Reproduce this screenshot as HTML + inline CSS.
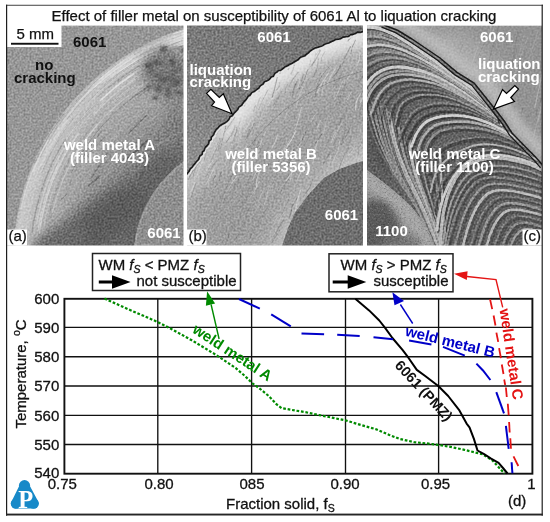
<!DOCTYPE html>
<html><head><meta charset="utf-8"><title>Effect of filler metal on susceptibility of 6061 Al to liquation cracking</title><style>
html,body{margin:0;padding:0;background:#fff;}
body{width:550px;height:522px;overflow:hidden;position:relative;}
svg{display:block;font-family:"Liberation Sans",Arial,sans-serif;}
</style></head><body>
<svg width="550" height="522" viewBox="0 0 550 522">
<defs>
<clipPath id="clipA"><rect x="7" y="25.5" width="176.5" height="220"/></clipPath>
<clipPath id="clipB"><rect x="187" y="25.5" width="176" height="220"/></clipPath>
<clipPath id="clipC"><rect x="367" y="25.5" width="175" height="220"/></clipPath>
<filter id="blur1" x="-20%" y="-20%" width="140%" height="140%"><feGaussianBlur stdDeviation="1"/></filter>
<filter id="soft" x="0" y="0" width="100%" height="100%"><feGaussianBlur stdDeviation="0.55"/></filter>
<filter id="blur2" x="-20%" y="-20%" width="140%" height="140%"><feGaussianBlur stdDeviation="2"/></filter>
<filter id="blur3" x="-20%" y="-20%" width="140%" height="140%"><feGaussianBlur stdDeviation="3"/></filter>
<filter id="blur4" x="-50%" y="-50%" width="200%" height="200%"><feGaussianBlur stdDeviation="4"/></filter>
<filter id="blur6" x="-50%" y="-50%" width="200%" height="200%"><feGaussianBlur stdDeviation="6"/></filter>
<filter id="blur8" x="-50%" y="-50%" width="200%" height="200%"><feGaussianBlur stdDeviation="8"/></filter>
<filter id="noise" x="0" y="0" width="100%" height="100%">
 <feTurbulence type="fractalNoise" baseFrequency="0.9" numOctaves="2" seed="7"/>
 <feColorMatrix type="matrix" values="0 0 0 0 0.5  0 0 0 0 0.5  0 0 0 0 0.5  1.6 0 0 0 -0.8"/>
</filter>
<filter id="grainW" x="0" y="0" width="100%" height="100%">
 <feTurbulence type="fractalNoise" baseFrequency="0.75" numOctaves="2" seed="3"/>
 <feColorMatrix type="matrix" values="0 0 0 0 1  0 0 0 0 1  0 0 0 0 1  2.2 0 0 0 -1.2"/>
</filter>
<filter id="grainK" x="0" y="0" width="100%" height="100%">
 <feTurbulence type="fractalNoise" baseFrequency="0.75" numOctaves="2" seed="11"/>
 <feColorMatrix type="matrix" values="0 0 0 0 0  0 0 0 0 0  0 0 0 0 0  2.2 0 0 0 -1.2"/>
</filter>
<filter id="ngray" x="0" y="0" width="100%" height="100%" color-interpolation-filters="sRGB">
 <feTurbulence type="fractalNoise" baseFrequency="0.5" numOctaves="3" seed="2"/>
 <feColorMatrix type="matrix" values="1 0 0 0 0  1 0 0 0 0  1 0 0 0 0  0 0 0 0 1"/>
</filter>
<filter id="streak" x="0" y="0" width="100%" height="100%" color-interpolation-filters="sRGB">
 <feTurbulence type="fractalNoise" baseFrequency="0.012 0.32" numOctaves="3" seed="9"/>
 <feColorMatrix type="matrix" values="1 0 0 0 0  1 0 0 0 0  1 0 0 0 0  0 0 0 0 1"/>
</filter>
</defs>
<rect x="0" y="0" width="550" height="522" fill="#fff"/>

<radialGradient id="gA" gradientUnits="userSpaceOnUse" cx="255" cy="260" r="242"><stop offset="0.49" stop-color="#646464"/><stop offset="0.56" stop-color="#6e6e6e"/><stop offset="0.63" stop-color="#808080"/><stop offset="0.71" stop-color="#969696"/><stop offset="0.80" stop-color="#a4a4a4"/><stop offset="0.88" stop-color="#b0b0b0"/><stop offset="0.95" stop-color="#c0c0c0"/><stop offset="0.985" stop-color="#cacaca"/><stop offset="1" stop-color="#b4b4b4"/></radialGradient>
<g clip-path="url(#clipA)">
<rect x="7" y="25.5" width="177" height="220.5" fill="#979797"/>
<circle cx="255" cy="260" r="242" fill="url(#gA)"/>
<path d="M39.8 158.0 A238.2 238.2 0 0 1 91.5 86.9" fill="none" stroke="rgb(150,150,150)" stroke-width="1.2" opacity="0.45"/>
<path d="M138.2 93.3 A203.5 203.5 0 0 1 196.5 65.1" fill="none" stroke="rgb(100,100,100)" stroke-width="1.6" opacity="0.33"/>
<path d="M96.8 164.2 A184.9 184.9 0 0 1 144.4 111.8" fill="none" stroke="rgb(185,185,185)" stroke-width="0.8" opacity="0.33"/>
<path d="M125.9 69.2 A230.4 230.4 0 0 1 185.7 40.3" fill="none" stroke="rgb(215,215,215)" stroke-width="0.8" opacity="0.48"/>
<path d="M32.8 172.2 A238.9 238.9 0 0 1 48.6 139.6" fill="none" stroke="rgb(235,235,235)" stroke-width="1.3" opacity="0.42"/>
<path d="M135.0 98.8 A200.9 200.9 0 0 1 210.0 64.2" fill="none" stroke="rgb(120,120,120)" stroke-width="1.4" opacity="0.39"/>
<path d="M150.5 119.7 A175.0 175.0 0 0 1 176.9 103.5" fill="none" stroke="rgb(185,185,185)" stroke-width="0.9" opacity="0.42"/>
<path d="M93.6 114.9 A217.0 217.0 0 0 1 170.5 60.1" fill="none" stroke="rgb(235,235,235)" stroke-width="1.5" opacity="0.40"/>
<path d="M70.5 164.3 A207.9 207.9 0 0 1 97.0 124.9" fill="none" stroke="rgb(235,235,235)" stroke-width="1.5" opacity="0.49"/>
<path d="M117.2 82.9 A224.4 224.4 0 0 1 223.4 37.9" fill="none" stroke="rgb(150,150,150)" stroke-width="1.3" opacity="0.49"/>
<path d="M75.1 127.1 A223.7 223.7 0 0 1 101.7 97.1" fill="none" stroke="rgb(150,150,150)" stroke-width="1.4" opacity="0.32"/>
<path d="M88.1 136.3 A207.8 207.8 0 0 1 123.7 99.0" fill="none" stroke="rgb(215,215,215)" stroke-width="1.3" opacity="0.42"/>
<path d="M43.8 227.8 A213.6 213.6 0 0 1 83.1 133.2" fill="none" stroke="rgb(215,215,215)" stroke-width="1.4" opacity="0.35"/>
<path d="M111.7 69.8 A238.2 238.2 0 0 1 143.1 49.8" fill="none" stroke="rgb(140,140,140)" stroke-width="1.0" opacity="0.52"/>
<path d="M137.5 87.8 A208.5 208.5 0 0 1 183.2 64.3" fill="none" stroke="rgb(225,225,225)" stroke-width="1.0" opacity="0.60"/>
<path d="M36.5 224.5 A221.4 221.4 0 0 1 64.1 147.9" fill="none" stroke="rgb(215,215,215)" stroke-width="1.6" opacity="0.58"/>
<path d="M83.0 100.0 A234.9 234.9 0 0 1 184.3 35.9" fill="none" stroke="rgb(235,235,235)" stroke-width="1.6" opacity="0.36"/>
<path d="M127.6 82.7 A218.3 218.3 0 0 1 182.6 54.0" fill="none" stroke="rgb(200,200,200)" stroke-width="1.0" opacity="0.55"/>
<path d="M48.0 221.1 A210.6 210.6 0 0 1 93.8 124.5" fill="none" stroke="rgb(140,140,140)" stroke-width="1.3" opacity="0.34"/>
<path d="M106.8 115.0 A207.3 207.3 0 0 1 194.2 61.8" fill="none" stroke="rgb(200,200,200)" stroke-width="1.2" opacity="0.59"/>
<path d="M45.7 149.5 A236.7 236.7 0 0 1 98.5 82.5" fill="none" stroke="rgb(215,215,215)" stroke-width="1.2" opacity="0.38"/>
<path d="M20.9 208.8 A239.6 239.6 0 0 1 57.0 125.1" fill="none" stroke="rgb(235,235,235)" stroke-width="1.3" opacity="0.41"/>
<path d="M106.1 108.0 A212.8 212.8 0 0 1 130.2 87.7" fill="none" stroke="rgb(215,215,215)" stroke-width="0.7" opacity="0.58"/>
<path d="M71.1 173.1 A203.4 203.4 0 0 1 116.6 110.9" fill="none" stroke="rgb(110,110,110)" stroke-width="1.0" opacity="0.46"/>
<path d="M52.5 164.3 A223.9 223.9 0 0 1 100.6 97.8" fill="none" stroke="rgb(235,235,235)" stroke-width="0.8" opacity="0.53"/>
<path d="M111.9 91.1 A221.4 221.4 0 0 1 213.1 42.6" fill="none" stroke="rgb(150,150,150)" stroke-width="1.0" opacity="0.51"/>
<path d="M34.8 187.9 A231.7 231.7 0 0 1 54.8 143.3" fill="none" stroke="rgb(200,200,200)" stroke-width="0.8" opacity="0.48"/>
<path d="M107.2 144.4 A187.7 187.7 0 0 1 181.4 87.4" fill="none" stroke="rgb(185,185,185)" stroke-width="1.5" opacity="0.40"/>
<path d="M82.5 111.3 A227.8 227.8 0 0 1 170.5 48.4" fill="none" stroke="rgb(200,200,200)" stroke-width="1.4" opacity="0.34"/>
<path d="M39.3 234.0 A217.2 217.2 0 0 1 79.1 132.5" fill="none" stroke="rgb(235,235,235)" stroke-width="1.5" opacity="0.53"/>
<path d="M104.6 84.5 A231.2 231.2 0 0 1 181.7 40.7" fill="none" stroke="rgb(140,140,140)" stroke-width="0.8" opacity="0.37"/>
<path d="M50.8 181.4 A218.8 218.8 0 0 1 104.4 101.2" fill="none" stroke="rgb(235,235,235)" stroke-width="1.3" opacity="0.41"/>
<path d="M25.5 232.0 A231.2 231.2 0 0 1 43.8 165.8" fill="none" stroke="rgb(225,225,225)" stroke-width="1.5" opacity="0.25"/>
<path d="M133.7 96.7 A203.4 203.4 0 0 1 230.6 58.1" fill="none" stroke="rgb(120,120,120)" stroke-width="1.6" opacity="0.45"/>
<path d="M47.9 139.9 A239.4 239.4 0 0 1 116.6 64.6" fill="none" stroke="rgb(150,150,150)" stroke-width="1.0" opacity="0.43"/>
<path d="M41.3 165.9 A233.5 233.5 0 0 1 68.0 120.3" fill="none" stroke="rgb(215,215,215)" stroke-width="1.6" opacity="0.55"/>
<path d="M32.0 232.9 A224.6 224.6 0 0 1 65.8 139.0" fill="none" stroke="rgb(140,140,140)" stroke-width="1.5" opacity="0.57"/>
<path d="M123.9 76.4 A225.6 225.6 0 0 1 197.3 41.9" fill="none" stroke="rgb(215,215,215)" stroke-width="0.8" opacity="0.42"/>
<path d="M37.4 236.8 A218.8 218.8 0 0 1 58.2 164.4" fill="none" stroke="rgb(215,215,215)" stroke-width="1.3" opacity="0.58"/>
<path d="M34.9 163.0 A240.6 240.6 0 0 1 63.7 114.1" fill="none" stroke="rgb(140,140,140)" stroke-width="1.4" opacity="0.42"/>
<path d="M66.0 130.5 A229.1 229.1 0 0 1 141.7 60.8" fill="none" stroke="rgb(225,225,225)" stroke-width="0.9" opacity="0.33"/>
<path d="M122.5 78.1 A225.0 225.0 0 0 1 159.0 56.4" fill="none" stroke="rgb(215,215,215)" stroke-width="1.2" opacity="0.42"/>
<path d="M65.4 196.0 A200.2 200.2 0 0 1 102.2 130.7" fill="none" stroke="rgb(100,100,100)" stroke-width="1.1" opacity="0.40"/>
<path d="M112.7 103.6 A211.4 211.4 0 0 1 136.0 85.2" fill="none" stroke="rgb(215,215,215)" stroke-width="0.7" opacity="0.52"/>
<path d="M48.2 235.3 A208.2 208.2 0 0 1 75.6 154.3" fill="none" stroke="rgb(140,140,140)" stroke-width="1.0" opacity="0.43"/>
<path d="M41.8 172.6 A230.4 230.4 0 0 1 73.5 118.1" fill="none" stroke="rgb(150,150,150)" stroke-width="1.0" opacity="0.39"/>
<path d="M50.7 148.7 A232.6 232.6 0 0 1 75.2 112.4" fill="none" stroke="rgb(215,215,215)" stroke-width="1.0" opacity="0.50"/>
<path d="M104.9 235.2 A152.1 152.1 0 0 1 113.3 204.7" fill="none" stroke="rgb(110,110,110)" stroke-width="1.3" opacity="0.41"/>
<path d="M56.9 234.3 A199.7 199.7 0 0 1 91.2 145.7" fill="none" stroke="rgb(170,170,170)" stroke-width="1.1" opacity="0.38"/>
<path d="M88.6 101.2 A230.0 230.0 0 0 1 143.2 59.0" fill="none" stroke="rgb(150,150,150)" stroke-width="0.7" opacity="0.40"/>
<path d="M67.4 116.3 A236.3 236.3 0 0 1 148.1 49.2" fill="none" stroke="rgb(225,225,225)" stroke-width="1.5" opacity="0.40"/>
<path d="M134.9 78.5 A217.7 217.7 0 0 1 190.4 52.1" fill="none" stroke="rgb(140,140,140)" stroke-width="0.9" opacity="0.53"/>
<path d="M108.9 87.6 A226.0 226.0 0 0 1 186.3 44.7" fill="none" stroke="rgb(140,140,140)" stroke-width="1.3" opacity="0.53"/>
<path d="M88.1 91.0 A237.6 237.6 0 0 1 157.5 43.4" fill="none" stroke="rgb(215,215,215)" stroke-width="1.3" opacity="0.53"/>
<path d="M58.5 162.6 A219.3 219.3 0 0 1 102.6 102.3" fill="none" stroke="rgb(140,140,140)" stroke-width="1.5" opacity="0.28"/>
<path d="M25.6 199.2 A237.4 237.4 0 0 1 37.1 165.8" fill="none" stroke="rgb(215,215,215)" stroke-width="0.8" opacity="0.26"/>
<path d="M72.5 191.2 A195.0 195.0 0 0 1 95.7 147.5" fill="none" stroke="rgb(170,170,170)" stroke-width="1.4" opacity="0.26"/>
<path d="M57.6 131.2 A235.7 235.7 0 0 1 126.1 62.6" fill="none" stroke="rgb(215,215,215)" stroke-width="0.8" opacity="0.44"/>
<path d="M131.0 96.5 A205.2 205.2 0 0 1 167.6 74.4" fill="none" stroke="rgb(215,215,215)" stroke-width="0.9" opacity="0.33"/>
<path d="M38.6 186.5 A228.5 228.5 0 0 1 80.7 112.2" fill="none" stroke="rgb(200,200,200)" stroke-width="1.2" opacity="0.34"/>
<path d="M146.5 85.4 A205.5 205.5 0 0 1 199.7 62.0" fill="none" stroke="rgb(225,225,225)" stroke-width="1.1" opacity="0.59"/>
<path d="M97.9 96.7 A226.6 226.6 0 0 1 133.7 68.6" fill="none" stroke="rgb(150,150,150)" stroke-width="1.2" opacity="0.45"/>
<path d="M60.1 212.9 A200.5 200.5 0 0 1 82.1 158.5" fill="none" stroke="rgb(185,185,185)" stroke-width="1.1" opacity="0.31"/>
<path d="M67.6 144.7 A220.0 220.0 0 0 1 128.7 79.9" fill="none" stroke="rgb(200,200,200)" stroke-width="1.5" opacity="0.46"/>
<path d="M52.2 213.0 A208.2 208.2 0 0 1 79.2 148.4" fill="none" stroke="rgb(225,225,225)" stroke-width="1.2" opacity="0.55"/>
<path d="M118.7 109.3 A203.2 203.2 0 0 1 187.7 68.3" fill="none" stroke="rgb(120,120,120)" stroke-width="1.2" opacity="0.46"/>
<path d="M89.5 193.5 A178.4 178.4 0 0 1 110.3 155.7" fill="none" stroke="rgb(120,120,120)" stroke-width="1.2" opacity="0.32"/>
<path d="M32.1 187.0 A234.6 234.6 0 0 1 67.0 119.6" fill="none" stroke="rgb(225,225,225)" stroke-width="1.3" opacity="0.40"/>
<path d="M67.2 118.9 A234.9 234.9 0 0 1 154.9 47.5" fill="none" stroke="rgb(150,150,150)" stroke-width="1.1" opacity="0.44"/>
<path d="M97.3 104.3 A221.6 221.6 0 0 1 184.6 49.9" fill="none" stroke="rgb(200,200,200)" stroke-width="1.5" opacity="0.52"/>
<path d="M210.9 53.2 A211.5 211.5 0 0 1 271.0 49.1" fill="none" stroke="rgb(225,225,225)" stroke-width="0.9" opacity="0.43"/>
<path d="M119.8 71.1 A232.3 232.3 0 0 1 193.5 36.0" fill="none" stroke="rgb(245,245,245)" stroke-width="0.9" opacity="0.57"/>
<path d="M211.6 24.7 A239.3 239.3 0 0 1 247.8 20.8" fill="none" stroke="rgb(235,235,235)" stroke-width="1.1" opacity="0.50"/>
<path d="M181.5 34.1 A237.6 237.6 0 0 1 211.1 26.5" fill="none" stroke="rgb(235,235,235)" stroke-width="1.1" opacity="0.67"/>
<path d="M185.8 44.8 A226.0 226.0 0 0 1 229.6 35.4" fill="none" stroke="rgb(235,235,235)" stroke-width="1.1" opacity="0.50"/>
<path d="M147.1 48.4 A237.5 237.5 0 0 1 182.9 33.7" fill="none" stroke="rgb(225,225,225)" stroke-width="1.5" opacity="0.52"/>
<path d="M205.4 33.0 A232.3 232.3 0 0 1 234.4 28.6" fill="none" stroke="rgb(245,245,245)" stroke-width="0.9" opacity="0.66"/>
<path d="M209.2 32.3 A232.3 232.3 0 0 1 239.5 28.2" fill="none" stroke="rgb(225,225,225)" stroke-width="1.2" opacity="0.62"/>
<path d="M172.8 34.0 A240.5 240.5 0 0 1 240.2 20.0" fill="none" stroke="rgb(245,245,245)" stroke-width="0.9" opacity="0.68"/>
<path d="M131.9 66.6 A229.3 229.3 0 0 1 186.4 41.2" fill="none" stroke="rgb(225,225,225)" stroke-width="0.9" opacity="0.52"/>
<path d="M177.5 45.9 A227.7 227.7 0 0 1 235.8 33.1" fill="none" stroke="rgb(235,235,235)" stroke-width="1.4" opacity="0.61"/>
<path d="M113.2 87.7 A223.2 223.2 0 0 1 151.8 62.1" fill="none" stroke="rgb(225,225,225)" stroke-width="1.3" opacity="0.39"/>
<path d="M178.7 62.6 A211.7 211.7 0 0 1 237.5 49.1" fill="none" stroke="rgb(245,245,245)" stroke-width="1.4" opacity="0.58"/>
<path d="M147.1 57.5 A229.4 229.4 0 0 1 187.7 40.7" fill="none" stroke="rgb(235,235,235)" stroke-width="1.5" opacity="0.39"/>
<path d="M161.1 46.1 A233.6 233.6 0 0 1 208.7 31.1" fill="none" stroke="rgb(235,235,235)" stroke-width="1.1" opacity="0.48"/>
<path d="M205.5 40.7 A224.9 224.9 0 0 1 231.3 36.4" fill="none" stroke="rgb(225,225,225)" stroke-width="1.1" opacity="0.59"/>
<path d="M218.0 50.7 A212.6 212.6 0 0 1 266.6 47.8" fill="none" stroke="rgb(235,235,235)" stroke-width="1.2" opacity="0.65"/>
<path d="M99.1 79.7 A238.4 238.4 0 0 1 133.9 54.7" fill="none" stroke="rgb(235,235,235)" stroke-width="1.5" opacity="0.55"/>
<path d="M177.8 37.8 A235.2 235.2 0 0 1 238.2 25.4" fill="none" stroke="rgb(225,225,225)" stroke-width="1.5" opacity="0.64"/>
<path d="M184.4 33.4 A237.3 237.3 0 0 1 247.4 22.8" fill="none" stroke="rgb(235,235,235)" stroke-width="1.7" opacity="0.63"/>
<path d="M110.5 77.5 A232.8 232.8 0 0 1 181.2 39.2" fill="none" stroke="rgb(245,245,245)" stroke-width="1.6" opacity="0.36"/>
<path d="M192.1 29.8 A238.6 238.6 0 0 1 275.7 22.3" fill="none" stroke="rgb(245,245,245)" stroke-width="1.1" opacity="0.67"/>
<path d="M154.1 47.8 A235.0 235.0 0 0 1 221.8 27.4" fill="none" stroke="rgb(225,225,225)" stroke-width="1.3" opacity="0.56"/>
<path d="M184.9 45.5 A225.7 225.7 0 0 1 207.8 39.3" fill="none" stroke="rgb(225,225,225)" stroke-width="1.0" opacity="0.41"/>
<path d="M190.2 34.7 A234.4 234.4 0 0 1 227.8 27.2" fill="none" stroke="rgb(225,225,225)" stroke-width="1.7" opacity="0.68"/>
<path d="M101.6 82.7 A234.4 234.4 0 0 1 136.6 57.7" fill="none" stroke="rgb(225,225,225)" stroke-width="1.7" opacity="0.40"/>
<path d="M93.8 87.9 A235.9 235.9 0 0 1 132.2 58.6" fill="none" stroke="rgb(235,235,235)" stroke-width="1.3" opacity="0.52"/>
<path d="M99.9 101.0 A222.1 222.1 0 0 1 134.5 73.4" fill="none" stroke="rgb(245,245,245)" stroke-width="1.7" opacity="0.59"/>
<path d="M168.9 54.7 A222.6 222.6 0 0 1 247.5 37.5" fill="none" stroke="rgb(225,225,225)" stroke-width="0.9" opacity="0.70"/>
<path d="M224.0 41.9 A220.3 220.3 0 0 1 259.6 39.7" fill="none" stroke="rgb(235,235,235)" stroke-width="1.7" opacity="0.50"/>
<path d="M138.4 180.6 l6.1 -9.3" stroke="rgb(60,60,60)" stroke-width="1.8" opacity="0.51"/>
<path d="M90.9 179.2 l16.6 -26.5" stroke="rgb(70,70,70)" stroke-width="1.6" opacity="0.39"/>
<path d="M100.4 214.6 l9.7 -10.8" stroke="rgb(60,60,60)" stroke-width="1.7" opacity="0.41"/>
<path d="M88.2 186.2 l11.6 -10.5" stroke="rgb(60,60,60)" stroke-width="1.8" opacity="0.38"/>
<path d="M88.1 226.9 l10.1 -9.7" stroke="rgb(60,60,60)" stroke-width="1.0" opacity="0.42"/>
<path d="M103.7 127.5 l10.8 -18.2" stroke="rgb(170,170,170)" stroke-width="0.8" opacity="0.51"/>
<path d="M104.1 233.6 l13.4 -8.9" stroke="rgb(170,170,170)" stroke-width="1.4" opacity="0.35"/>
<path d="M120.9 163.3 l6.3 -9.4" stroke="rgb(80,80,80)" stroke-width="1.1" opacity="0.54"/>
<path d="M100.5 236.6 l10.2 -12.6" stroke="rgb(80,80,80)" stroke-width="0.8" opacity="0.40"/>
<path d="M169.1 159.6 l11.0 -17.8" stroke="rgb(60,60,60)" stroke-width="1.5" opacity="0.30"/>
<path d="M157.0 145.1 l18.8 -11.2" stroke="rgb(170,170,170)" stroke-width="1.9" opacity="0.58"/>
<path d="M118.9 238.3 l9.3 -14.6" stroke="rgb(170,170,170)" stroke-width="0.9" opacity="0.42"/>
<path d="M83.4 205.0 l12.2 -7.6" stroke="rgb(170,170,170)" stroke-width="1.8" opacity="0.47"/>
<path d="M160.1 165.4 l10.6 -11.6" stroke="rgb(170,170,170)" stroke-width="1.2" opacity="0.55"/>
<path d="M105.9 214.1 l23.1 -14.8" stroke="rgb(170,170,170)" stroke-width="0.9" opacity="0.35"/>
<path d="M125.9 160.0 l22.3 -20.1" stroke="rgb(60,60,60)" stroke-width="1.9" opacity="0.56"/>
<path d="M98.5 232.1 l14.5 -11.3" stroke="rgb(80,80,80)" stroke-width="0.8" opacity="0.36"/>
<path d="M84.0 158.9 l21.0 -22.2" stroke="rgb(70,70,70)" stroke-width="1.1" opacity="0.31"/>
<path d="M59.8 200.6 l7.6 -6.9" stroke="rgb(70,70,70)" stroke-width="1.1" opacity="0.36"/>
<path d="M150.6 184.4 l23.2 -23.0" stroke="rgb(80,80,80)" stroke-width="1.7" opacity="0.46"/>
<path d="M165.6 144.9 l10.2 -6.7" stroke="rgb(170,170,170)" stroke-width="1.3" opacity="0.55"/>
<path d="M128.5 133.6 l18.7 -19.0" stroke="rgb(80,80,80)" stroke-width="1.3" opacity="0.50"/>
<path d="M141.1 156.5 l18.0 -11.1" stroke="rgb(170,170,170)" stroke-width="1.0" opacity="0.46"/>
<path d="M100.3 211.0 l10.0 -15.8" stroke="rgb(170,170,170)" stroke-width="1.7" opacity="0.58"/>
<path d="M129.2 165.6 l9.4 -6.9" stroke="rgb(180,180,180)" stroke-width="1.1" opacity="0.41"/>
<path d="M169.4 161.9 l8.2 -8.9" stroke="rgb(70,70,70)" stroke-width="1.2" opacity="0.52"/>
<ellipse cx="166" cy="72" rx="24" ry="26" transform="rotate(-30 166 72)" fill="#7a7a7a" filter="url(#blur6)"/>
<ellipse cx="167.8" cy="89.4" rx="2.4" ry="3.0" fill="rgb(93,93,93)" filter="url(#blur1)" opacity="0.7"/>
<ellipse cx="174.8" cy="81.4" rx="4.3" ry="1.8" fill="rgb(77,77,77)" filter="url(#blur1)" opacity="0.7"/>
<ellipse cx="179.0" cy="68.1" rx="3.9" ry="2.7" fill="rgb(102,102,102)" filter="url(#blur1)" opacity="0.7"/>
<ellipse cx="174.0" cy="84.8" rx="4.5" ry="1.3" fill="rgb(78,78,78)" filter="url(#blur1)" opacity="0.7"/>
<ellipse cx="178.9" cy="93.1" rx="4.1" ry="2.4" fill="rgb(79,79,79)" filter="url(#blur1)" opacity="0.7"/>
<ellipse cx="178.5" cy="82.7" rx="3.1" ry="3.2" fill="rgb(91,91,91)" filter="url(#blur1)" opacity="0.7"/>
<ellipse cx="172.3" cy="62.0" rx="3.0" ry="3.2" fill="rgb(75,75,75)" filter="url(#blur1)" opacity="0.7"/>
<ellipse cx="172.3" cy="78.0" rx="3.9" ry="3.3" fill="rgb(96,96,96)" filter="url(#blur1)" opacity="0.7"/>
<ellipse cx="148.7" cy="65.5" rx="4.2" ry="2.9" fill="rgb(73,73,73)" filter="url(#blur1)" opacity="0.7"/>
<ellipse cx="149.9" cy="71.2" rx="3.8" ry="3.2" fill="rgb(107,107,107)" filter="url(#blur1)" opacity="0.7"/>
<ellipse cx="157.1" cy="75.6" rx="3.1" ry="2.0" fill="rgb(85,85,85)" filter="url(#blur1)" opacity="0.7"/>
<ellipse cx="158.2" cy="88.3" rx="3.7" ry="3.1" fill="rgb(82,82,82)" filter="url(#blur1)" opacity="0.7"/>
<ellipse cx="168.3" cy="94.6" rx="3.5" ry="3.3" fill="rgb(86,86,86)" filter="url(#blur1)" opacity="0.7"/>
<ellipse cx="160.1" cy="63.3" rx="3.2" ry="1.8" fill="rgb(106,106,106)" filter="url(#blur1)" opacity="0.7"/>
<ellipse cx="148.4" cy="86.4" rx="1.6" ry="2.9" fill="rgb(92,92,92)" filter="url(#blur1)" opacity="0.7"/>
<ellipse cx="166.0" cy="48.0" rx="2.4" ry="1.4" fill="rgb(82,82,82)" filter="url(#blur1)" opacity="0.7"/>
<ellipse cx="185.5" cy="95.1" rx="3.4" ry="2.4" fill="rgb(71,71,71)" filter="url(#blur1)" opacity="0.7"/>
<ellipse cx="153.3" cy="71.7" rx="3.9" ry="1.6" fill="rgb(107,107,107)" filter="url(#blur1)" opacity="0.7"/>
<ellipse cx="185.8" cy="97.8" rx="4.2" ry="1.3" fill="rgb(77,77,77)" filter="url(#blur1)" opacity="0.7"/>
<ellipse cx="185.0" cy="61.8" rx="3.9" ry="1.3" fill="rgb(90,90,90)" filter="url(#blur1)" opacity="0.7"/>
<ellipse cx="183.2" cy="50.1" rx="4.0" ry="2.7" fill="rgb(89,89,89)" filter="url(#blur1)" opacity="0.7"/>
<ellipse cx="163.3" cy="49.1" rx="3.1" ry="3.5" fill="rgb(75,75,75)" filter="url(#blur1)" opacity="0.7"/>
<ellipse cx="156.5" cy="97.7" rx="2.0" ry="1.9" fill="rgb(106,106,106)" filter="url(#blur1)" opacity="0.7"/>
<ellipse cx="175.5" cy="71.8" rx="4.0" ry="1.7" fill="rgb(95,95,95)" filter="url(#blur1)" opacity="0.7"/>
<ellipse cx="163.5" cy="79.5" rx="4.4" ry="2.9" fill="rgb(74,74,74)" filter="url(#blur1)" opacity="0.7"/>
<ellipse cx="156.7" cy="62.5" rx="4.4" ry="2.6" fill="rgb(82,82,82)" filter="url(#blur1)" opacity="0.7"/>
<ellipse cx="184.5" cy="76.8" rx="2.8" ry="3.3" fill="rgb(103,103,103)" filter="url(#blur1)" opacity="0.7"/>
<ellipse cx="160.5" cy="76.8" rx="2.2" ry="1.9" fill="rgb(105,105,105)" filter="url(#blur1)" opacity="0.7"/>
<ellipse cx="154.5" cy="98.5" rx="2.4" ry="2.0" fill="rgb(83,83,83)" filter="url(#blur1)" opacity="0.7"/>
<ellipse cx="170.5" cy="73.5" rx="1.5" ry="3.4" fill="rgb(103,103,103)" filter="url(#blur1)" opacity="0.7"/>
<ellipse cx="100" cy="224" rx="62" ry="24" transform="rotate(-38 100 224)" fill="#5c5c5c" filter="url(#blur8)"/>
<ellipse cx="60" cy="240" rx="30" ry="12" transform="rotate(-20 60 240)" fill="#6a6a6a" filter="url(#blur6)"/>
<ellipse cx="162" cy="168" rx="26" ry="11" transform="rotate(-35 162 168)" fill="#646464" filter="url(#blur6)"/>
<ellipse cx="178" cy="125" rx="10" ry="35" fill="#7c7c7c" filter="url(#blur8)" opacity="0.8"/>
<circle cx="255" cy="260" r="121" fill="#8e8e8e"/>
<circle cx="255" cy="260" r="121" fill="none" stroke="#a6a6a6" stroke-width="2" opacity="0.7"/>
<rect x="7" y="25.5" width="177" height="221" filter="url(#ngray)" style="mix-blend-mode:overlay" opacity="0.45"/>
</g>
<radialGradient id="gB" gradientUnits="userSpaceOnUse" cx="449" cy="313" r="296"><stop offset="0.60" stop-color="#c0c0c0"/><stop offset="0.635" stop-color="#b0b0b0"/><stop offset="0.70" stop-color="#a2a2a2"/><stop offset="0.80" stop-color="#a0a0a0"/><stop offset="0.88" stop-color="#a8a8a8"/><stop offset="0.94" stop-color="#b2b2b2"/><stop offset="0.975" stop-color="#bebebe"/><stop offset="0.995" stop-color="#c6c6c6"/><stop offset="1" stop-color="#bebebe"/></radialGradient>
<linearGradient id="gBbase" gradientUnits="userSpaceOnUse" x1="330" y1="25" x2="190" y2="175"><stop offset="0" stop-color="#747474"/><stop offset="0.55" stop-color="#7c7c7c"/><stop offset="1" stop-color="#939393"/></linearGradient>
<g clip-path="url(#clipB)">
<rect x="187" y="25.5" width="176" height="220.5" fill="url(#gBbase)"/>
<circle cx="449" cy="313" r="296" fill="url(#gB)"/>
<path d="M220.9 137.0 C223.6 134.6 231.9 128.2 237.3 122.6 C242.7 117.0 248.0 109.0 253.1 103.7 C258.2 98.4 263.1 95.0 267.9 91.0 C272.7 87.0 276.8 83.1 282.0 79.4 C287.2 75.7 292.7 72.9 299.1 68.9 C305.5 64.9 313.2 58.9 320.2 55.2 C327.2 51.5 333.2 49.6 341.2 46.8 C349.2 44.0 363.5 39.7 368.0 38.3" fill="none" stroke="#e0e0e0" stroke-width="14" filter="url(#blur4)" opacity="0.85"/>
<path d="M234.8 119.1 C237.4 115.9 245.5 105.5 250.6 100.2 C255.7 94.9 260.6 91.5 265.4 87.5 C270.2 83.5 274.3 79.6 279.5 75.9 C284.7 72.2 290.2 69.4 296.6 65.4 C303.0 61.4 310.7 55.4 317.7 51.7 C324.7 48.0 330.7 46.1 338.7 43.3 C346.7 40.5 361.0 36.2 365.5 34.8" fill="none" stroke="#ececec" stroke-width="5" filter="url(#blur2)" opacity="0.8"/>
<clipPath id="clipBW"><circle cx="449" cy="313" r="295"/></clipPath>
<g clip-path="url(#clipBW)">
<path d="M226.9 237.7 Q226.8 227.6 231.6 217.5" fill="none" stroke="rgb(225,225,225)" stroke-width="1.2" opacity="0.45"/>
<path d="M272.8 111.3 Q277.2 100.3 282.7 89.3" fill="none" stroke="rgb(120,120,120)" stroke-width="0.8" opacity="0.31"/>
<path d="M234.0 115.1 Q235.6 108.8 241.9 102.6" fill="none" stroke="rgb(215,215,215)" stroke-width="0.7" opacity="0.54"/>
<path d="M255.0 208.3 Q254.4 203.9 257.0 199.5" fill="none" stroke="rgb(235,235,235)" stroke-width="0.9" opacity="0.49"/>
<path d="M345.6 153.5 Q349.4 149.1 347.8 144.6" fill="none" stroke="rgb(120,120,120)" stroke-width="1.1" opacity="0.34"/>
<path d="M338.4 125.8 Q342.1 118.6 345.1 111.3" fill="none" stroke="rgb(110,110,110)" stroke-width="1.2" opacity="0.34"/>
<path d="M321.5 46.6 Q328.9 37.4 331.0 28.2" fill="none" stroke="rgb(110,110,110)" stroke-width="0.9" opacity="0.49"/>
<path d="M241.3 103.6 Q246.1 94.1 247.2 84.7" fill="none" stroke="rgb(110,110,110)" stroke-width="1.0" opacity="0.51"/>
<path d="M234.0 118.6 Q240.1 107.7 241.6 96.9" fill="none" stroke="rgb(225,225,225)" stroke-width="1.1" opacity="0.33"/>
<path d="M191.5 240.0 Q194.5 235.2 194.0 230.3" fill="none" stroke="rgb(120,120,120)" stroke-width="0.8" opacity="0.35"/>
<path d="M259.2 123.6 Q261.2 114.9 265.7 106.2" fill="none" stroke="rgb(235,235,235)" stroke-width="0.6" opacity="0.50"/>
<path d="M321.5 141.5 Q324.4 129.5 327.5 117.4" fill="none" stroke="rgb(225,225,225)" stroke-width="1.3" opacity="0.32"/>
<path d="M255.0 151.8 Q261.2 145.5 261.9 139.2" fill="none" stroke="rgb(235,235,235)" stroke-width="1.1" opacity="0.45"/>
<path d="M197.7 161.4 Q205.8 151.4 210.2 141.4" fill="none" stroke="rgb(110,110,110)" stroke-width="1.0" opacity="0.35"/>
<path d="M357.7 122.6 Q359.7 113.3 361.7 104.1" fill="none" stroke="rgb(120,120,120)" stroke-width="1.2" opacity="0.41"/>
<path d="M206.1 184.3 Q210.8 174.9 215.3 165.5" fill="none" stroke="rgb(235,235,235)" stroke-width="1.1" opacity="0.44"/>
<path d="M256.3 104.7 Q257.5 99.2 259.4 93.6" fill="none" stroke="rgb(235,235,235)" stroke-width="0.7" opacity="0.30"/>
<path d="M292.7 225.3 Q298.0 215.1 302.9 204.8" fill="none" stroke="rgb(150,150,150)" stroke-width="1.1" opacity="0.45"/>
<path d="M311.1 69.3 Q314.9 60.9 315.8 52.5" fill="none" stroke="rgb(150,150,150)" stroke-width="0.7" opacity="0.39"/>
<path d="M243.5 225.4 Q244.3 216.3 250.2 207.2" fill="none" stroke="rgb(120,120,120)" stroke-width="1.3" opacity="0.41"/>
<path d="M277.9 163.1 Q282.8 154.0 290.2 144.8" fill="none" stroke="rgb(110,110,110)" stroke-width="0.7" opacity="0.45"/>
<path d="M253.6 154.3 Q256.2 149.4 260.0 144.5" fill="none" stroke="rgb(120,120,120)" stroke-width="1.2" opacity="0.51"/>
<path d="M331.5 158.7 Q334.0 151.3 336.6 143.9" fill="none" stroke="rgb(135,135,135)" stroke-width="1.0" opacity="0.32"/>
<path d="M215.8 135.1 Q224.2 124.1 229.3 113.2" fill="none" stroke="rgb(135,135,135)" stroke-width="1.2" opacity="0.38"/>
<path d="M238.3 202.7 Q243.2 196.7 243.3 190.7" fill="none" stroke="rgb(120,120,120)" stroke-width="0.8" opacity="0.37"/>
<path d="M230.7 136.5 Q234.7 130.9 235.1 125.2" fill="none" stroke="rgb(135,135,135)" stroke-width="1.2" opacity="0.41"/>
<path d="M255.3 169.7 Q264.2 158.4 268.0 147.2" fill="none" stroke="rgb(110,110,110)" stroke-width="1.2" opacity="0.31"/>
<path d="M304.8 87.4 Q306.0 82.7 309.0 78.0" fill="none" stroke="rgb(150,150,150)" stroke-width="0.6" opacity="0.54"/>
<path d="M334.1 43.6 Q339.6 32.6 339.3 21.7" fill="none" stroke="rgb(235,235,235)" stroke-width="1.2" opacity="0.52"/>
<path d="M292.6 95.6 Q293.7 88.7 296.9 81.8" fill="none" stroke="rgb(135,135,135)" stroke-width="1.2" opacity="0.57"/>
<path d="M294.3 121.0 Q295.1 109.3 300.1 97.7" fill="none" stroke="rgb(150,150,150)" stroke-width="1.1" opacity="0.33"/>
<path d="M218.1 190.6 Q219.4 186.3 220.1 181.9" fill="none" stroke="rgb(150,150,150)" stroke-width="0.7" opacity="0.35"/>
<path d="M299.6 90.3 Q299.6 82.1 304.3 73.9" fill="none" stroke="rgb(150,150,150)" stroke-width="1.3" opacity="0.60"/>
<path d="M350.9 54.3 Q351.3 47.0 355.7 39.7" fill="none" stroke="rgb(110,110,110)" stroke-width="0.9" opacity="0.51"/>
<path d="M265.9 172.6 Q268.9 161.8 272.6 150.9" fill="none" stroke="rgb(150,150,150)" stroke-width="1.2" opacity="0.58"/>
<path d="M273.2 106.0 Q276.5 98.5 282.2 91.0" fill="none" stroke="rgb(150,150,150)" stroke-width="1.3" opacity="0.55"/>
<path d="M334.7 86.2 Q340.1 78.5 342.1 70.8" fill="none" stroke="rgb(135,135,135)" stroke-width="0.8" opacity="0.37"/>
<path d="M279.7 194.4 Q282.4 186.0 289.7 177.5" fill="none" stroke="rgb(120,120,120)" stroke-width="0.6" opacity="0.56"/>
<path d="M276.2 90.4 Q280.5 86.4 279.0 82.4" fill="none" stroke="rgb(110,110,110)" stroke-width="1.1" opacity="0.32"/>
<path d="M219.5 153.2 Q221.9 140.8 225.3 128.5" fill="none" stroke="rgb(150,150,150)" stroke-width="1.0" opacity="0.56"/>
<path d="M252.6 136.0 Q257.8 127.4 264.5 118.9" fill="none" stroke="rgb(215,215,215)" stroke-width="0.7" opacity="0.40"/>
<path d="M205.0 211.4 Q209.1 203.9 212.3 196.5" fill="none" stroke="rgb(215,215,215)" stroke-width="1.1" opacity="0.43"/>
<path d="M317.7 173.1 Q324.6 162.2 329.5 151.4" fill="none" stroke="rgb(150,150,150)" stroke-width="0.8" opacity="0.31"/>
<path d="M251.5 149.1 Q256.2 139.7 257.4 130.4" fill="none" stroke="rgb(110,110,110)" stroke-width="0.9" opacity="0.39"/>
<path d="M307.5 125.4 Q309.7 118.1 312.0 110.8" fill="none" stroke="rgb(150,150,150)" stroke-width="1.0" opacity="0.45"/>
<path d="M302.1 100.4 Q305.6 90.7 310.9 81.0" fill="none" stroke="rgb(135,135,135)" stroke-width="1.1" opacity="0.41"/>
<path d="M287.8 69.9 Q293.2 61.3 295.1 52.8" fill="none" stroke="rgb(135,135,135)" stroke-width="1.2" opacity="0.33"/>
<path d="M225.3 165.6 Q226.8 154.1 232.0 142.7" fill="none" stroke="rgb(235,235,235)" stroke-width="0.6" opacity="0.43"/>
<path d="M332.9 94.9 Q330.8 90.9 334.4 87.0" fill="none" stroke="rgb(225,225,225)" stroke-width="1.0" opacity="0.49"/>
<path d="M188.9 204.6 Q192.1 193.5 196.3 182.4" fill="none" stroke="rgb(110,110,110)" stroke-width="0.6" opacity="0.59"/>
<path d="M271.8 243.0 Q280.2 231.6 283.8 220.3" fill="none" stroke="rgb(120,120,120)" stroke-width="1.0" opacity="0.32"/>
<path d="M302.8 197.1 Q310.5 188.1 313.0 179.1" fill="none" stroke="rgb(120,120,120)" stroke-width="1.1" opacity="0.38"/>
<path d="M309.1 69.0 Q309.9 64.5 310.8 60.0" fill="none" stroke="rgb(150,150,150)" stroke-width="0.7" opacity="0.32"/>
<path d="M332.6 93.4 Q331.7 87.2 336.6 81.0" fill="none" stroke="rgb(110,110,110)" stroke-width="0.7" opacity="0.51"/>
<path d="M310.4 66.8 Q317.6 58.2 320.3 49.7" fill="none" stroke="rgb(110,110,110)" stroke-width="1.3" opacity="0.35"/>
<path d="M332.2 77.8 Q338.8 71.1 340.7 64.5" fill="none" stroke="rgb(110,110,110)" stroke-width="1.2" opacity="0.51"/>
<path d="M295.6 128.6 Q299.2 117.9 301.5 107.1" fill="none" stroke="rgb(225,225,225)" stroke-width="1.0" opacity="0.58"/>
<path d="M261.9 174.4 Q263.5 168.5 269.6 162.6" fill="none" stroke="rgb(110,110,110)" stroke-width="0.8" opacity="0.43"/>
<path d="M361.7 56.2 Q366.3 47.2 366.8 38.2" fill="none" stroke="rgb(215,215,215)" stroke-width="0.9" opacity="0.53"/>
<path d="M337.8 172.0 Q341.1 163.2 344.6 154.5" fill="none" stroke="rgb(135,135,135)" stroke-width="1.1" opacity="0.56"/>
<path d="M189.7 180.7 Q194.0 174.6 196.0 168.5" fill="none" stroke="rgb(135,135,135)" stroke-width="0.7" opacity="0.35"/>
<path d="M230.7 228.5 Q233.4 221.6 233.5 214.6" fill="none" stroke="rgb(120,120,120)" stroke-width="1.0" opacity="0.59"/>
<path d="M316.6 85.7 Q320.6 75.7 329.9 65.7" fill="none" stroke="rgb(110,110,110)" stroke-width="0.9" opacity="0.53"/>
<path d="M341.8 144.6 Q346.5 135.4 351.0 126.3" fill="none" stroke="rgb(135,135,135)" stroke-width="1.1" opacity="0.58"/>
<path d="M279.1 218.7 Q285.3 207.2 290.6 195.7" fill="none" stroke="rgb(135,135,135)" stroke-width="1.0" opacity="0.51"/>
<path d="M286.7 235.4 Q288.3 228.2 293.6 220.9" fill="none" stroke="rgb(225,225,225)" stroke-width="1.1" opacity="0.57"/>
<path d="M360.3 103.0 Q364.5 95.6 363.3 88.1" fill="none" stroke="rgb(235,235,235)" stroke-width="1.2" opacity="0.47"/>
<path d="M312.7 177.1 Q314.5 167.5 320.1 157.9" fill="none" stroke="rgb(135,135,135)" stroke-width="0.6" opacity="0.32"/>
<path d="M336.5 40.1 Q337.6 31.7 342.6 23.3" fill="none" stroke="rgb(150,150,150)" stroke-width="0.9" opacity="0.47"/>
<path d="M311.3 121.8 Q312.4 118.1 315.4 114.3" fill="none" stroke="rgb(235,235,235)" stroke-width="1.0" opacity="0.45"/>
<path d="M315.2 81.3 Q320.1 77.1 320.5 73.0" fill="none" stroke="rgb(120,120,120)" stroke-width="1.0" opacity="0.33"/>
<path d="M245.6 139.9 Q251.6 131.6 254.2 123.3" fill="none" stroke="rgb(120,120,120)" stroke-width="1.3" opacity="0.49"/>
<path d="M313.5 77.0 Q318.0 67.9 318.4 58.8" fill="none" stroke="rgb(110,110,110)" stroke-width="1.2" opacity="0.34"/>
<path d="M251.3 201.5 Q256.9 193.1 258.2 184.8" fill="none" stroke="rgb(150,150,150)" stroke-width="0.8" opacity="0.37"/>
<path d="M348.3 155.8 Q353.6 150.8 354.7 145.7" fill="none" stroke="rgb(225,225,225)" stroke-width="1.1" opacity="0.45"/>
<path d="M340.9 145.1 Q345.8 135.0 345.3 124.8" fill="none" stroke="rgb(120,120,120)" stroke-width="0.9" opacity="0.45"/>
<path d="M245.9 186.5 Q252.3 174.3 253.7 162.1" fill="none" stroke="rgb(135,135,135)" stroke-width="1.1" opacity="0.31"/>
<path d="M347.3 105.0 Q347.7 101.4 351.1 97.7" fill="none" stroke="rgb(150,150,150)" stroke-width="0.9" opacity="0.50"/>
<path d="M272.6 236.3 Q276.7 232.2 276.0 228.0" fill="none" stroke="rgb(215,215,215)" stroke-width="0.7" opacity="0.55"/>
<path d="M250.6 220.2 Q254.8 211.6 260.6 203.0" fill="none" stroke="rgb(235,235,235)" stroke-width="0.8" opacity="0.56"/>
<path d="M299.9 66.7 Q303.7 62.1 302.5 57.4" fill="none" stroke="rgb(235,235,235)" stroke-width="0.7" opacity="0.33"/>
<path d="M234.2 241.0 Q240.8 231.0 247.3 221.0" fill="none" stroke="rgb(110,110,110)" stroke-width="1.0" opacity="0.56"/>
<path d="M243.5 228.2 Q249.4 219.7 252.9 211.2" fill="none" stroke="rgb(225,225,225)" stroke-width="0.6" opacity="0.38"/>
<path d="M332.9 141.7 Q336.5 131.5 342.6 121.4" fill="none" stroke="rgb(225,225,225)" stroke-width="0.8" opacity="0.46"/>
<path d="M293.3 103.1 Q296.5 91.2 302.5 79.4" fill="none" stroke="rgb(150,150,150)" stroke-width="0.8" opacity="0.57"/>
<path d="M297.4 145.7 Q304.6 138.1 306.3 130.5" fill="none" stroke="rgb(110,110,110)" stroke-width="1.1" opacity="0.56"/>
<path d="M247.3 136.6 Q248.3 132.8 249.6 128.9" fill="none" stroke="rgb(120,120,120)" stroke-width="1.3" opacity="0.59"/>
<path d="M297.3 179.6 Q303.0 168.9 306.5 158.2" fill="none" stroke="rgb(225,225,225)" stroke-width="1.2" opacity="0.47"/>
<path d="M285.4 164.5 Q292.4 156.6 294.2 148.8" fill="none" stroke="rgb(120,120,120)" stroke-width="0.9" opacity="0.39"/>
<path d="M289.5 216.8 Q291.1 206.8 297.6 196.9" fill="none" stroke="rgb(120,120,120)" stroke-width="1.0" opacity="0.43"/>
<path d="M333.2 145.6 Q335.3 141.5 337.0 137.4" fill="none" stroke="rgb(110,110,110)" stroke-width="1.1" opacity="0.36"/>
<path d="M283.8 201.9 Q284.5 195.4 286.2 188.8" fill="none" stroke="rgb(135,135,135)" stroke-width="0.8" opacity="0.44"/>
<path d="M197.7 162.7 Q203.3 152.2 210.5 141.8" fill="none" stroke="rgb(225,225,225)" stroke-width="1.2" opacity="0.35"/>
<path d="M227.7 205.9 Q233.6 197.7 238.6 189.5" fill="none" stroke="rgb(225,225,225)" stroke-width="1.0" opacity="0.57"/>
<path d="M193.0 177.2 Q196.1 165.8 197.9 154.4" fill="none" stroke="rgb(135,135,135)" stroke-width="1.0" opacity="0.53"/>
<path d="M301.6 189.0 Q305.2 184.4 306.2 179.8" fill="none" stroke="rgb(150,150,150)" stroke-width="0.7" opacity="0.39"/>
<path d="M315.6 55.3 Q322.7 45.3 329.0 35.4" fill="none" stroke="rgb(150,150,150)" stroke-width="1.0" opacity="0.35"/>
<path d="M264.1 243.6 Q266.7 234.3 271.0 224.9" fill="none" stroke="rgb(150,150,150)" stroke-width="0.9" opacity="0.39"/>
<path d="M356.4 40.3 Q358.1 34.8 359.5 29.3" fill="none" stroke="rgb(235,235,235)" stroke-width="0.9" opacity="0.37"/>
<path d="M262.3 218.3 Q262.6 212.8 267.6 207.4" fill="none" stroke="rgb(110,110,110)" stroke-width="0.7" opacity="0.48"/>
<path d="M291.8 65.3 Q299.0 54.3 300.3 43.4" fill="none" stroke="rgb(235,235,235)" stroke-width="1.2" opacity="0.47"/>
<path d="M237.6 147.1 Q239.7 141.0 241.7 134.9" fill="none" stroke="rgb(215,215,215)" stroke-width="0.9" opacity="0.37"/>
<path d="M241.6 212.2 Q243.3 203.8 247.9 195.5" fill="none" stroke="rgb(120,120,120)" stroke-width="1.1" opacity="0.50"/>
<path d="M211.3 192.3 Q218.7 183.6 221.8 174.9" fill="none" stroke="rgb(110,110,110)" stroke-width="0.9" opacity="0.45"/>
<path d="M256.1 109.0 Q258.1 102.8 260.7 96.6" fill="none" stroke="rgb(150,150,150)" stroke-width="0.8" opacity="0.38"/>
<path d="M341.3 49.0 Q345.7 41.7 350.7 34.3" fill="none" stroke="rgb(225,225,225)" stroke-width="0.7" opacity="0.47"/>
<path d="M242.5 132.6 Q248.8 125.8 251.0 118.9" fill="none" stroke="rgb(215,215,215)" stroke-width="1.2" opacity="0.59"/>
<path d="M283.9 151.6 Q290.7 141.4 296.0 131.2" fill="none" stroke="rgb(225,225,225)" stroke-width="1.2" opacity="0.44"/>
<path d="M342.3 64.6 Q345.3 55.4 350.7 46.2" fill="none" stroke="rgb(135,135,135)" stroke-width="1.2" opacity="0.59"/>
<path d="M308.2 59.8 Q307.6 49.8 311.8 39.7" fill="none" stroke="rgb(225,225,225)" stroke-width="0.8" opacity="0.44"/>
<path d="M199.6 166.0 Q205.0 161.2 205.6 156.4" fill="none" stroke="rgb(215,215,215)" stroke-width="0.6" opacity="0.40"/>
<path d="M275.0 237.7 Q278.8 229.7 278.9 221.7" fill="none" stroke="rgb(150,150,150)" stroke-width="1.1" opacity="0.34"/>
<path d="M269.7 190.7 Q270.9 184.3 274.3 177.8" fill="none" stroke="rgb(215,215,215)" stroke-width="0.8" opacity="0.36"/>
<path d="M210.9 161.7 Q216.3 149.8 220.0 137.9" fill="none" stroke="rgb(135,135,135)" stroke-width="1.2" opacity="0.39"/>
<path d="M222.3 241.5 Q230.5 231.0 235.5 220.5" fill="none" stroke="rgb(110,110,110)" stroke-width="0.7" opacity="0.44"/>
<path d="M294.8 193.7 Q294.5 188.8 296.9 183.9" fill="none" stroke="rgb(150,150,150)" stroke-width="1.1" opacity="0.50"/>
<path d="M275.0 194.0 Q277.7 188.1 282.8 182.2" fill="none" stroke="rgb(225,225,225)" stroke-width="0.6" opacity="0.43"/>
<path d="M278.7 91.4 Q282.2 79.7 287.3 68.0" fill="none" stroke="rgb(215,215,215)" stroke-width="0.7" opacity="0.58"/>
<path d="M208.6 162.1 Q212.9 151.1 221.0 140.0" fill="none" stroke="rgb(225,225,225)" stroke-width="0.8" opacity="0.51"/>
<path d="M210.2 235.1 Q213.8 224.2 221.4 213.4" fill="none" stroke="rgb(235,235,235)" stroke-width="1.0" opacity="0.53"/>
<path d="M200.2 208.5 Q200.9 202.2 207.0 195.9" fill="none" stroke="rgb(120,120,120)" stroke-width="0.7" opacity="0.34"/>
<path d="M312.7 102.9 Q316.3 95.8 316.0 88.7" fill="none" stroke="rgb(135,135,135)" stroke-width="0.8" opacity="0.36"/>
<path d="M272.1 98.0 Q275.2 87.5 277.3 76.9" fill="none" stroke="rgb(135,135,135)" stroke-width="1.1" opacity="0.57"/>
<path d="M357.8 156.3 Q359.5 144.6 365.4 132.9" fill="none" stroke="rgb(150,150,150)" stroke-width="1.0" opacity="0.57"/>
<path d="M208.5 168.1 Q208.5 164.0 214.1 160.0" fill="none" stroke="rgb(225,225,225)" stroke-width="0.7" opacity="0.35"/>
<path d="M188.1 180.2 Q191.6 170.5 200.6 160.8" fill="none" stroke="rgb(120,120,120)" stroke-width="1.2" opacity="0.39"/>
<path d="M326.5 171.9 Q331.4 162.7 330.7 153.5" fill="none" stroke="rgb(215,215,215)" stroke-width="0.8" opacity="0.49"/>
<path d="M332.5 162.3 Q339.1 151.5 339.8 140.7" fill="none" stroke="rgb(225,225,225)" stroke-width="0.8" opacity="0.59"/>
<path d="M335.6 115.6 Q340.2 104.0 341.1 92.4" fill="none" stroke="rgb(120,120,120)" stroke-width="0.9" opacity="0.37"/>
<path d="M279.1 141.5 Q284.4 136.8 284.1 132.2" fill="none" stroke="rgb(135,135,135)" stroke-width="0.7" opacity="0.31"/>
<path d="M252.2 138.4 Q253.4 130.5 256.2 122.6" fill="none" stroke="rgb(150,150,150)" stroke-width="1.0" opacity="0.54"/>
<path d="M229.0 236.3 Q235.5 228.5 236.4 220.8" fill="none" stroke="rgb(215,215,215)" stroke-width="0.8" opacity="0.35"/>
<path d="M345.9 102.3 Q349.2 97.0 351.3 91.7" fill="none" stroke="rgb(235,235,235)" stroke-width="0.8" opacity="0.57"/>
<path d="M234.0 199.3 Q238.0 188.6 239.1 177.9" fill="none" stroke="rgb(120,120,120)" stroke-width="0.9" opacity="0.33"/>
<path d="M231.8 143.9 Q236.9 132.6 239.9 121.3" fill="none" stroke="rgb(150,150,150)" stroke-width="1.2" opacity="0.37"/>
<path d="M280.8 234.1 Q286.0 229.5 286.4 224.8" fill="none" stroke="rgb(215,215,215)" stroke-width="0.6" opacity="0.47"/>
<path d="M339.2 80.4 Q341.3 75.4 343.0 70.5" fill="none" stroke="rgb(135,135,135)" stroke-width="0.9" opacity="0.55"/>
<path d="M200.2 202.3 Q206.2 194.5 206.6 186.8" fill="none" stroke="rgb(120,120,120)" stroke-width="0.7" opacity="0.49"/>
<path d="M224.6 183.3 Q228.2 174.0 232.0 164.6" fill="none" stroke="rgb(150,150,150)" stroke-width="0.6" opacity="0.54"/>
<path d="M212.9 220.1 Q212.8 213.7 216.9 207.4" fill="none" stroke="rgb(135,135,135)" stroke-width="1.2" opacity="0.39"/>
<path d="M238.1 143.1 Q238.7 132.3 242.9 121.4" fill="none" stroke="rgb(215,215,215)" stroke-width="0.9" opacity="0.46"/>
<path d="M289.9 182.4 Q290.9 176.8 292.3 171.3" fill="none" stroke="rgb(235,235,235)" stroke-width="0.7" opacity="0.59"/>
<path d="M204.5 215.6 Q205.7 209.6 207.9 203.6" fill="none" stroke="rgb(225,225,225)" stroke-width="0.9" opacity="0.53"/>
<path d="M359.0 31.4 Q361.6 19.7 366.2 8.1" fill="none" stroke="rgb(120,120,120)" stroke-width="0.8" opacity="0.50"/>
<path d="M357.4 65.6 Q359.9 59.0 359.9 52.5" fill="none" stroke="rgb(225,225,225)" stroke-width="1.2" opacity="0.51"/>
<path d="M347.7 41.4 Q354.4 33.3 356.3 25.2" fill="none" stroke="rgb(110,110,110)" stroke-width="1.1" opacity="0.55"/>
<path d="M303.1 135.8 Q305.6 126.7 312.2 117.5" fill="none" stroke="rgb(150,150,150)" stroke-width="0.8" opacity="0.41"/>
<path d="M268.2 190.7 Q273.3 183.6 276.0 176.4" fill="none" stroke="rgb(135,135,135)" stroke-width="0.9" opacity="0.31"/>
<path d="M301.0 148.1 Q307.2 142.4 308.7 136.8" fill="none" stroke="rgb(135,135,135)" stroke-width="1.0" opacity="0.51"/>
<path d="M285.5 92.8 Q284.8 88.4 287.9 83.9" fill="none" stroke="rgb(135,135,135)" stroke-width="1.1" opacity="0.43"/>
<path d="M324.8 119.6 Q323.8 114.9 327.1 110.2" fill="none" stroke="rgb(150,150,150)" stroke-width="1.1" opacity="0.47"/>
<path d="M227.4 191.2 Q230.7 183.7 236.9 176.2" fill="none" stroke="rgb(235,235,235)" stroke-width="1.0" opacity="0.55"/>
<path d="M226.3 142.4 Q231.3 136.0 233.5 129.6" fill="none" stroke="rgb(120,120,120)" stroke-width="0.9" opacity="0.49"/>
<path d="M320.4 49.8 Q323.6 38.7 324.9 27.7" fill="none" stroke="rgb(225,225,225)" stroke-width="0.7" opacity="0.45"/>
<path d="M285.8 178.3 Q286.6 166.9 291.1 155.6" fill="none" stroke="rgb(110,110,110)" stroke-width="0.9" opacity="0.32"/>
<path d="M250.7 237.1 Q253.2 229.7 260.6 222.2" fill="none" stroke="rgb(135,135,135)" stroke-width="1.2" opacity="0.47"/>
<path d="M314.7 127.3 Q318.8 121.2 320.2 115.2" fill="none" stroke="rgb(135,135,135)" stroke-width="0.9" opacity="0.44"/>
<path d="M256.6 187.6 Q255.5 179.2 260.2 170.9" fill="none" stroke="rgb(225,225,225)" stroke-width="1.3" opacity="0.49"/>
<path d="M225.6 244.4 Q228.8 232.9 235.4 221.5" fill="none" stroke="rgb(110,110,110)" stroke-width="1.2" opacity="0.52"/>
<path d="M222.8 204.8 Q224.9 198.7 225.7 192.6" fill="none" stroke="rgb(120,120,120)" stroke-width="0.7" opacity="0.32"/>
<path d="M292.4 97.3 Q292.4 88.3 298.3 79.4" fill="none" stroke="rgb(110,110,110)" stroke-width="1.1" opacity="0.38"/>
<path d="M218.4 150.5 Q218.9 144.5 221.3 138.6" fill="none" stroke="rgb(120,120,120)" stroke-width="1.0" opacity="0.39"/>
<path d="M263.6 136.1 Q265.2 132.0 268.2 127.8" fill="none" stroke="rgb(225,225,225)" stroke-width="1.1" opacity="0.31"/>
<path d="M288.3 108.8 Q289.9 104.7 292.8 100.7" fill="none" stroke="rgb(120,120,120)" stroke-width="0.7" opacity="0.58"/>
<path d="M299.0 208.5 Q307.8 199.6 311.0 190.7" fill="none" stroke="rgb(225,225,225)" stroke-width="1.1" opacity="0.50"/>
<path d="M344.8 127.4 Q344.1 121.9 348.4 116.4" fill="none" stroke="rgb(135,135,135)" stroke-width="0.7" opacity="0.45"/>
<path d="M285.9 179.5 Q289.9 174.3 288.9 169.1" fill="none" stroke="rgb(110,110,110)" stroke-width="0.7" opacity="0.33"/>
<path d="M281.5 152.1 Q287.0 145.2 290.5 138.2" fill="none" stroke="rgb(235,235,235)" stroke-width="0.7" opacity="0.41"/>
<path d="M315.1 97.0 Q314.8 90.4 319.4 83.8" fill="none" stroke="rgb(110,110,110)" stroke-width="1.1" opacity="0.52"/>
<path d="M285.9 181.1 Q289.7 175.5 293.6 169.9" fill="none" stroke="rgb(215,215,215)" stroke-width="1.1" opacity="0.59"/>
<path d="M251.6 186.4 Q257.0 179.4 257.5 172.4" fill="none" stroke="rgb(120,120,120)" stroke-width="1.1" opacity="0.36"/>
<path d="M273.2 236.8 Q278.9 228.0 283.8 219.2" fill="none" stroke="rgb(135,135,135)" stroke-width="1.3" opacity="0.46"/>
<path d="M248.7 170.8 Q249.2 162.6 253.4 154.3" fill="none" stroke="rgb(225,225,225)" stroke-width="0.8" opacity="0.43"/>
<path d="M358.9 152.7 Q358.3 148.1 362.8 143.5" fill="none" stroke="rgb(215,215,215)" stroke-width="0.9" opacity="0.37"/>
<path d="M360.1 97.3 Q364.1 89.1 364.5 81.0" fill="none" stroke="rgb(110,110,110)" stroke-width="0.7" opacity="0.45"/>
<path d="M223.6 133.7 Q229.6 125.3 234.9 116.9" fill="none" stroke="rgb(110,110,110)" stroke-width="1.1" opacity="0.32"/>
<path d="M327.0 143.5 Q331.0 138.5 331.5 133.5" fill="none" stroke="rgb(150,150,150)" stroke-width="1.2" opacity="0.46"/>
<path d="M234.0 136.7 Q237.8 131.8 236.3 126.9" fill="none" stroke="rgb(120,120,120)" stroke-width="0.7" opacity="0.59"/>
<path d="M190.5 192.3 Q193.3 187.1 195.1 181.9" fill="none" stroke="rgb(235,235,235)" stroke-width="1.3" opacity="0.47"/>
<path d="M196.1 178.2 Q199.3 166.3 205.7 154.5" fill="none" stroke="rgb(235,235,235)" stroke-width="0.9" opacity="0.39"/>
<path d="M242.0 167.0 Q243.3 159.7 249.9 152.5" fill="none" stroke="rgb(225,225,225)" stroke-width="1.0" opacity="0.43"/>
<path d="M284.3 120.2 Q286.8 115.8 286.9 111.5" fill="none" stroke="rgb(225,225,225)" stroke-width="0.8" opacity="0.51"/>
<path d="M234.9 136.9 Q236.3 132.2 239.8 127.6" fill="none" stroke="rgb(120,120,120)" stroke-width="0.6" opacity="0.31"/>
<path d="M288.8 86.2 Q292.3 79.0 298.5 71.8" fill="none" stroke="rgb(135,135,135)" stroke-width="1.1" opacity="0.43"/>
<path d="M297.6 91.6 Q305.4 80.4 308.0 69.2" fill="none" stroke="rgb(120,120,120)" stroke-width="1.0" opacity="0.50"/>
<path d="M289.1 218.6 Q292.4 211.3 292.2 204.1" fill="none" stroke="rgb(120,120,120)" stroke-width="1.0" opacity="0.58"/>
<path d="M249.6 137.8 Q252.7 126.5 254.6 115.3" fill="none" stroke="rgb(215,215,215)" stroke-width="1.0" opacity="0.34"/>
<path d="M304.2 124.2 Q303.5 118.4 306.6 112.5" fill="none" stroke="rgb(135,135,135)" stroke-width="0.8" opacity="0.50"/>
<path d="M334.9 99.3 Q339.3 89.8 343.1 80.3" fill="none" stroke="rgb(235,235,235)" stroke-width="0.8" opacity="0.39"/>
<path d="M346.0 83.5 Q346.7 77.5 353.2 71.6" fill="none" stroke="rgb(235,235,235)" stroke-width="1.2" opacity="0.34"/>
<path d="M213.0 185.0 Q211.6 180.0 215.9 175.0" fill="none" stroke="rgb(110,110,110)" stroke-width="0.9" opacity="0.56"/>
<path d="M219.9 180.3 Q218.6 176.0 221.9 171.7" fill="none" stroke="rgb(120,120,120)" stroke-width="1.1" opacity="0.43"/>
<path d="M253.7 112.4 Q253.8 108.4 256.1 104.4" fill="none" stroke="rgb(120,120,120)" stroke-width="0.9" opacity="0.30"/>
<path d="M250.2 160.6 Q254.8 149.8 260.0 139.0" fill="none" stroke="rgb(135,135,135)" stroke-width="0.8" opacity="0.48"/>
<path d="M222.7 239.5 Q228.3 231.6 231.3 223.7" fill="none" stroke="rgb(110,110,110)" stroke-width="0.6" opacity="0.57"/>
<path d="M323.3 164.1 Q328.3 156.7 331.4 149.3" fill="none" stroke="rgb(120,120,120)" stroke-width="1.2" opacity="0.52"/>
<path d="M314.5 144.5 Q319.0 138.9 322.2 133.4" fill="none" stroke="rgb(110,110,110)" stroke-width="1.0" opacity="0.57"/>
<path d="M302.7 202.2 Q307.0 196.4 307.6 190.6" fill="none" stroke="rgb(135,135,135)" stroke-width="0.9" opacity="0.32"/>
<path d="M335.6 89.2 Q338.7 80.2 340.6 71.3" fill="none" stroke="rgb(135,135,135)" stroke-width="0.7" opacity="0.38"/>
<path d="M251.0 138.3 Q251.3 131.0 254.8 123.7" fill="none" stroke="rgb(215,215,215)" stroke-width="0.7" opacity="0.37"/>
<path d="M343.5 95.0 Q343.5 88.6 346.2 82.3" fill="none" stroke="rgb(120,120,120)" stroke-width="1.2" opacity="0.46"/>
<path d="M213.4 220.4 Q219.7 213.8 222.2 207.2" fill="none" stroke="rgb(235,235,235)" stroke-width="0.9" opacity="0.57"/>
<path d="M273.1 204.4 Q275.9 196.2 276.4 188.1" fill="none" stroke="rgb(135,135,135)" stroke-width="0.7" opacity="0.31"/>
<path d="M250.3 237.9 Q252.2 230.9 253.3 223.8" fill="none" stroke="rgb(110,110,110)" stroke-width="0.7" opacity="0.51"/>
<path d="M286.4 120.8 Q289.4 116.6 291.1 112.4" fill="none" stroke="rgb(150,150,150)" stroke-width="0.9" opacity="0.41"/>
<path d="M274.3 222.3 Q276.4 218.3 279.4 214.4" fill="none" stroke="rgb(225,225,225)" stroke-width="0.8" opacity="0.47"/>
<path d="M312.8 163.5 Q313.5 151.8 317.9 140.1" fill="none" stroke="rgb(225,225,225)" stroke-width="1.2" opacity="0.52"/>
<path d="M244.2 106.3 Q248.6 94.3 251.1 82.3" fill="none" stroke="rgb(135,135,135)" stroke-width="1.3" opacity="0.50"/>
<path d="M297.2 150.0 Q301.7 142.3 302.5 134.6" fill="none" stroke="rgb(235,235,235)" stroke-width="0.9" opacity="0.41"/>
<path d="M316.3 131.5 Q317.8 125.6 320.7 119.8" fill="none" stroke="rgb(235,235,235)" stroke-width="0.7" opacity="0.52"/>
<path d="M329.6 50.9 Q336.7 42.6 340.8 34.2" fill="none" stroke="rgb(235,235,235)" stroke-width="0.9" opacity="0.42"/>
<path d="M338.2 102.5 Q338.6 92.6 343.4 82.6" fill="none" stroke="rgb(150,150,150)" stroke-width="1.2" opacity="0.44"/>
<path d="M331.2 142.9 Q332.4 137.3 335.8 131.7" fill="none" stroke="rgb(225,225,225)" stroke-width="1.2" opacity="0.46"/>
<path d="M221.1 210.2 Q221.4 201.4 225.2 192.7" fill="none" stroke="rgb(215,215,215)" stroke-width="1.3" opacity="0.52"/>
<path d="M257.9 202.8 Q260.0 196.3 263.7 189.8" fill="none" stroke="rgb(235,235,235)" stroke-width="1.2" opacity="0.34"/>
<path d="M271.4 185.8 Q272.1 180.8 275.7 175.9" fill="none" stroke="rgb(150,150,150)" stroke-width="0.6" opacity="0.49"/>
<path d="M326.8 84.7 Q330.6 76.0 336.2 67.4" fill="none" stroke="rgb(235,235,235)" stroke-width="1.2" opacity="0.44"/>
<path d="M235.8 186.8 Q239.3 176.5 243.6 166.1" fill="none" stroke="rgb(135,135,135)" stroke-width="0.8" opacity="0.45"/>
<path d="M310.2 97.9 Q314.5 93.1 316.7 88.4" fill="none" stroke="rgb(215,215,215)" stroke-width="0.7" opacity="0.34"/>
<path d="M263.0 209.2 Q267.2 197.2 269.3 185.3" fill="none" stroke="rgb(225,225,225)" stroke-width="1.0" opacity="0.46"/>
<path d="M251.5 157.1 Q257.1 150.9 259.1 144.6" fill="none" stroke="rgb(110,110,110)" stroke-width="1.1" opacity="0.59"/>
<path d="M271.6 148.9 Q275.8 141.8 277.7 134.6" fill="none" stroke="rgb(235,235,235)" stroke-width="1.3" opacity="0.44"/>
<path d="M225.6 129.0 Q224.6 124.0 228.6 119.1" fill="none" stroke="rgb(110,110,110)" stroke-width="0.9" opacity="0.53"/>
<path d="M321.0 64.0 Q320.3 57.6 325.0 51.2" fill="none" stroke="rgb(150,150,150)" stroke-width="0.8" opacity="0.58"/>
<path d="M271.1 200.1 Q279.1 189.8 283.6 179.4" fill="none" stroke="rgb(150,150,150)" stroke-width="1.2" opacity="0.53"/>
<path d="M219.3 245.2 Q223.3 239.6 226.6 234.0" fill="none" stroke="rgb(235,235,235)" stroke-width="0.8" opacity="0.32"/>
<path d="M228.7 166.2 Q231.9 154.9 234.5 143.7" fill="none" stroke="rgb(120,120,120)" stroke-width="0.6" opacity="0.55"/>
<path d="M314.6 53.9 Q318.9 46.2 323.4 38.5" fill="none" stroke="rgb(215,215,215)" stroke-width="0.6" opacity="0.35"/>
<path d="M338.1 56.1 Q340.8 49.1 344.4 42.0" fill="none" stroke="rgb(215,215,215)" stroke-width="0.8" opacity="0.48"/>
<path d="M227.3 214.6 Q231.8 205.6 237.7 196.7" fill="none" stroke="rgb(225,225,225)" stroke-width="0.9" opacity="0.39"/>
<path d="M259.1 91.7 Q258.3 86.0 263.4 80.2" fill="none" stroke="rgb(110,110,110)" stroke-width="1.1" opacity="0.53"/>
<path d="M321.8 96.9 Q321.2 88.5 325.5 80.1" fill="none" stroke="rgb(215,215,215)" stroke-width="0.8" opacity="0.58"/>
<path d="M220.7 211.3 Q223.4 203.8 225.6 196.3" fill="none" stroke="rgb(120,120,120)" stroke-width="1.0" opacity="0.52"/>
<path d="M347.5 146.2 Q350.0 139.4 353.8 132.7" fill="none" stroke="rgb(135,135,135)" stroke-width="0.9" opacity="0.53"/>
<path d="M317.0 92.8 Q321.3 82.7 328.8 72.6" fill="none" stroke="rgb(225,225,225)" stroke-width="1.2" opacity="0.54"/>
<path d="M243.4 244.0 Q246.6 232.6 252.1 221.1" fill="none" stroke="rgb(215,215,215)" stroke-width="1.0" opacity="0.30"/>
<path d="M229.5 142.0 Q233.3 137.0 235.0 131.9" fill="none" stroke="rgb(215,215,215)" stroke-width="1.3" opacity="0.44"/>
<path d="M254.9 213.1 Q257.1 208.8 258.6 204.5" fill="none" stroke="rgb(225,225,225)" stroke-width="0.9" opacity="0.47"/>
<path d="M332.4 157.1 Q338.4 150.7 338.9 144.3" fill="none" stroke="rgb(150,150,150)" stroke-width="1.1" opacity="0.32"/>
<path d="M205.6 177.0 Q211.2 168.9 216.5 160.7" fill="none" stroke="rgb(120,120,120)" stroke-width="0.7" opacity="0.41"/>
<path d="M296.5 89.4 Q300.4 83.5 299.0 77.6" fill="none" stroke="rgb(225,225,225)" stroke-width="1.1" opacity="0.48"/>
<path d="M289.5 163.4 Q293.0 156.3 293.6 149.1" fill="none" stroke="rgb(110,110,110)" stroke-width="0.9" opacity="0.55"/>
<path d="M279.7 73.8 Q281.9 64.5 284.3 55.1" fill="none" stroke="rgb(120,120,120)" stroke-width="1.1" opacity="0.53"/>
<path d="M341.5 165.3 Q343.3 160.5 344.6 155.7" fill="none" stroke="rgb(235,235,235)" stroke-width="0.8" opacity="0.32"/>
<path d="M284.5 240.7 Q288.5 234.7 290.9 228.7" fill="none" stroke="rgb(120,120,120)" stroke-width="1.3" opacity="0.35"/>
<path d="M236.3 111.6 Q240.7 107.9 240.2 104.2" fill="none" stroke="rgb(225,225,225)" stroke-width="0.7" opacity="0.55"/>
<path d="M257.2 156.4 Q259.5 148.6 267.8 140.8" fill="none" stroke="rgb(150,150,150)" stroke-width="0.9" opacity="0.57"/>
<path d="M246.8 103.8 Q247.1 97.7 250.0 91.7" fill="none" stroke="rgb(225,225,225)" stroke-width="0.8" opacity="0.55"/>
<path d="M293.6 65.8 Q297.4 59.3 300.1 52.8" fill="none" stroke="rgb(135,135,135)" stroke-width="1.2" opacity="0.54"/>
<path d="M248.6 219.1 Q249.9 212.3 251.5 205.5" fill="none" stroke="rgb(225,225,225)" stroke-width="1.2" opacity="0.31"/>
<path d="M285.1 237.9 Q290.9 226.0 293.8 214.1" fill="none" stroke="rgb(150,150,150)" stroke-width="1.2" opacity="0.60"/>
<path d="M223.2 226.5 Q222.8 221.4 225.7 216.4" fill="none" stroke="rgb(120,120,120)" stroke-width="1.1" opacity="0.46"/>
<path d="M214.9 225.4 Q220.1 217.0 223.7 208.6" fill="none" stroke="rgb(110,110,110)" stroke-width="0.9" opacity="0.35"/>
<path d="M253.1 179.7 Q253.9 174.5 258.5 169.3" fill="none" stroke="rgb(225,225,225)" stroke-width="1.0" opacity="0.52"/>
<path d="M355.4 110.2 Q355.1 101.8 360.7 93.4" fill="none" stroke="rgb(235,235,235)" stroke-width="1.3" opacity="0.52"/>
<path d="M290.9 74.4 Q295.0 66.6 294.9 58.8" fill="none" stroke="rgb(135,135,135)" stroke-width="1.2" opacity="0.36"/>
<path d="M247.0 202.1 Q248.5 196.6 253.3 191.0" fill="none" stroke="rgb(150,150,150)" stroke-width="0.8" opacity="0.59"/>
<path d="M248.5 103.3 Q249.8 92.6 252.3 81.9" fill="none" stroke="rgb(225,225,225)" stroke-width="1.3" opacity="0.45"/>
<path d="M232.7 189.8 Q234.0 184.6 238.8 179.4" fill="none" stroke="rgb(135,135,135)" stroke-width="1.3" opacity="0.56"/>
<path d="M296.0 107.9 Q297.7 97.3 303.1 86.7" fill="none" stroke="rgb(235,235,235)" stroke-width="1.3" opacity="0.33"/>
<path d="M267.6 106.3 Q270.1 100.8 274.7 95.3" fill="none" stroke="rgb(225,225,225)" stroke-width="1.1" opacity="0.52"/>
<path d="M197.6 227.0 Q201.9 219.1 205.0 211.3" fill="none" stroke="rgb(135,135,135)" stroke-width="0.9" opacity="0.44"/>
<path d="M292.2 227.3 Q298.8 216.0 300.1 204.6" fill="none" stroke="rgb(150,150,150)" stroke-width="0.7" opacity="0.30"/>
<path d="M246.7 202.2 Q255.6 191.5 259.5 180.8" fill="none" stroke="rgb(235,235,235)" stroke-width="0.9" opacity="0.51"/>
<path d="M204.1 160.6 Q207.2 151.3 207.6 142.1" fill="none" stroke="rgb(110,110,110)" stroke-width="0.6" opacity="0.54"/>
<path d="M358.5 83.4 Q363.5 73.9 371.0 64.3" fill="none" stroke="rgb(120,120,120)" stroke-width="1.1" opacity="0.41"/>
<path d="M206.3 171.1 Q208.6 166.3 212.4 161.5" fill="none" stroke="rgb(225,225,225)" stroke-width="0.8" opacity="0.45"/>
<path d="M188.3 175.3 Q195.1 164.0 196.6 152.7" fill="none" stroke="rgb(120,120,120)" stroke-width="0.9" opacity="0.40"/>
<path d="M295.4 211.3 Q296.5 200.1 301.0 188.9" fill="none" stroke="rgb(225,225,225)" stroke-width="1.1" opacity="0.55"/>
<path d="M267.5 93.9 Q269.8 83.8 276.1 73.7" fill="none" stroke="rgb(215,215,215)" stroke-width="1.0" opacity="0.31"/>
<path d="M233.2 167.3 Q237.6 156.6 246.8 146.0" fill="none" stroke="rgb(235,235,235)" stroke-width="1.2" opacity="0.36"/>
<path d="M289.0 121.7 Q295.2 114.6 296.0 107.4" fill="none" stroke="rgb(150,150,150)" stroke-width="0.8" opacity="0.56"/>
<path d="M243.1 234.1 Q242.2 224.5 246.5 214.8" fill="none" stroke="rgb(150,150,150)" stroke-width="1.1" opacity="0.46"/>
<path d="M258.5 110.2 Q262.2 99.9 268.1 89.7" fill="none" stroke="rgb(150,150,150)" stroke-width="0.9" opacity="0.54"/>
<path d="M278.4 223.8 Q279.5 217.2 285.6 210.6" fill="none" stroke="rgb(225,225,225)" stroke-width="0.7" opacity="0.53"/>
<path d="M350.8 65.6 Q353.4 59.1 353.7 52.6" fill="none" stroke="rgb(225,225,225)" stroke-width="0.7" opacity="0.31"/>
<path d="M333.1 41.0 Q337.3 28.7 339.7 16.3" fill="none" stroke="rgb(215,215,215)" stroke-width="0.8" opacity="0.44"/>
<path d="M244.2 200.3 Q245.9 192.0 251.8 183.7" fill="none" stroke="rgb(120,120,120)" stroke-width="0.7" opacity="0.51"/>
<path d="M286.6 146.9 Q294.0 138.3 295.8 129.8" fill="none" stroke="rgb(235,235,235)" stroke-width="1.0" opacity="0.42"/>
<path d="M278.9 209.4 Q282.8 205.1 280.9 200.9" fill="none" stroke="rgb(135,135,135)" stroke-width="0.8" opacity="0.60"/>
<path d="M214.1 227.5 A200.0 200.0 0 0 1 414.2 65.4" fill="none" stroke="#6e6e6e" stroke-width="1" opacity="0.45"/>
</g>
<ellipse cx="225" cy="215" rx="40" ry="30" fill="#9a9a9a" filter="url(#blur8)" opacity="0.7"/>
<path d="M186.4 174.5 L189.1 171.4 L190.4 168.5 L192.0 167.3 L193.5 165.3 L195.7 162.4 L197.2 160.7 L198.6 159.5 L199.8 156.0 L202.1 154.3 L202.5 152.0 L204.0 150.7 L205.2 147.4 L206.9 145.6 L208.6 143.8 L209.2 140.7 L211.1 139.6 L211.4 137.0 L213.7 134.7 L214.3 132.6 L216.2 129.6 L218.1 127.8 L219.4 126.2 L221.9 124.5 L224.3 123.3 L226.7 121.7 L228.8 119.6 L230.0 116.9 L232.4 115.7 L234.3 112.9 L235.4 112.0 L237.7 109.6 L238.8 107.1 L241.6 105.3 L243.4 102.6 L244.5 101.3 L246.3 99.2 L248.2 96.2 L249.7 95.6 L251.9 92.6 L254.2 91.6 L257.0 89.4 L258.7 88.0 L260.5 85.6 L263.0 84.2 L264.4 81.8 L266.5 81.0 L269.2 79.7 L271.3 77.0 L273.3 76.4 L274.8 73.4 L276.9 72.1 L278.7 70.5 L280.8 70.3 L282.9 68.6 L285.2 66.7 L288.1 65.6 L289.4 64.5 L292.2 63.2 L294.5 61.8 L296.2 60.8 L298.3 59.5 L300.4 57.3 L302.1 56.8 L304.9 55.7 L307.0 53.8 L308.5 52.8 L310.5 50.8 L312.7 49.4 L315.0 48.1 L317.8 47.3 L319.6 46.7 L322.5 45.9 L324.0 44.6 L327.3 43.2 L328.8 43.0 L331.4 41.5 L334.2 40.6 L335.8 39.4 L338.5 39.3 L340.9 38.6 L343.0 37.1 L346.1 36.7 L348.4 36.5 L350.6 34.7 L352.7 34.4 L355.4 33.6 L357.5 32.1 L360.4 32.4 L363.0 31.3 L365 31 L365 20 L185 20 L185 176 Z" fill="url(#gBbase)"/>
<path d="M187.6 176.1 L190.3 173.0 L191.6 170.1 L193.2 168.9 L194.7 166.9 L196.9 164.0 L198.4 162.3 L199.8 161.1 L201.0 157.6 L203.3 155.9 L203.7 153.6 L205.2 152.3 L206.4 149.0 L208.1 147.2 L209.8 145.4 L210.4 142.3 L212.3 141.2 L212.6 138.6 L214.9 136.3 L215.5 134.2 L217.4 131.2 L219.3 129.4 L220.6 127.8 L223.1 126.1 L225.5 124.9 L227.9 123.3 L230.0 121.2 L231.2 118.5 L233.6 117.3 L235.5 114.5 L236.6 113.6 L238.9 111.2 L240.0 108.7 L242.8 106.9 L244.6 104.2 L245.7 102.9 L247.5 100.8 L249.4 97.8 L250.9 97.2 L253.1 94.2 L255.4 93.2 L258.2 91.0 L259.9 89.6 L261.7 87.2 L264.2 85.8 L265.6 83.4 L267.7 82.6 L270.4 81.3 L272.5 78.6 L274.5 78.0 L276.0 75.0 L278.1 73.7 L279.9 72.1 L282.0 71.9 L284.1 70.2 L286.4 68.3 L289.3 67.2 L290.6 66.1 L293.4 64.8 L295.7 63.4 L297.4 62.4 L299.5 61.1 L301.6 58.9 L303.3 58.4 L306.1 57.3 L308.2 55.4 L309.7 54.4 L311.7 52.4 L313.9 51.0 L316.2 49.7 L319.0 48.9 L320.8 48.3 L323.7 47.5 L325.2 46.2 L328.5 44.8 L330.0 44.6 L332.6 43.1 L335.4 42.2 L337.0 41.0 L339.7 40.9 L342.1 40.2 L344.2 38.7 L347.3 38.3 L349.6 38.1 L351.8 36.3 L353.9 36.0 L356.6 35.2 L358.7 33.7 L361.6 34.0 L364.2 32.9" fill="none" stroke="#e8e8e8" stroke-width="1.4" opacity="0.8"/>
<path d="M186.4 174.5 L189.1 171.4 L190.4 168.5 L192.0 167.3 L193.5 165.3 L195.7 162.4 L197.2 160.7 L198.6 159.5 L199.8 156.0 L202.1 154.3 L202.5 152.0 L204.0 150.7 L205.2 147.4 L206.9 145.6 L208.6 143.8 L209.2 140.7 L211.1 139.6 L211.4 137.0 L213.7 134.7 L214.3 132.6 L216.2 129.6 L218.1 127.8 L219.4 126.2 L221.9 124.5 L224.3 123.3 L226.7 121.7 L228.8 119.6 L230.0 116.9 L232.4 115.7 L234.3 112.9 L235.4 112.0 L237.7 109.6 L238.8 107.1 L241.6 105.3 L243.4 102.6 L244.5 101.3 L246.3 99.2 L248.2 96.2 L249.7 95.6 L251.9 92.6 L254.2 91.6 L257.0 89.4 L258.7 88.0 L260.5 85.6 L263.0 84.2 L264.4 81.8 L266.5 81.0 L269.2 79.7 L271.3 77.0 L273.3 76.4 L274.8 73.4 L276.9 72.1 L278.7 70.5 L280.8 70.3 L282.9 68.6 L285.2 66.7 L288.1 65.6 L289.4 64.5 L292.2 63.2 L294.5 61.8 L296.2 60.8 L298.3 59.5 L300.4 57.3 L302.1 56.8 L304.9 55.7 L307.0 53.8 L308.5 52.8 L310.5 50.8 L312.7 49.4 L315.0 48.1 L317.8 47.3 L319.6 46.7 L322.5 45.9 L324.0 44.6 L327.3 43.2 L328.8 43.0 L331.4 41.5 L334.2 40.6 L335.8 39.4 L338.5 39.3 L340.9 38.6 L343.0 37.1 L346.1 36.7 L348.4 36.5 L350.6 34.7 L352.7 34.4 L355.4 33.6 L357.5 32.1 L360.4 32.4 L363.0 31.3" fill="none" stroke="#1a1a1a" stroke-width="1.6"/>
<path d="M281.9 246.0 L288.0 228.0 L295.2 212.2 L308.6 194.4 L324.1 177.8 L339.7 168.9 L355.2 163.3 L363.0 161.1 L365 161 L365 250 L280 250Z" fill="#6e6e6e"/>
<rect x="187" y="25.5" width="176" height="221" filter="url(#ngray)" style="mix-blend-mode:overlay" opacity="0.45"/>
</g>
<g clip-path="url(#clipC)">
<rect x="367" y="25.5" width="175" height="220.5" fill="#939393"/>
<ellipse cx="470" cy="60" rx="45" ry="18" transform="rotate(40 470 60)" fill="#a8a8a8" filter="url(#blur8)"/>
<path d="M471.1 104.0 l6.0 -14.1" stroke="rgb(205,205,205)" stroke-width="0.8" opacity="0.31"/>
<path d="M491.1 35.5 l11.3 -28.5" stroke="rgb(215,215,215)" stroke-width="1.0" opacity="0.34"/>
<path d="M470.6 127.2 l3.1 -11.8" stroke="rgb(215,215,215)" stroke-width="1.0" opacity="0.28"/>
<path d="M428.8 34.7 l5.5 -12.1" stroke="rgb(215,215,215)" stroke-width="0.6" opacity="0.35"/>
<path d="M479.7 162.1 l3.9 -17.3" stroke="rgb(205,205,205)" stroke-width="1.1" opacity="0.26"/>
<path d="M540.1 125.4 l11.3 -30.1" stroke="rgb(215,215,215)" stroke-width="0.8" opacity="0.37"/>
<path d="M476.7 144.3 l5.2 -23.9" stroke="rgb(215,215,215)" stroke-width="1.0" opacity="0.49"/>
<path d="M512.2 63.1 l6.4 -35.9" stroke="rgb(120,120,120)" stroke-width="1.1" opacity="0.41"/>
<path d="M487.9 174.2 l4.2 -15.4" stroke="rgb(190,190,190)" stroke-width="0.8" opacity="0.28"/>
<path d="M448.0 131.1 l13.9 -29.8" stroke="rgb(120,120,120)" stroke-width="0.9" opacity="0.29"/>
<path d="M536.6 133.9 l5.2 -29.0" stroke="rgb(190,190,190)" stroke-width="0.8" opacity="0.25"/>
<path d="M454.2 126.7 l5.2 -14.9" stroke="rgb(190,190,190)" stroke-width="0.8" opacity="0.49"/>
<path d="M452.8 30.1 l10.9 -34.2" stroke="rgb(120,120,120)" stroke-width="0.8" opacity="0.45"/>
<path d="M428.2 96.1 l5.3 -18.3" stroke="rgb(110,110,110)" stroke-width="0.6" opacity="0.31"/>
<path d="M537.9 121.9 l4.5 -22.8" stroke="rgb(215,215,215)" stroke-width="1.1" opacity="0.27"/>
<path d="M532.8 139.5 l6.4 -25.2" stroke="rgb(215,215,215)" stroke-width="0.7" opacity="0.43"/>
<path d="M490.0 31.3 l5.4 -21.7" stroke="rgb(205,205,205)" stroke-width="1.2" opacity="0.36"/>
<path d="M436.5 163.5 l3.6 -12.9" stroke="rgb(215,215,215)" stroke-width="1.1" opacity="0.29"/>
<path d="M420.6 161.8 l8.0 -27.9" stroke="rgb(110,110,110)" stroke-width="0.8" opacity="0.49"/>
<path d="M512.8 126.4 l4.8 -15.9" stroke="rgb(205,205,205)" stroke-width="1.0" opacity="0.25"/>
<path d="M458.9 103.0 l3.2 -13.5" stroke="rgb(205,205,205)" stroke-width="0.9" opacity="0.27"/>
<path d="M431.9 102.7 l6.8 -35.8" stroke="rgb(110,110,110)" stroke-width="0.7" opacity="0.48"/>
<path d="M499.0 125.2 l6.8 -18.4" stroke="rgb(120,120,120)" stroke-width="1.2" opacity="0.49"/>
<path d="M497.7 64.8 l2.9 -15.9" stroke="rgb(205,205,205)" stroke-width="0.6" opacity="0.27"/>
<path d="M490.3 153.0 l6.0 -13.5" stroke="rgb(110,110,110)" stroke-width="1.0" opacity="0.32"/>
<path d="M467.2 78.1 l12.5 -36.8" stroke="rgb(215,215,215)" stroke-width="0.8" opacity="0.35"/>
<path d="M519.6 122.3 l3.3 -15.0" stroke="rgb(110,110,110)" stroke-width="1.1" opacity="0.37"/>
<path d="M455.4 66.0 l7.5 -22.1" stroke="rgb(110,110,110)" stroke-width="0.9" opacity="0.28"/>
<path d="M506.3 110.5 l4.0 -16.3" stroke="rgb(205,205,205)" stroke-width="0.8" opacity="0.34"/>
<path d="M473.1 67.5 l11.0 -23.7" stroke="rgb(110,110,110)" stroke-width="0.7" opacity="0.31"/>
<path d="M487.1 23.0 l6.0 -15.2" stroke="rgb(215,215,215)" stroke-width="1.0" opacity="0.41"/>
<path d="M535.7 88.8 l11.1 -24.8" stroke="rgb(190,190,190)" stroke-width="0.8" opacity="0.41"/>
<path d="M514.8 72.8 l13.1 -36.0" stroke="rgb(205,205,205)" stroke-width="0.6" opacity="0.42"/>
<path d="M426.1 127.4 l3.4 -13.2" stroke="rgb(110,110,110)" stroke-width="0.8" opacity="0.47"/>
<path d="M486.4 75.5 l4.8 -10.5" stroke="rgb(190,190,190)" stroke-width="0.9" opacity="0.43"/>
<path d="M462.4 121.4 l5.3 -25.6" stroke="rgb(110,110,110)" stroke-width="0.7" opacity="0.47"/>
<path d="M486.7 24.7 l1.8 -10.3" stroke="rgb(120,120,120)" stroke-width="1.0" opacity="0.28"/>
<path d="M519.6 140.3 l9.1 -25.8" stroke="rgb(110,110,110)" stroke-width="0.9" opacity="0.26"/>
<path d="M480.4 148.3 l12.2 -37.8" stroke="rgb(205,205,205)" stroke-width="1.2" opacity="0.38"/>
<path d="M434.1 101.4 l6.5 -14.9" stroke="rgb(215,215,215)" stroke-width="1.1" opacity="0.32"/>
<path d="M520.9 164.0 l7.5 -27.6" stroke="rgb(110,110,110)" stroke-width="1.0" opacity="0.26"/>
<path d="M444.5 22.2 l7.7 -20.6" stroke="rgb(190,190,190)" stroke-width="0.8" opacity="0.30"/>
<path d="M514.8 69.5 l9.2 -34.2" stroke="rgb(190,190,190)" stroke-width="0.8" opacity="0.37"/>
<path d="M489.2 60.4 l9.4 -34.0" stroke="rgb(110,110,110)" stroke-width="1.1" opacity="0.43"/>
<path d="M502.3 169.2 l8.1 -30.9" stroke="rgb(215,215,215)" stroke-width="0.9" opacity="0.38"/>
<path d="M446.6 21.9 l3.0 -15.3" stroke="rgb(215,215,215)" stroke-width="0.7" opacity="0.49"/>
<path d="M504.3 70.5 l2.6 -10.3" stroke="rgb(190,190,190)" stroke-width="0.8" opacity="0.37"/>
<path d="M536.0 114.5 l5.6 -16.1" stroke="rgb(120,120,120)" stroke-width="1.1" opacity="0.37"/>
<path d="M534.7 108.1 l7.9 -36.4" stroke="rgb(215,215,215)" stroke-width="1.0" opacity="0.47"/>
<path d="M497.1 77.4 l3.4 -17.9" stroke="rgb(190,190,190)" stroke-width="1.1" opacity="0.50"/>
<path d="M488.6 100.8 l9.6 -24.7" stroke="rgb(110,110,110)" stroke-width="0.8" opacity="0.49"/>
<path d="M421.5 44.5 l8.8 -28.1" stroke="rgb(110,110,110)" stroke-width="0.6" opacity="0.32"/>
<path d="M428.5 68.6 l12.7 -28.3" stroke="rgb(190,190,190)" stroke-width="0.7" opacity="0.41"/>
<path d="M477.5 173.1 l7.9 -17.5" stroke="rgb(190,190,190)" stroke-width="1.1" opacity="0.34"/>
<path d="M527.3 64.1 l10.8 -33.3" stroke="rgb(190,190,190)" stroke-width="0.8" opacity="0.44"/>
<path d="M434.5 118.2 l9.0 -32.0" stroke="rgb(205,205,205)" stroke-width="0.7" opacity="0.43"/>
<path d="M466.2 149.1 l3.5 -19.1" stroke="rgb(120,120,120)" stroke-width="0.9" opacity="0.38"/>
<path d="M426.2 143.3 l7.4 -21.5" stroke="rgb(190,190,190)" stroke-width="1.0" opacity="0.49"/>
<path d="M432.4 155.9 l5.2 -23.0" stroke="rgb(190,190,190)" stroke-width="1.0" opacity="0.48"/>
<path d="M435.1 162.4 l5.3 -27.8" stroke="rgb(190,190,190)" stroke-width="1.0" opacity="0.26"/>
<path d="M435.8 59.5 l3.6 -20.0" stroke="rgb(190,190,190)" stroke-width="1.0" opacity="0.30"/>
<path d="M497.9 174.1 l7.2 -21.8" stroke="rgb(190,190,190)" stroke-width="0.6" opacity="0.28"/>
<path d="M466.4 147.7 l15.8 -35.6" stroke="rgb(205,205,205)" stroke-width="0.8" opacity="0.28"/>
<path d="M508.1 159.5 l8.4 -23.4" stroke="rgb(190,190,190)" stroke-width="0.8" opacity="0.46"/>
<path d="M506.0 84.4 l8.1 -21.9" stroke="rgb(120,120,120)" stroke-width="0.8" opacity="0.44"/>
<path d="M439.0 111.4 l5.1 -19.5" stroke="rgb(215,215,215)" stroke-width="1.0" opacity="0.30"/>
<path d="M489.5 130.0 l6.2 -34.0" stroke="rgb(215,215,215)" stroke-width="1.0" opacity="0.45"/>
<path d="M543.1 80.6 l12.4 -32.0" stroke="rgb(205,205,205)" stroke-width="1.1" opacity="0.26"/>
<path d="M540.6 33.4 l4.5 -20.7" stroke="rgb(120,120,120)" stroke-width="1.1" opacity="0.42"/>
<path d="M422.1 27.2 l8.3 -28.4" stroke="rgb(190,190,190)" stroke-width="1.0" opacity="0.41"/>
<clipPath id="clipCW"><path d="M384.0 25.0 L398.0 30.5 L411.0 38.5 L426.0 48.5 L440.0 58.0 L457.0 72.4 L474.1 83.0 L495.2 109.3 L504.4 121.3 L512.0 133.0 L519.7 141.0 L535.2 156.7 L543.0 165.6 L545 170 L545 250 L433.6 250 L433.6 246.0 L430.6 235.0 L422.9 221.2 L410.6 205.8 L395.3 192.0 L380.0 179.8 L367.0 170.0 L364 170 L364 20 L384 20Z"/></clipPath>
<g clip-path="url(#clipCW)">
<rect x="367" y="25" width="176" height="221" fill="#626262"/>
<g filter="url(#soft)">
<ellipse cx="400" cy="50" rx="45" ry="20" transform="rotate(25 400 50)" fill="#8a8a8a" filter="url(#blur8)"/>
<ellipse cx="465" cy="95" rx="32" ry="12" transform="rotate(40 465 95)" fill="#858585" filter="url(#blur8)"/>
<ellipse cx="385" cy="140" rx="16" ry="35" transform="rotate(-15 385 140)" fill="#505050" filter="url(#blur8)"/>
<linearGradient id="fanG" x1="0" y1="0" x2="0" y2="1"><stop offset="0" stop-color="#000"/><stop offset="0.25" stop-color="#000"/><stop offset="0.42" stop-color="#fff"/><stop offset="1" stop-color="#fff"/></linearGradient>
<mask id="fanM" maskUnits="userSpaceOnUse" x="360" y="25" width="190" height="225"><rect x="360" y="25" width="190" height="225" fill="url(#fanG)"/></mask>
<g mask="url(#fanM)">
<path d="M366.2 102.2 C366.5 103.4 367.3 106.9 367.8 109.3 C368.4 111.6 368.9 114.0 369.4 116.3 C370.0 118.7 370.5 121.0 371.1 123.4 C371.7 125.7 372.4 128.0 373.1 130.3 C373.8 132.6 374.6 134.9 375.4 137.2 C376.3 139.4 377.2 141.7 378.1 143.9 C379.1 146.1 380.1 148.3 381.1 150.5 C382.2 152.7 383.2 154.8 384.4 157.0 C385.5 159.1 386.6 161.2 387.8 163.3 C389.0 165.4 390.2 167.5 391.4 169.6 C392.6 171.7 393.9 173.7 395.2 175.8 C396.5 177.8 397.8 179.8 399.2 181.8 C400.5 183.8 401.9 185.8 403.3 187.8 C404.7 189.7 406.1 191.7 407.5 193.7 C408.9 195.7 410.3 197.6 411.6 199.6 C413.0 201.6 414.4 203.6 415.7 205.6 C417.1 207.6 418.5 209.6 419.8 211.6 C421.1 213.6 422.4 215.7 423.6 217.8 C424.7 219.9 425.8 222.1 426.8 224.3 C427.7 226.5 428.6 228.7 429.3 231.0 C430.0 233.3 430.6 235.7 431.2 238.0 C431.7 240.4 432.2 242.8 432.7 245.1 C433.2 247.5 433.9 251.0 434.2 252.2" fill="none" stroke="rgb(54,54,54)" stroke-width="2.5" opacity="0.39"/>
<path d="M364.0 100.0 C364.3 101.2 365.1 104.7 365.6 107.1 C366.2 109.4 366.7 111.8 367.2 114.1 C367.8 116.5 368.3 118.8 368.9 121.2 C369.5 123.5 370.2 125.8 370.9 128.1 C371.6 130.4 372.4 132.7 373.2 135.0 C374.1 137.2 375.0 139.5 375.9 141.7 C376.9 143.9 377.9 146.1 378.9 148.3 C380.0 150.5 381.0 152.6 382.2 154.8 C383.3 156.9 384.4 159.0 385.6 161.1 C386.8 163.2 388.0 165.3 389.2 167.4 C390.4 169.5 391.7 171.5 393.0 173.6 C394.3 175.6 395.6 177.6 397.0 179.6 C398.3 181.6 399.7 183.6 401.1 185.6 C402.5 187.5 403.9 189.5 405.3 191.5 C406.7 193.5 408.1 195.4 409.4 197.4 C410.8 199.4 412.2 201.4 413.5 203.4 C414.9 205.4 416.3 207.4 417.6 209.4 C418.9 211.4 420.2 213.5 421.4 215.6 C422.5 217.7 423.6 219.9 424.6 222.1 C425.5 224.3 426.4 226.5 427.1 228.8 C427.8 231.1 428.4 233.5 429.0 235.8 C429.5 238.2 430.0 240.6 430.5 242.9 C431.0 245.3 431.7 248.8 432.0 250.0" fill="none" stroke="rgb(113,113,113)" stroke-width="1.6"/>
<path d="M369.7 100.2 C370.0 101.4 370.7 104.9 371.3 107.3 C371.8 109.7 372.3 112.0 372.8 114.4 C373.4 116.8 373.9 119.1 374.5 121.5 C375.0 123.9 375.6 126.2 376.3 128.5 C377.0 130.8 377.7 133.2 378.5 135.5 C379.3 137.7 380.1 140.0 381.0 142.3 C381.8 144.6 382.7 146.8 383.7 149.0 C384.6 151.2 385.6 153.4 386.6 155.6 C387.6 157.8 388.7 160.0 389.8 162.2 C390.8 164.3 391.9 166.5 393.1 168.6 C394.2 170.8 395.4 172.9 396.6 175.0 C397.8 177.1 399.0 179.2 400.3 181.2 C401.6 183.3 402.9 185.3 404.2 187.3 C405.5 189.3 406.9 191.4 408.2 193.4 C409.5 195.4 410.9 197.4 412.2 199.5 C413.5 201.5 414.8 203.5 416.1 205.6 C417.4 207.6 418.8 209.6 420.0 211.7 C421.3 213.8 422.5 215.9 423.7 218.0 C424.8 220.1 425.9 222.3 426.8 224.5 C427.8 226.8 428.7 229.0 429.5 231.3 C430.3 233.6 431.0 235.9 431.7 238.2 C432.3 240.5 432.9 242.9 433.6 245.2 C434.2 247.5 435.1 251.0 435.4 252.2" fill="none" stroke="rgb(57,57,57)" stroke-width="2.6" opacity="0.39"/>
<path d="M367.5 98.0 C367.8 99.2 368.5 102.7 369.1 105.1 C369.6 107.5 370.1 109.8 370.6 112.2 C371.2 114.6 371.7 116.9 372.3 119.3 C372.8 121.7 373.4 124.0 374.1 126.3 C374.8 128.6 375.5 131.0 376.3 133.3 C377.1 135.5 377.9 137.8 378.8 140.1 C379.6 142.4 380.5 144.6 381.5 146.8 C382.4 149.0 383.4 151.2 384.4 153.4 C385.4 155.6 386.5 157.8 387.6 160.0 C388.6 162.1 389.7 164.3 390.9 166.4 C392.0 168.6 393.2 170.7 394.4 172.8 C395.6 174.9 396.8 177.0 398.1 179.0 C399.4 181.1 400.7 183.1 402.0 185.1 C403.3 187.1 404.7 189.2 406.0 191.2 C407.3 193.2 408.7 195.2 410.0 197.3 C411.3 199.3 412.6 201.3 413.9 203.4 C415.2 205.4 416.6 207.4 417.8 209.5 C419.1 211.6 420.3 213.7 421.5 215.8 C422.6 217.9 423.7 220.1 424.6 222.3 C425.6 224.6 426.5 226.8 427.3 229.1 C428.1 231.4 428.8 233.7 429.5 236.0 C430.1 238.3 430.7 240.7 431.4 243.0 C432.0 245.3 432.9 248.8 433.2 250.0" fill="none" stroke="rgb(150,150,150)" stroke-width="1.8"/>
<path d="M373.2 98.2 C373.5 99.4 374.2 103.0 374.7 105.3 C375.2 107.7 375.7 110.1 376.3 112.5 C376.8 114.9 377.3 117.3 377.8 119.6 C378.4 122.0 378.9 124.4 379.6 126.7 C380.2 129.1 380.9 131.4 381.6 133.7 C382.3 136.1 383.0 138.4 383.8 140.7 C384.6 143.0 385.4 145.3 386.3 147.5 C387.1 149.8 388.0 152.1 388.9 154.3 C389.8 156.6 390.7 158.8 391.7 161.0 C392.7 163.2 393.7 165.5 394.7 167.6 C395.8 169.8 396.8 172.0 398.0 174.2 C399.1 176.3 400.2 178.5 401.4 180.6 C402.6 182.7 403.8 184.8 405.1 186.9 C406.3 188.9 407.6 191.0 408.9 193.1 C410.2 195.1 411.5 197.2 412.8 199.3 C414.0 201.4 415.3 203.4 416.5 205.5 C417.8 207.6 419.0 209.7 420.2 211.8 C421.4 213.9 422.6 216.1 423.7 218.2 C424.8 220.4 425.9 222.6 426.9 224.8 C427.9 227.0 428.8 229.3 429.7 231.5 C430.6 233.8 431.4 236.1 432.1 238.4 C432.9 240.7 433.7 243.0 434.4 245.3 C435.2 247.6 436.3 251.0 436.7 252.2" fill="none" stroke="rgb(57,57,57)" stroke-width="1.8" opacity="0.39"/>
<path d="M371.0 96.0 C371.3 97.2 372.0 100.8 372.5 103.1 C373.0 105.5 373.5 107.9 374.1 110.3 C374.6 112.7 375.1 115.1 375.6 117.4 C376.2 119.8 376.7 122.2 377.4 124.5 C378.0 126.9 378.7 129.2 379.4 131.5 C380.1 133.9 380.8 136.2 381.6 138.5 C382.4 140.8 383.2 143.1 384.1 145.3 C384.9 147.6 385.8 149.9 386.7 152.1 C387.6 154.4 388.5 156.6 389.5 158.8 C390.5 161.0 391.5 163.3 392.5 165.4 C393.6 167.6 394.6 169.8 395.8 172.0 C396.9 174.1 398.0 176.3 399.2 178.4 C400.4 180.5 401.6 182.6 402.9 184.7 C404.1 186.7 405.4 188.8 406.7 190.9 C408.0 192.9 409.3 195.0 410.6 197.1 C411.8 199.2 413.1 201.2 414.3 203.3 C415.6 205.4 416.8 207.5 418.0 209.6 C419.2 211.7 420.4 213.9 421.5 216.0 C422.6 218.2 423.7 220.4 424.7 222.6 C425.7 224.8 426.6 227.1 427.5 229.3 C428.4 231.6 429.2 233.9 429.9 236.2 C430.7 238.5 431.5 240.8 432.2 243.1 C433.0 245.4 434.1 248.8 434.5 250.0" fill="none" stroke="rgb(144,144,144)" stroke-width="2.5"/>
<path d="M376.7 96.2 C376.9 97.4 377.7 101.0 378.2 103.4 C378.7 105.8 379.2 108.2 379.7 110.6 C380.2 113.0 380.7 115.4 381.2 117.8 C381.7 120.2 382.2 122.5 382.8 124.9 C383.4 127.3 384.0 129.7 384.7 132.0 C385.3 134.4 386.0 136.7 386.7 139.1 C387.4 141.4 388.1 143.7 388.8 146.1 C389.6 148.4 390.4 150.7 391.2 153.0 C392.0 155.3 392.8 157.6 393.7 159.9 C394.5 162.1 395.4 164.4 396.4 166.7 C397.3 168.9 398.3 171.1 399.3 173.4 C400.4 175.6 401.4 177.8 402.5 179.9 C403.6 182.1 404.8 184.3 406.0 186.4 C407.2 188.5 408.4 190.6 409.6 192.8 C410.9 194.9 412.1 197.0 413.3 199.1 C414.5 201.2 415.7 203.4 416.9 205.5 C418.1 207.6 419.3 209.8 420.4 211.9 C421.6 214.1 422.7 216.3 423.8 218.4 C424.9 220.6 425.9 222.8 426.9 225.1 C428.0 227.3 428.9 229.5 429.9 231.8 C430.8 234.0 431.7 236.3 432.6 238.6 C433.5 240.8 434.4 243.1 435.3 245.4 C436.2 247.7 437.5 251.1 437.9 252.2" fill="none" stroke="rgb(36,36,36)" stroke-width="3.1" opacity="0.39"/>
<path d="M374.5 94.0 C374.7 95.2 375.5 98.8 376.0 101.2 C376.5 103.6 377.0 106.0 377.5 108.4 C378.0 110.8 378.5 113.2 379.0 115.6 C379.5 118.0 380.0 120.3 380.6 122.7 C381.2 125.1 381.8 127.5 382.5 129.8 C383.1 132.2 383.8 134.5 384.5 136.9 C385.2 139.2 385.9 141.5 386.6 143.9 C387.4 146.2 388.2 148.5 389.0 150.8 C389.8 153.1 390.6 155.4 391.5 157.7 C392.3 159.9 393.2 162.2 394.2 164.5 C395.1 166.7 396.1 168.9 397.1 171.2 C398.2 173.4 399.2 175.6 400.3 177.7 C401.4 179.9 402.6 182.1 403.8 184.2 C405.0 186.3 406.2 188.4 407.4 190.6 C408.7 192.7 409.9 194.8 411.1 196.9 C412.3 199.0 413.5 201.2 414.7 203.3 C415.9 205.4 417.1 207.6 418.2 209.7 C419.4 211.9 420.5 214.1 421.6 216.2 C422.7 218.4 423.7 220.6 424.7 222.9 C425.8 225.1 426.7 227.3 427.7 229.6 C428.6 231.8 429.5 234.1 430.4 236.4 C431.3 238.6 432.2 240.9 433.1 243.2 C434.0 245.5 435.3 248.9 435.7 250.0" fill="none" stroke="rgb(137,137,137)" stroke-width="2.5"/>
<path d="M380.2 94.2 C380.4 95.4 381.2 99.0 381.6 101.4 C382.1 103.8 382.6 106.3 383.1 108.7 C383.6 111.1 384.0 113.5 384.5 115.9 C385.0 118.3 385.5 120.7 386.1 123.1 C386.6 125.5 387.2 127.9 387.7 130.3 C388.3 132.7 388.9 135.1 389.5 137.4 C390.1 139.8 390.8 142.2 391.4 144.6 C392.1 146.9 392.7 149.3 393.4 151.7 C394.1 154.0 394.8 156.4 395.6 158.7 C396.4 161.1 397.2 163.4 398.0 165.7 C398.9 168.0 399.8 170.3 400.7 172.5 C401.7 174.8 402.6 177.1 403.7 179.3 C404.7 181.5 405.8 183.8 406.9 185.9 C408.0 188.1 409.2 190.3 410.3 192.5 C411.5 194.6 412.7 196.8 413.9 198.9 C415.0 201.1 416.2 203.3 417.3 205.5 C418.4 207.6 419.5 209.8 420.6 212.0 C421.7 214.2 422.8 216.5 423.9 218.7 C424.9 220.9 426.0 223.1 427.0 225.3 C428.0 227.6 429.1 229.8 430.1 232.0 C431.1 234.3 432.1 236.5 433.1 238.8 C434.1 241.0 435.1 243.2 436.2 245.5 C437.2 247.7 438.7 251.1 439.2 252.2" fill="none" stroke="rgb(45,45,45)" stroke-width="3.4" opacity="0.39"/>
<path d="M378.0 92.0 C378.2 93.2 379.0 96.8 379.4 99.2 C379.9 101.6 380.4 104.1 380.9 106.5 C381.4 108.9 381.8 111.3 382.3 113.7 C382.8 116.1 383.3 118.5 383.9 120.9 C384.4 123.3 385.0 125.7 385.5 128.1 C386.1 130.5 386.7 132.9 387.3 135.2 C387.9 137.6 388.6 140.0 389.2 142.4 C389.9 144.7 390.5 147.1 391.2 149.5 C391.9 151.8 392.6 154.2 393.4 156.5 C394.2 158.9 395.0 161.2 395.8 163.5 C396.7 165.8 397.6 168.1 398.5 170.3 C399.5 172.6 400.4 174.9 401.5 177.1 C402.5 179.3 403.6 181.6 404.7 183.7 C405.8 185.9 407.0 188.1 408.1 190.3 C409.3 192.4 410.5 194.6 411.7 196.7 C412.8 198.9 414.0 201.1 415.1 203.3 C416.2 205.4 417.3 207.6 418.4 209.8 C419.5 212.0 420.6 214.3 421.7 216.5 C422.7 218.7 423.8 220.9 424.8 223.1 C425.8 225.4 426.9 227.6 427.9 229.8 C428.9 232.1 429.9 234.3 430.9 236.6 C431.9 238.8 432.9 241.0 434.0 243.3 C435.0 245.5 436.5 248.9 437.0 250.0" fill="none" stroke="rgb(146,146,146)" stroke-width="2.2"/>
<path d="M383.9 100.7 C384.2 101.9 384.9 105.3 385.3 107.6 C385.8 109.9 386.2 112.3 386.7 114.6 C387.1 116.9 387.6 119.2 388.1 121.5 C388.5 123.8 389.0 126.1 389.5 128.4 C390.1 130.7 390.6 133.0 391.2 135.3 C391.7 137.6 392.3 139.8 393.0 142.1 C393.6 144.4 394.2 146.6 394.9 148.9 C395.6 151.1 396.3 153.4 397.0 155.6 C397.7 157.9 398.5 160.1 399.2 162.3 C400.0 164.5 400.8 166.7 401.7 168.9 C402.5 171.1 403.4 173.3 404.4 175.5 C405.3 177.6 406.3 179.8 407.2 181.9 C408.2 184.0 409.3 186.2 410.3 188.3 C411.4 190.4 412.5 192.4 413.6 194.5 C414.7 196.6 415.8 198.7 416.9 200.8 C417.9 202.9 419.0 205.0 420.0 207.1 C421.1 209.2 422.1 211.3 423.1 213.4 C424.1 215.6 425.1 217.7 426.1 219.8 C427.1 222.0 428.0 224.1 429.0 226.3 C429.9 228.4 430.9 230.6 431.8 232.8 C432.7 234.9 433.7 237.1 434.6 239.2 C435.5 241.4 436.5 243.6 437.4 245.7 C438.3 247.9 439.7 251.1 440.2 252.2" fill="none" stroke="rgb(42,42,42)" stroke-width="2.7" opacity="0.39"/>
<path d="M381.8 98.5 C382.0 99.7 382.7 103.1 383.1 105.4 C383.6 107.7 384.0 110.1 384.5 112.4 C384.9 114.7 385.4 117.0 385.9 119.3 C386.3 121.6 386.8 123.9 387.3 126.2 C387.9 128.5 388.4 130.8 389.0 133.1 C389.5 135.4 390.1 137.6 390.8 139.9 C391.4 142.2 392.0 144.4 392.7 146.7 C393.4 148.9 394.1 151.2 394.8 153.4 C395.5 155.7 396.3 157.9 397.0 160.1 C397.8 162.3 398.6 164.5 399.5 166.7 C400.3 168.9 401.2 171.1 402.2 173.3 C403.1 175.4 404.1 177.6 405.0 179.7 C406.0 181.8 407.1 184.0 408.1 186.1 C409.2 188.2 410.3 190.2 411.4 192.3 C412.5 194.4 413.6 196.5 414.7 198.6 C415.7 200.7 416.8 202.8 417.8 204.9 C418.9 207.0 419.9 209.1 420.9 211.2 C421.9 213.4 422.9 215.5 423.9 217.6 C424.9 219.8 425.8 221.9 426.8 224.1 C427.7 226.2 428.7 228.4 429.6 230.6 C430.5 232.7 431.5 234.9 432.4 237.0 C433.3 239.2 434.3 241.4 435.2 243.5 C436.1 245.7 437.5 248.9 438.0 250.0" fill="none" stroke="rgb(109,109,109)" stroke-width="1.7"/>
<path d="M387.7 107.2 C387.9 108.3 388.6 111.6 389.0 113.8 C389.4 116.0 389.8 118.2 390.3 120.5 C390.7 122.7 391.1 124.9 391.6 127.1 C392.0 129.3 392.5 131.5 393.0 133.7 C393.5 135.9 394.0 138.1 394.6 140.2 C395.2 142.4 395.8 144.6 396.4 146.7 C397.0 148.9 397.7 151.1 398.4 153.2 C399.1 155.3 399.8 157.5 400.6 159.6 C401.3 161.7 402.1 163.8 402.9 165.9 C403.7 168.0 404.5 170.1 405.4 172.2 C406.2 174.3 407.1 176.3 408.0 178.4 C408.9 180.4 409.9 182.5 410.8 184.5 C411.8 186.6 412.8 188.6 413.8 190.6 C414.8 192.6 415.8 194.6 416.9 196.6 C417.9 198.6 418.9 200.6 419.9 202.6 C420.9 204.7 421.8 206.7 422.8 208.7 C423.7 210.8 424.7 212.8 425.6 214.8 C426.5 216.9 427.4 219.0 428.3 221.0 C429.2 223.1 430.1 225.1 431.0 227.2 C431.8 229.3 432.7 231.4 433.5 233.5 C434.4 235.5 435.2 237.6 436.1 239.7 C436.9 241.8 437.8 243.9 438.6 246.0 C439.5 248.0 440.8 251.2 441.2 252.2" fill="none" stroke="rgb(32,32,32)" stroke-width="2.0" opacity="0.39"/>
<path d="M385.5 105.0 C385.7 106.1 386.4 109.4 386.8 111.6 C387.2 113.8 387.6 116.0 388.1 118.3 C388.5 120.5 388.9 122.7 389.4 124.9 C389.8 127.1 390.3 129.3 390.8 131.5 C391.3 133.7 391.8 135.9 392.4 138.0 C393.0 140.2 393.6 142.4 394.2 144.5 C394.8 146.7 395.5 148.9 396.2 151.0 C396.9 153.1 397.6 155.3 398.4 157.4 C399.1 159.5 399.9 161.6 400.7 163.7 C401.5 165.8 402.3 167.9 403.2 170.0 C404.0 172.1 404.9 174.1 405.8 176.2 C406.7 178.2 407.7 180.3 408.6 182.3 C409.6 184.4 410.6 186.4 411.6 188.4 C412.6 190.4 413.6 192.4 414.7 194.4 C415.7 196.4 416.7 198.4 417.7 200.4 C418.7 202.5 419.6 204.5 420.6 206.5 C421.5 208.6 422.5 210.6 423.4 212.6 C424.3 214.7 425.2 216.8 426.1 218.8 C427.0 220.9 427.9 222.9 428.8 225.0 C429.6 227.1 430.5 229.2 431.3 231.3 C432.2 233.3 433.0 235.4 433.9 237.5 C434.7 239.6 435.6 241.7 436.4 243.8 C437.3 245.8 438.6 249.0 439.0 250.0" fill="none" stroke="rgb(170,170,170)" stroke-width="2.1"/>
<path d="M391.4 113.7 C391.7 114.8 392.3 117.9 392.7 120.0 C393.1 122.1 393.5 124.2 393.9 126.4 C394.3 128.5 394.6 130.6 395.1 132.7 C395.5 134.8 396.0 136.9 396.5 139.0 C396.9 141.1 397.5 143.1 398.0 145.2 C398.6 147.3 399.2 149.4 399.8 151.4 C400.5 153.4 401.1 155.5 401.9 157.5 C402.6 159.5 403.3 161.5 404.1 163.5 C404.9 165.5 405.7 167.5 406.5 169.5 C407.3 171.5 408.2 173.5 409.0 175.4 C409.9 177.4 410.8 179.3 411.7 181.3 C412.6 183.2 413.5 185.2 414.4 187.1 C415.3 189.1 416.3 191.0 417.2 192.9 C418.2 194.8 419.2 196.7 420.1 198.7 C421.0 200.6 422.0 202.5 422.9 204.5 C423.8 206.4 424.7 208.4 425.5 210.3 C426.4 212.3 427.3 214.3 428.1 216.2 C428.9 218.2 429.8 220.2 430.6 222.2 C431.4 224.2 432.2 226.2 433.0 228.2 C433.8 230.2 434.5 232.2 435.3 234.2 C436.1 236.2 436.8 238.2 437.6 240.2 C438.4 242.2 439.1 244.2 439.9 246.2 C440.7 248.2 441.8 251.2 442.2 252.2" fill="none" stroke="rgb(46,46,46)" stroke-width="2.1" opacity="0.39"/>
<path d="M389.2 111.5 C389.5 112.6 390.1 115.7 390.5 117.8 C390.9 119.9 391.3 122.0 391.7 124.2 C392.1 126.3 392.4 128.4 392.9 130.5 C393.3 132.6 393.8 134.7 394.3 136.8 C394.7 138.9 395.3 140.9 395.8 143.0 C396.4 145.1 397.0 147.2 397.6 149.2 C398.3 151.2 398.9 153.3 399.7 155.3 C400.4 157.3 401.1 159.3 401.9 161.3 C402.7 163.3 403.5 165.3 404.3 167.3 C405.1 169.3 406.0 171.3 406.8 173.2 C407.7 175.2 408.6 177.1 409.5 179.1 C410.4 181.0 411.3 183.0 412.2 184.9 C413.1 186.9 414.1 188.8 415.0 190.7 C416.0 192.6 417.0 194.5 417.9 196.5 C418.8 198.4 419.8 200.3 420.7 202.3 C421.6 204.2 422.5 206.2 423.3 208.1 C424.2 210.1 425.1 212.1 425.9 214.0 C426.7 216.0 427.6 218.0 428.4 220.0 C429.2 222.0 430.0 224.0 430.8 226.0 C431.6 228.0 432.3 230.0 433.1 232.0 C433.9 234.0 434.6 236.0 435.4 238.0 C436.2 240.0 436.9 242.0 437.7 244.0 C438.5 246.0 439.6 249.0 440.0 250.0" fill="none" stroke="rgb(181,181,181)" stroke-width="2.5"/>
<path d="M395.2 120.2 C395.4 121.2 396.0 124.2 396.3 126.2 C396.7 128.2 397.1 130.2 397.5 132.3 C397.8 134.3 398.2 136.3 398.6 138.3 C399.0 140.3 399.4 142.3 399.9 144.3 C400.4 146.2 400.9 148.2 401.5 150.2 C402.0 152.2 402.6 154.1 403.3 156.1 C403.9 158.0 404.6 159.9 405.3 161.8 C406.1 163.7 406.9 165.6 407.7 167.5 C408.5 169.4 409.3 171.2 410.1 173.1 C411.0 175.0 411.8 176.8 412.7 178.7 C413.6 180.5 414.4 182.4 415.3 184.2 C416.2 186.1 417.1 187.9 418.0 189.7 C418.9 191.6 419.8 193.4 420.7 195.2 C421.6 197.1 422.5 198.9 423.4 200.7 C424.2 202.6 425.1 204.5 425.9 206.3 C426.7 208.2 427.5 210.1 428.3 212.0 C429.1 213.9 429.8 215.7 430.6 217.6 C431.4 219.5 432.1 221.4 432.8 223.4 C433.5 225.3 434.3 227.2 435.0 229.1 C435.7 231.0 436.3 233.0 437.0 234.9 C437.7 236.8 438.4 238.7 439.1 240.7 C439.8 242.6 440.5 244.5 441.1 246.4 C441.8 248.4 442.9 251.2 443.2 252.2" fill="none" stroke="rgb(53,53,53)" stroke-width="1.9" opacity="0.39"/>
<path d="M393.0 118.0 C393.2 119.0 393.8 122.0 394.1 124.0 C394.5 126.0 394.9 128.0 395.3 130.1 C395.6 132.1 396.0 134.1 396.4 136.1 C396.8 138.1 397.2 140.1 397.7 142.1 C398.2 144.0 398.7 146.0 399.3 148.0 C399.8 150.0 400.4 151.9 401.1 153.9 C401.7 155.8 402.4 157.7 403.1 159.6 C403.9 161.5 404.7 163.4 405.5 165.3 C406.3 167.2 407.1 169.0 407.9 170.9 C408.8 172.8 409.6 174.6 410.5 176.5 C411.4 178.3 412.2 180.2 413.1 182.0 C414.0 183.9 414.9 185.7 415.8 187.5 C416.7 189.4 417.6 191.2 418.5 193.0 C419.4 194.9 420.3 196.7 421.2 198.5 C422.0 200.4 422.9 202.3 423.7 204.1 C424.5 206.0 425.3 207.9 426.1 209.8 C426.9 211.7 427.6 213.5 428.4 215.4 C429.2 217.3 429.9 219.2 430.6 221.2 C431.3 223.1 432.1 225.0 432.8 226.9 C433.5 228.8 434.1 230.8 434.8 232.7 C435.5 234.6 436.2 236.5 436.9 238.5 C437.6 240.4 438.3 242.3 438.9 244.2 C439.6 246.2 440.7 249.0 441.0 250.0" fill="none" stroke="rgb(111,111,111)" stroke-width="1.3"/>
<path d="M400.4 127.7 C400.6 128.6 401.1 131.5 401.5 133.4 C401.8 135.3 402.1 137.1 402.5 139.0 C402.8 140.9 403.1 142.8 403.5 144.7 C403.8 146.6 404.2 148.5 404.7 150.3 C405.1 152.2 405.5 154.1 406.0 155.9 C406.5 157.8 407.1 159.6 407.7 161.4 C408.3 163.3 408.9 165.1 409.5 166.9 C410.2 168.7 410.9 170.5 411.6 172.2 C412.4 174.0 413.1 175.8 413.9 177.5 C414.6 179.3 415.4 181.1 416.2 182.8 C416.9 184.6 417.7 186.3 418.5 188.1 C419.3 189.8 420.1 191.5 420.9 193.3 C421.7 195.0 422.6 196.7 423.4 198.5 C424.2 200.2 425.0 202.0 425.7 203.7 C426.5 205.5 427.3 207.2 428.0 209.0 C428.8 210.8 429.5 212.6 430.2 214.3 C430.9 216.1 431.6 217.9 432.3 219.7 C433.0 221.5 433.7 223.3 434.3 225.1 C435.0 226.9 435.7 228.7 436.3 230.5 C436.9 232.3 437.6 234.1 438.2 235.9 C438.8 237.7 439.5 239.5 440.1 241.3 C440.8 243.2 441.4 245.0 442.0 246.8 C442.7 248.6 443.6 251.3 443.9 252.2" fill="none" stroke="rgb(53,53,53)" stroke-width="3.4" opacity="0.39"/>
<path d="M398.2 125.5 C398.4 126.4 398.9 129.3 399.3 131.2 C399.6 133.1 399.9 134.9 400.3 136.8 C400.6 138.7 400.9 140.6 401.3 142.5 C401.6 144.4 402.0 146.3 402.5 148.1 C402.9 150.0 403.3 151.9 403.8 153.7 C404.3 155.6 404.9 157.4 405.5 159.2 C406.1 161.1 406.7 162.9 407.3 164.7 C408.0 166.5 408.7 168.3 409.4 170.0 C410.2 171.8 410.9 173.6 411.7 175.3 C412.4 177.1 413.2 178.9 414.0 180.6 C414.7 182.4 415.5 184.1 416.3 185.9 C417.1 187.6 417.9 189.3 418.7 191.1 C419.5 192.8 420.4 194.5 421.2 196.3 C422.0 198.0 422.8 199.8 423.5 201.5 C424.3 203.3 425.1 205.0 425.8 206.8 C426.6 208.6 427.3 210.4 428.0 212.1 C428.7 213.9 429.4 215.7 430.1 217.5 C430.8 219.3 431.5 221.1 432.1 222.9 C432.8 224.7 433.5 226.5 434.1 228.3 C434.7 230.1 435.4 231.9 436.0 233.7 C436.6 235.5 437.3 237.3 437.9 239.1 C438.6 241.0 439.2 242.8 439.8 244.6 C440.5 246.4 441.4 249.1 441.7 250.0" fill="none" stroke="rgb(153,153,153)" stroke-width="2.6"/>
<path d="M405.7 135.2 C405.8 136.1 406.3 138.7 406.6 140.5 C406.9 142.3 407.2 144.0 407.5 145.8 C407.8 147.6 408.1 149.4 408.4 151.1 C408.7 152.9 409.0 154.6 409.4 156.4 C409.8 158.2 410.2 159.9 410.6 161.6 C411.1 163.4 411.6 165.1 412.1 166.8 C412.6 168.5 413.1 170.2 413.7 171.9 C414.3 173.6 414.9 175.3 415.6 177.0 C416.2 178.7 416.9 180.3 417.6 182.0 C418.2 183.6 418.9 185.3 419.6 186.9 C420.3 188.6 421.0 190.2 421.8 191.9 C422.5 193.5 423.2 195.2 423.9 196.8 C424.6 198.5 425.3 200.1 426.0 201.8 C426.7 203.4 427.4 205.1 428.1 206.7 C428.8 208.4 429.5 210.0 430.1 211.7 C430.8 213.4 431.5 215.0 432.1 216.7 C432.7 218.4 433.4 220.1 434.0 221.7 C434.6 223.4 435.2 225.1 435.8 226.8 C436.5 228.5 437.1 230.2 437.6 231.9 C438.2 233.6 438.8 235.2 439.4 236.9 C440.0 238.6 440.6 240.3 441.2 242.0 C441.8 243.7 442.3 245.4 442.9 247.1 C443.5 248.8 444.4 251.4 444.7 252.2" fill="none" stroke="rgb(49,49,49)" stroke-width="2.6" opacity="0.39"/>
<path d="M403.5 133.0 C403.6 133.9 404.1 136.5 404.4 138.3 C404.7 140.1 405.0 141.8 405.3 143.6 C405.6 145.4 405.9 147.2 406.2 148.9 C406.5 150.7 406.8 152.4 407.2 154.2 C407.6 156.0 408.0 157.7 408.4 159.4 C408.9 161.2 409.4 162.9 409.9 164.6 C410.4 166.3 410.9 168.0 411.5 169.7 C412.1 171.4 412.7 173.1 413.4 174.8 C414.0 176.5 414.7 178.1 415.4 179.8 C416.0 181.4 416.7 183.1 417.4 184.7 C418.1 186.4 418.8 188.0 419.6 189.7 C420.3 191.3 421.0 193.0 421.7 194.6 C422.4 196.3 423.1 197.9 423.8 199.6 C424.5 201.2 425.2 202.9 425.9 204.5 C426.6 206.2 427.3 207.8 427.9 209.5 C428.6 211.2 429.3 212.8 429.9 214.5 C430.5 216.2 431.2 217.9 431.8 219.5 C432.4 221.2 433.0 222.9 433.6 224.6 C434.3 226.3 434.9 228.0 435.4 229.7 C436.0 231.4 436.6 233.0 437.2 234.7 C437.8 236.4 438.4 238.1 439.0 239.8 C439.6 241.5 440.1 243.2 440.7 244.9 C441.3 246.6 442.2 249.2 442.5 250.0" fill="none" stroke="rgb(115,115,115)" stroke-width="1.4"/>
<path d="M410.9 142.7 C411.1 143.5 411.5 146.0 411.7 147.6 C412.0 149.3 412.2 150.9 412.5 152.6 C412.8 154.2 413.0 155.9 413.3 157.5 C413.5 159.2 413.8 160.8 414.2 162.5 C414.5 164.1 414.8 165.7 415.2 167.4 C415.6 169.0 416.0 170.6 416.5 172.2 C416.9 173.8 417.4 175.4 417.9 177.0 C418.4 178.6 419.0 180.2 419.5 181.7 C420.1 183.3 420.7 184.9 421.3 186.4 C421.9 188.0 422.5 189.5 423.1 191.1 C423.7 192.6 424.4 194.2 425.0 195.7 C425.6 197.3 426.2 198.8 426.8 200.4 C427.4 201.9 428.1 203.5 428.7 205.0 C429.3 206.6 429.9 208.1 430.5 209.7 C431.1 211.2 431.7 212.8 432.3 214.4 C432.9 215.9 433.4 217.5 434.0 219.1 C434.6 220.6 435.1 222.2 435.7 223.8 C436.3 225.3 436.8 226.9 437.4 228.5 C437.9 230.1 438.4 231.7 439.0 233.2 C439.5 234.8 440.1 236.4 440.6 238.0 C441.1 239.6 441.7 241.1 442.2 242.7 C442.8 244.3 443.3 245.9 443.8 247.5 C444.4 249.0 445.2 251.4 445.4 252.2" fill="none" stroke="rgb(49,49,49)" stroke-width="2.5" opacity="0.39"/>
<path d="M408.8 140.5 C408.9 141.3 409.3 143.8 409.5 145.4 C409.8 147.1 410.0 148.7 410.3 150.4 C410.6 152.0 410.8 153.7 411.1 155.3 C411.3 157.0 411.6 158.6 412.0 160.3 C412.3 161.9 412.6 163.5 413.0 165.2 C413.4 166.8 413.8 168.4 414.3 170.0 C414.7 171.6 415.2 173.2 415.7 174.8 C416.2 176.4 416.8 178.0 417.3 179.5 C417.9 181.1 418.5 182.7 419.1 184.2 C419.7 185.8 420.3 187.3 420.9 188.9 C421.5 190.4 422.2 192.0 422.8 193.5 C423.4 195.1 424.0 196.6 424.6 198.2 C425.2 199.7 425.9 201.3 426.5 202.8 C427.1 204.4 427.7 205.9 428.3 207.5 C428.9 209.0 429.5 210.6 430.1 212.2 C430.7 213.7 431.2 215.3 431.8 216.9 C432.4 218.4 432.9 220.0 433.5 221.6 C434.1 223.1 434.6 224.7 435.2 226.3 C435.7 227.9 436.2 229.5 436.8 231.0 C437.3 232.6 437.9 234.2 438.4 235.8 C438.9 237.4 439.5 238.9 440.0 240.5 C440.6 242.1 441.1 243.7 441.6 245.3 C442.2 246.8 443.0 249.2 443.2 250.0" fill="none" stroke="rgb(182,182,182)" stroke-width="3.1"/>
<path d="M416.2 150.2 C416.3 151.0 416.6 153.3 416.9 154.8 C417.1 156.3 417.3 157.8 417.5 159.4 C417.7 160.9 417.9 162.4 418.2 164.0 C418.4 165.5 418.6 167.0 418.9 168.5 C419.2 170.1 419.5 171.6 419.8 173.1 C420.1 174.6 420.5 176.1 420.9 177.6 C421.3 179.1 421.7 180.6 422.1 182.1 C422.6 183.5 423.0 185.0 423.5 186.5 C424.0 188.0 424.5 189.4 425.0 190.9 C425.5 192.3 426.1 193.8 426.6 195.2 C427.1 196.7 427.7 198.1 428.2 199.6 C428.7 201.0 429.3 202.5 429.8 203.9 C430.3 205.4 430.8 206.8 431.3 208.3 C431.9 209.8 432.4 211.2 432.9 212.7 C433.4 214.1 433.9 215.6 434.4 217.0 C434.9 218.5 435.4 220.0 435.9 221.4 C436.4 222.9 436.9 224.4 437.4 225.8 C437.9 227.3 438.4 228.7 438.9 230.2 C439.4 231.7 439.8 233.1 440.3 234.6 C440.8 236.1 441.3 237.5 441.8 239.0 C442.3 240.5 442.8 241.9 443.3 243.4 C443.8 244.9 444.2 246.3 444.7 247.8 C445.2 249.3 446.0 251.5 446.2 252.2" fill="none" stroke="rgb(42,42,42)" stroke-width="3.4" opacity="0.39"/>
<path d="M414.0 148.0 C414.1 148.8 414.4 151.1 414.7 152.6 C414.9 154.1 415.1 155.6 415.3 157.2 C415.5 158.7 415.7 160.2 416.0 161.8 C416.2 163.3 416.4 164.8 416.7 166.3 C417.0 167.9 417.3 169.4 417.6 170.9 C417.9 172.4 418.3 173.9 418.7 175.4 C419.1 176.9 419.5 178.4 419.9 179.9 C420.4 181.3 420.8 182.8 421.3 184.3 C421.8 185.8 422.3 187.2 422.8 188.7 C423.3 190.1 423.9 191.6 424.4 193.0 C424.9 194.5 425.5 195.9 426.0 197.4 C426.5 198.8 427.1 200.3 427.6 201.7 C428.1 203.2 428.6 204.6 429.1 206.1 C429.7 207.6 430.2 209.0 430.7 210.5 C431.2 211.9 431.7 213.4 432.2 214.8 C432.7 216.3 433.2 217.8 433.7 219.2 C434.2 220.7 434.7 222.2 435.2 223.6 C435.7 225.1 436.2 226.5 436.7 228.0 C437.2 229.5 437.6 230.9 438.1 232.4 C438.6 233.9 439.1 235.3 439.6 236.8 C440.1 238.3 440.6 239.7 441.1 241.2 C441.6 242.7 442.0 244.1 442.5 245.6 C443.0 247.1 443.8 249.3 444.0 250.0" fill="none" stroke="rgb(144,144,144)" stroke-width="1.9"/>
<path d="M422.7 150.2 C422.8 151.0 423.1 153.2 423.2 154.8 C423.4 156.3 423.6 157.8 423.8 159.3 C423.9 160.8 424.1 162.3 424.3 163.9 C424.5 165.4 424.7 166.9 424.9 168.4 C425.1 169.9 425.4 171.4 425.6 172.9 C425.9 174.4 426.2 175.9 426.5 177.4 C426.8 178.9 427.1 180.4 427.5 181.9 C427.8 183.4 428.2 184.8 428.5 186.3 C428.9 187.8 429.3 189.2 429.7 190.7 C430.1 192.2 430.6 193.6 431.0 195.1 C431.4 196.5 431.8 198.0 432.3 199.4 C432.7 200.9 433.1 202.4 433.5 203.8 C433.9 205.3 434.4 206.7 434.8 208.2 C435.2 209.7 435.6 211.1 436.0 212.6 C436.4 214.1 436.8 215.5 437.2 217.0 C437.7 218.4 438.1 219.9 438.5 221.4 C438.9 222.8 439.3 224.3 439.7 225.8 C440.1 227.2 440.5 228.7 440.9 230.2 C441.3 231.6 441.7 233.1 442.1 234.6 C442.5 236.1 442.9 237.5 443.3 239.0 C443.7 240.5 444.1 241.9 444.5 243.4 C444.9 244.9 445.3 246.3 445.7 247.8 C446.1 249.3 446.7 251.5 446.9 252.2" fill="none" stroke="rgb(37,37,37)" stroke-width="2.9" opacity="0.39"/>
<path d="M420.5 148.0 C420.6 148.8 420.9 151.0 421.0 152.6 C421.2 154.1 421.4 155.6 421.6 157.1 C421.7 158.6 421.9 160.1 422.1 161.7 C422.3 163.2 422.5 164.7 422.7 166.2 C422.9 167.7 423.2 169.2 423.4 170.7 C423.7 172.2 424.0 173.7 424.3 175.2 C424.6 176.7 424.9 178.2 425.3 179.7 C425.6 181.2 426.0 182.6 426.3 184.1 C426.7 185.6 427.1 187.0 427.5 188.5 C427.9 190.0 428.4 191.4 428.8 192.9 C429.2 194.3 429.6 195.8 430.1 197.2 C430.5 198.7 430.9 200.2 431.3 201.6 C431.7 203.1 432.2 204.5 432.6 206.0 C433.0 207.5 433.4 208.9 433.8 210.4 C434.2 211.9 434.6 213.3 435.0 214.8 C435.5 216.2 435.9 217.7 436.3 219.2 C436.7 220.6 437.1 222.1 437.5 223.6 C437.9 225.0 438.3 226.5 438.7 228.0 C439.1 229.4 439.5 230.9 439.9 232.4 C440.3 233.9 440.7 235.3 441.1 236.8 C441.5 238.3 441.9 239.7 442.3 241.2 C442.7 242.7 443.1 244.1 443.5 245.6 C443.9 247.1 444.5 249.3 444.7 250.0" fill="none" stroke="rgb(149,149,149)" stroke-width="1.6"/>
<path d="M429.2 150.2 C429.3 151.0 429.5 153.2 429.6 154.7 C429.7 156.2 429.9 157.7 430.0 159.2 C430.1 160.7 430.3 162.2 430.4 163.7 C430.6 165.3 430.7 166.8 430.9 168.3 C431.0 169.8 431.2 171.3 431.4 172.8 C431.6 174.2 431.8 175.7 432.1 177.2 C432.3 178.7 432.5 180.2 432.8 181.7 C433.0 183.2 433.3 184.6 433.6 186.1 C433.9 187.6 434.2 189.1 434.5 190.5 C434.7 192.0 435.1 193.5 435.4 194.9 C435.7 196.4 436.0 197.9 436.3 199.3 C436.6 200.8 436.9 202.2 437.3 203.7 C437.6 205.2 437.9 206.6 438.2 208.1 C438.5 209.6 438.8 211.0 439.1 212.5 C439.5 214.0 439.8 215.5 440.1 216.9 C440.4 218.4 440.7 219.9 441.0 221.3 C441.3 222.8 441.7 224.3 442.0 225.7 C442.3 227.2 442.6 228.7 442.9 230.1 C443.2 231.6 443.6 233.1 443.9 234.6 C444.2 236.0 444.5 237.5 444.8 239.0 C445.2 240.4 445.5 241.9 445.8 243.4 C446.1 244.8 446.4 246.3 446.7 247.8 C447.1 249.3 447.5 251.5 447.7 252.2" fill="none" stroke="rgb(51,51,51)" stroke-width="3.0" opacity="0.39"/>
<path d="M427.0 148.0 C427.1 148.8 427.3 151.0 427.4 152.5 C427.5 154.0 427.7 155.5 427.8 157.0 C427.9 158.5 428.1 160.0 428.2 161.5 C428.4 163.1 428.5 164.6 428.7 166.1 C428.8 167.6 429.0 169.1 429.2 170.6 C429.4 172.0 429.6 173.5 429.9 175.0 C430.1 176.5 430.3 178.0 430.6 179.5 C430.8 181.0 431.1 182.4 431.4 183.9 C431.7 185.4 432.0 186.9 432.3 188.3 C432.5 189.8 432.9 191.3 433.2 192.7 C433.5 194.2 433.8 195.7 434.1 197.1 C434.4 198.6 434.7 200.0 435.1 201.5 C435.4 203.0 435.7 204.4 436.0 205.9 C436.3 207.4 436.6 208.8 436.9 210.3 C437.3 211.8 437.6 213.3 437.9 214.7 C438.2 216.2 438.5 217.7 438.8 219.1 C439.1 220.6 439.5 222.1 439.8 223.5 C440.1 225.0 440.4 226.5 440.7 227.9 C441.0 229.4 441.4 230.9 441.7 232.4 C442.0 233.8 442.3 235.3 442.6 236.8 C443.0 238.2 443.3 239.7 443.6 241.2 C443.9 242.6 444.2 244.1 444.5 245.6 C444.9 247.1 445.3 249.3 445.5 250.0" fill="none" stroke="rgb(111,111,111)" stroke-width="1.7"/>
<path d="M435.7 150.2 C435.7 150.9 435.9 153.2 436.0 154.7 C436.1 156.2 436.2 157.7 436.3 159.2 C436.4 160.7 436.5 162.1 436.5 163.6 C436.6 165.1 436.7 166.6 436.9 168.1 C437.0 169.6 437.1 171.1 437.2 172.6 C437.4 174.1 437.5 175.6 437.6 177.0 C437.8 178.5 438.0 180.0 438.1 181.5 C438.3 183.0 438.4 184.5 438.6 185.9 C438.8 187.4 439.0 188.9 439.2 190.4 C439.4 191.8 439.6 193.3 439.8 194.8 C440.0 196.2 440.2 197.7 440.4 199.2 C440.6 200.7 440.8 202.1 441.0 203.6 C441.2 205.1 441.4 206.5 441.6 208.0 C441.8 209.5 442.1 211.0 442.3 212.4 C442.5 213.9 442.7 215.4 442.9 216.9 C443.1 218.3 443.4 219.8 443.6 221.3 C443.8 222.7 444.0 224.2 444.3 225.7 C444.5 227.2 444.7 228.6 445.0 230.1 C445.2 231.6 445.4 233.1 445.7 234.5 C445.9 236.0 446.1 237.5 446.4 238.9 C446.6 240.4 446.8 241.9 447.1 243.4 C447.3 244.8 447.5 246.3 447.8 247.8 C448.0 249.3 448.3 251.5 448.4 252.2" fill="none" stroke="rgb(51,51,51)" stroke-width="2.0" opacity="0.39"/>
<path d="M433.5 148.0 C433.5 148.7 433.7 151.0 433.8 152.5 C433.9 154.0 434.0 155.5 434.1 157.0 C434.2 158.5 434.3 159.9 434.3 161.4 C434.4 162.9 434.5 164.4 434.7 165.9 C434.8 167.4 434.9 168.9 435.0 170.4 C435.2 171.9 435.3 173.4 435.4 174.8 C435.6 176.3 435.8 177.8 435.9 179.3 C436.1 180.8 436.2 182.3 436.4 183.7 C436.6 185.2 436.8 186.7 437.0 188.2 C437.2 189.6 437.4 191.1 437.6 192.6 C437.8 194.0 438.0 195.5 438.2 197.0 C438.4 198.5 438.6 199.9 438.8 201.4 C439.0 202.9 439.2 204.3 439.4 205.8 C439.6 207.3 439.9 208.8 440.1 210.2 C440.3 211.7 440.5 213.2 440.7 214.7 C440.9 216.1 441.2 217.6 441.4 219.1 C441.6 220.5 441.8 222.0 442.1 223.5 C442.3 225.0 442.5 226.4 442.8 227.9 C443.0 229.4 443.2 230.9 443.5 232.3 C443.7 233.8 443.9 235.3 444.2 236.7 C444.4 238.2 444.6 239.7 444.9 241.2 C445.1 242.6 445.3 244.1 445.6 245.6 C445.8 247.1 446.1 249.3 446.2 250.0" fill="none" stroke="rgb(135,135,135)" stroke-width="2.2"/>
<path d="M442.2 150.2 C442.4 154.9 442.7 167.9 443.2 178.2 C443.7 188.5 444.2 199.9 445.2 212.2 C446.2 224.5 448.5 245.5 449.2 252.2" fill="none" stroke="rgb(42,42,42)" stroke-width="2.4" opacity="0.39"/>
<path d="M440.0 148.0 C440.2 152.7 440.5 165.7 441.0 176.0 C441.5 186.3 442.0 197.7 443.0 210.0 C444.0 222.3 446.3 243.3 447.0 250.0" fill="none" stroke="rgb(179,179,179)" stroke-width="2.3"/>
</g>
<path d="M383.7 31.7 C386.0 32.6 393.2 35.0 397.7 37.2 C402.2 39.5 406.0 42.2 410.7 45.2 C415.4 48.2 420.9 52.0 425.7 55.2 C430.5 58.5 434.5 60.7 439.7 64.7 C444.9 68.7 451.0 74.9 456.7 79.1 C462.4 83.3 467.4 83.6 473.8 89.7 C480.2 95.8 489.8 109.6 494.9 116.0 C499.9 122.4 502.6 126.0 504.1 128.0" fill="none" stroke="rgb(37,37,37)" stroke-width="1.9" opacity="0.55"/>
<path d="M381.5 29.5 C383.8 30.4 391.0 32.8 395.5 35.0 C400.0 37.2 403.8 40.0 408.5 43.0 C413.2 46.0 418.7 49.8 423.5 53.0 C428.3 56.2 432.3 58.5 437.5 62.5 C442.7 66.5 448.8 72.7 454.5 76.9 C460.2 81.1 465.2 81.3 471.6 87.5 C478.0 93.7 487.6 107.4 492.7 113.8 C497.8 120.2 500.4 123.8 501.9 125.8" fill="none" stroke="rgb(206,206,206)" stroke-width="2.9"/>
<path d="M382.2 35.2 C384.5 36.1 391.7 38.5 396.2 40.7 C400.7 43.0 404.5 45.7 409.2 48.7 C413.9 51.7 419.4 55.5 424.2 58.7 C429.0 62.0 433.0 64.2 438.2 68.2 C443.4 72.2 449.5 78.4 455.2 82.6 C460.9 86.8 465.9 87.1 472.3 93.2 C478.7 99.3 489.9 115.1 493.4 119.5" fill="none" stroke="rgb(43,43,43)" stroke-width="2.1" opacity="0.55"/>
<path d="M380.0 33.0 C382.3 33.9 389.5 36.2 394.0 38.5 C398.5 40.8 402.3 43.5 407.0 46.5 C411.7 49.5 417.2 53.2 422.0 56.5 C426.8 59.8 430.8 62.0 436.0 66.0 C441.2 70.0 447.3 76.2 453.0 80.4 C458.7 84.6 463.7 84.8 470.1 91.0 C476.5 97.2 487.7 112.9 491.2 117.3" fill="none" stroke="rgb(142,142,142)" stroke-width="2.3"/>
<path d="M362.2 29.2 C363.4 29.2 366.9 29.1 369.3 29.2 C371.6 29.3 374.0 29.3 376.3 29.6 C378.6 30.0 380.9 30.6 383.1 31.3 C385.4 32.0 387.6 32.9 389.7 33.8 C391.9 34.8 394.0 35.8 396.1 36.9 C398.2 38.0 400.2 39.1 402.3 40.3 C404.3 41.5 406.3 42.7 408.3 43.9 C410.3 45.2 412.3 46.5 414.3 47.7 C416.2 49.0 418.2 50.3 420.1 51.7 C422.1 53.0 424.0 54.3 425.9 55.6 C427.9 57.0 429.8 58.3 431.7 59.7 C433.6 61.1 435.5 62.4 437.4 63.9 C439.3 65.3 441.1 66.8 442.9 68.3 C444.7 69.8 446.5 71.3 448.3 72.8 C450.1 74.3 452.0 75.8 453.8 77.2 C455.7 78.7 457.6 80.0 459.5 81.4 C461.5 82.7 463.5 83.9 465.4 85.3 C467.3 86.7 469.1 88.2 470.8 89.8 C472.6 91.4 474.3 93.0 475.9 94.7 C477.5 96.4 479.1 98.2 480.6 99.9 C482.2 101.7 483.7 103.5 485.2 105.3 C486.7 107.1 488.2 109.0 489.7 110.8 C491.2 112.6 493.4 115.3 494.2 116.2" fill="none" stroke="rgb(39,39,39)" stroke-width="2.5" opacity="0.55"/>
<path d="M360.0 27.0 C361.2 27.0 364.7 26.9 367.1 27.0 C369.4 27.1 371.8 27.1 374.1 27.4 C376.4 27.8 378.7 28.4 380.9 29.1 C383.2 29.8 385.4 30.7 387.5 31.6 C389.7 32.6 391.8 33.6 393.9 34.7 C396.0 35.8 398.0 36.9 400.1 38.1 C402.1 39.3 404.1 40.5 406.1 41.7 C408.1 43.0 410.1 44.3 412.1 45.5 C414.0 46.8 416.0 48.1 417.9 49.5 C419.9 50.8 421.8 52.1 423.7 53.4 C425.7 54.8 427.6 56.1 429.5 57.5 C431.4 58.9 433.3 60.2 435.2 61.7 C437.1 63.1 438.9 64.6 440.7 66.1 C442.5 67.6 444.3 69.1 446.1 70.6 C447.9 72.1 449.8 73.6 451.6 75.0 C453.5 76.5 455.4 77.8 457.3 79.2 C459.3 80.5 461.3 81.7 463.2 83.1 C465.1 84.5 466.9 86.0 468.6 87.6 C470.4 89.2 472.1 90.8 473.7 92.5 C475.3 94.2 476.9 96.0 478.4 97.7 C480.0 99.5 481.5 101.3 483.0 103.1 C484.5 104.9 486.0 106.8 487.5 108.6 C489.0 110.4 491.2 113.1 492.0 114.0" fill="none" stroke="rgb(205,205,205)" stroke-width="3.2"/>
<path d="M362.4 39.8 C363.5 39.7 366.8 39.2 369.0 39.0 C371.1 38.8 373.3 38.5 375.5 38.6 C377.6 38.6 379.7 38.8 381.9 39.2 C384.0 39.5 386.1 40.1 388.1 40.7 C390.2 41.3 392.3 42.0 394.4 42.7 C396.4 43.5 398.5 44.3 400.5 45.2 C402.6 46.2 404.7 47.1 406.7 48.2 C408.7 49.2 410.8 50.2 412.8 51.4 C414.8 52.5 416.8 53.6 418.8 54.8 C420.8 56.0 422.8 57.2 424.8 58.4 C426.8 59.6 428.8 60.8 430.8 62.1 C432.7 63.3 434.7 64.6 436.6 66.0 C438.5 67.3 440.4 68.7 442.3 70.1 C444.2 71.6 446.0 73.0 447.9 74.5 C449.7 75.9 451.6 77.3 453.5 78.7 C455.4 80.1 457.3 81.5 459.2 82.8 C461.2 84.2 463.2 85.4 465.1 86.8 C467.0 88.1 468.9 89.6 470.7 91.1 C472.5 92.7 474.2 94.3 475.8 96.0 C477.5 97.6 479.1 99.3 480.7 101.0 C482.3 102.8 483.9 104.5 485.5 106.3 C487.0 108.0 488.6 109.8 490.1 111.6 C491.7 113.3 494.0 115.9 494.8 116.8" fill="none" stroke="rgb(43,43,43)" stroke-width="2.6" opacity="0.55"/>
<path d="M360.2 37.6 C361.3 37.5 364.6 37.0 366.8 36.8 C368.9 36.6 371.1 36.3 373.3 36.4 C375.4 36.4 377.5 36.6 379.7 37.0 C381.8 37.3 383.9 37.9 385.9 38.5 C388.0 39.1 390.1 39.8 392.2 40.5 C394.2 41.3 396.3 42.1 398.3 43.0 C400.4 44.0 402.5 44.9 404.5 46.0 C406.5 47.0 408.6 48.0 410.6 49.2 C412.6 50.3 414.6 51.4 416.6 52.6 C418.6 53.8 420.6 55.0 422.6 56.2 C424.6 57.4 426.6 58.6 428.6 59.9 C430.5 61.1 432.5 62.4 434.4 63.8 C436.3 65.1 438.2 66.5 440.1 67.9 C442.0 69.4 443.8 70.8 445.7 72.3 C447.5 73.7 449.4 75.1 451.3 76.5 C453.2 77.9 455.1 79.3 457.0 80.6 C459.0 82.0 461.0 83.2 462.9 84.6 C464.8 85.9 466.7 87.4 468.5 88.9 C470.3 90.5 472.0 92.1 473.6 93.8 C475.3 95.4 476.9 97.1 478.5 98.8 C480.1 100.6 481.7 102.3 483.3 104.1 C484.8 105.8 486.4 107.6 487.9 109.4 C489.5 111.1 491.8 113.7 492.6 114.6" fill="none" stroke="rgb(164,164,164)" stroke-width="2.3"/>
<path d="M362.7 50.5 C363.7 50.2 366.7 49.3 368.7 48.8 C370.7 48.3 372.7 47.7 374.7 47.5 C376.7 47.2 378.6 47.0 380.6 47.0 C382.5 47.0 384.5 47.2 386.6 47.5 C388.6 47.7 390.6 48.1 392.6 48.5 C394.7 49.0 396.7 49.5 398.8 50.2 C400.9 50.8 403.0 51.6 405.1 52.4 C407.2 53.2 409.3 54.0 411.3 55.0 C413.4 55.9 415.5 56.9 417.5 57.9 C419.6 59.0 421.7 60.0 423.7 61.1 C425.7 62.2 427.8 63.3 429.8 64.5 C431.8 65.6 433.8 66.8 435.8 68.1 C437.8 69.3 439.7 70.7 441.7 72.0 C443.6 73.3 445.5 74.7 447.4 76.1 C449.3 77.5 451.2 78.9 453.1 80.2 C455.1 81.6 457.0 82.9 459.0 84.3 C460.9 85.6 463.0 86.8 464.9 88.2 C466.8 89.5 468.7 91.0 470.5 92.5 C472.3 94.0 474.1 95.6 475.8 97.2 C477.5 98.8 479.2 100.5 480.8 102.1 C482.5 103.8 484.1 105.5 485.7 107.2 C487.4 108.9 489.0 110.6 490.6 112.3 C492.2 114.0 494.6 116.6 495.4 117.4" fill="none" stroke="rgb(39,39,39)" stroke-width="2.1" opacity="0.55"/>
<path d="M360.5 48.2 C361.5 48.0 364.5 47.1 366.5 46.6 C368.5 46.1 370.5 45.5 372.5 45.3 C374.5 45.0 376.4 44.8 378.4 44.8 C380.3 44.8 382.3 45.0 384.4 45.3 C386.4 45.5 388.4 45.9 390.4 46.3 C392.5 46.8 394.5 47.3 396.6 48.0 C398.7 48.6 400.8 49.4 402.9 50.2 C405.0 51.0 407.1 51.8 409.1 52.8 C411.2 53.7 413.3 54.7 415.3 55.7 C417.4 56.8 419.5 57.8 421.5 58.9 C423.5 60.0 425.6 61.1 427.6 62.3 C429.6 63.4 431.6 64.6 433.6 65.9 C435.6 67.1 437.5 68.5 439.5 69.8 C441.4 71.1 443.3 72.5 445.2 73.9 C447.1 75.3 449.0 76.7 450.9 78.0 C452.9 79.4 454.8 80.7 456.8 82.1 C458.7 83.4 460.8 84.6 462.7 86.0 C464.6 87.3 466.5 88.8 468.3 90.3 C470.1 91.8 471.9 93.4 473.6 95.0 C475.3 96.6 477.0 98.3 478.6 99.9 C480.3 101.6 481.9 103.3 483.5 105.0 C485.2 106.7 486.8 108.4 488.4 110.1 C490.0 111.8 492.4 114.4 493.2 115.2" fill="none" stroke="rgb(199,199,199)" stroke-width="2.5"/>
<path d="M362.9 61.1 C363.9 60.7 366.6 59.4 368.4 58.6 C370.2 57.8 372.0 57.0 373.9 56.4 C375.7 55.7 377.4 55.2 379.3 54.9 C381.1 54.6 383.0 54.4 385.0 54.3 C386.9 54.2 388.9 54.2 390.9 54.4 C392.9 54.5 395.0 54.8 397.1 55.1 C399.2 55.5 401.3 56.0 403.5 56.6 C405.6 57.2 407.7 57.8 409.9 58.6 C412.0 59.3 414.1 60.2 416.2 61.1 C418.4 62.0 420.5 62.9 422.6 63.9 C424.7 64.8 426.8 65.8 428.9 66.9 C430.9 67.9 433.0 69.0 435.0 70.2 C437.1 71.4 439.1 72.6 441.0 73.8 C443.0 75.1 444.9 76.4 446.9 77.7 C448.9 79.1 450.8 80.4 452.8 81.7 C454.7 83.1 456.7 84.4 458.7 85.7 C460.7 87.0 462.7 88.2 464.6 89.6 C466.6 90.9 468.5 92.4 470.3 93.8 C472.2 95.3 474.0 96.9 475.7 98.4 C477.5 100.0 479.2 101.6 480.9 103.2 C482.7 104.9 484.3 106.5 486.0 108.2 C487.7 109.8 489.4 111.5 491.0 113.1 C492.7 114.8 495.2 117.2 496.1 118.1" fill="none" stroke="rgb(55,55,55)" stroke-width="2.6" opacity="0.55"/>
<path d="M360.8 58.9 C361.7 58.5 364.4 57.2 366.2 56.4 C368.0 55.6 369.8 54.8 371.7 54.2 C373.5 53.5 375.2 53.0 377.1 52.7 C378.9 52.4 380.8 52.2 382.8 52.1 C384.7 52.0 386.7 52.0 388.7 52.2 C390.7 52.3 392.8 52.6 394.9 52.9 C397.0 53.3 399.1 53.8 401.3 54.4 C403.4 55.0 405.5 55.6 407.7 56.4 C409.8 57.1 411.9 58.0 414.0 58.9 C416.2 59.8 418.3 60.7 420.4 61.7 C422.5 62.6 424.6 63.6 426.7 64.7 C428.7 65.7 430.8 66.8 432.8 68.0 C434.9 69.2 436.9 70.4 438.8 71.6 C440.8 72.9 442.7 74.2 444.7 75.5 C446.7 76.9 448.6 78.2 450.6 79.5 C452.5 80.9 454.5 82.2 456.5 83.5 C458.5 84.8 460.5 86.0 462.4 87.4 C464.4 88.7 466.3 90.2 468.1 91.6 C470.0 93.1 471.8 94.7 473.5 96.2 C475.3 97.8 477.0 99.4 478.7 101.0 C480.5 102.7 482.1 104.3 483.8 106.0 C485.5 107.6 487.2 109.3 488.8 110.9 C490.5 112.6 493.0 115.0 493.9 115.9" fill="none" stroke="rgb(158,158,158)" stroke-width="1.7"/>
<path d="M363.2 71.7 C364.0 71.1 366.5 69.4 368.1 68.4 C369.8 67.3 371.4 66.2 373.0 65.3 C374.7 64.3 376.3 63.5 378.0 62.8 C379.7 62.1 381.5 61.6 383.4 61.1 C385.3 60.7 387.2 60.4 389.2 60.2 C391.2 60.0 393.3 60.0 395.4 60.1 C397.5 60.2 399.7 60.4 401.9 60.8 C404.0 61.1 406.2 61.6 408.4 62.2 C410.6 62.7 412.8 63.5 414.9 64.2 C417.1 64.9 419.3 65.7 421.5 66.6 C423.6 67.4 425.8 68.3 427.9 69.2 C430.0 70.2 432.2 71.2 434.2 72.3 C436.3 73.4 438.4 74.5 440.4 75.7 C442.4 76.9 444.4 78.1 446.4 79.4 C448.4 80.6 450.4 81.9 452.4 83.2 C454.4 84.5 456.4 85.8 458.4 87.1 C460.4 88.4 462.4 89.7 464.4 91.0 C466.3 92.3 468.3 93.8 470.2 95.2 C472.0 96.6 473.9 98.2 475.7 99.7 C477.5 101.2 479.3 102.8 481.0 104.3 C482.8 105.9 484.5 107.5 486.3 109.1 C488.0 110.7 489.8 112.3 491.5 113.9 C493.2 115.5 495.8 117.9 496.7 118.7" fill="none" stroke="rgb(41,41,41)" stroke-width="1.9" opacity="0.55"/>
<path d="M361.0 69.5 C361.8 68.9 364.3 67.2 365.9 66.2 C367.6 65.1 369.2 64.0 370.8 63.1 C372.5 62.1 374.1 61.3 375.8 60.6 C377.5 59.9 379.3 59.4 381.2 58.9 C383.1 58.5 385.0 58.2 387.0 58.0 C389.0 57.8 391.1 57.8 393.2 57.9 C395.3 58.0 397.5 58.2 399.7 58.6 C401.8 58.9 404.0 59.4 406.2 60.0 C408.4 60.5 410.6 61.3 412.7 62.0 C414.9 62.7 417.1 63.5 419.3 64.4 C421.4 65.2 423.6 66.1 425.7 67.0 C427.8 68.0 430.0 69.0 432.0 70.1 C434.1 71.2 436.2 72.3 438.2 73.5 C440.2 74.7 442.2 75.9 444.2 77.2 C446.2 78.4 448.2 79.7 450.2 81.0 C452.2 82.3 454.2 83.6 456.2 84.9 C458.2 86.2 460.2 87.5 462.2 88.8 C464.1 90.1 466.1 91.6 468.0 93.0 C469.8 94.4 471.7 96.0 473.5 97.5 C475.3 99.0 477.1 100.6 478.8 102.1 C480.6 103.7 482.3 105.3 484.1 106.9 C485.8 108.5 487.6 110.1 489.3 111.7 C491.0 113.3 493.6 115.7 494.5 116.5" fill="none" stroke="rgb(155,155,155)" stroke-width="1.8"/>
<path d="M363.4 82.3 C364.2 81.6 366.4 79.5 367.8 78.2 C369.3 76.8 370.8 75.4 372.2 74.2 C373.7 72.9 375.1 71.7 376.7 70.7 C378.3 69.6 380.0 68.7 381.8 68.0 C383.6 67.2 385.5 66.5 387.5 66.0 C389.4 65.5 391.5 65.2 393.7 65.0 C395.8 64.8 398.0 64.9 400.2 65.0 C402.5 65.1 404.7 65.4 406.9 65.8 C409.2 66.2 411.4 66.8 413.7 67.3 C415.9 67.9 418.1 68.6 420.3 69.3 C422.6 70.0 424.8 70.8 427.0 71.6 C429.1 72.5 431.3 73.4 433.4 74.4 C435.6 75.4 437.7 76.4 439.8 77.6 C441.9 78.7 443.9 79.8 446.0 81.0 C448.0 82.2 450.0 83.5 452.1 84.7 C454.1 86.0 456.1 87.3 458.1 88.5 C460.1 89.8 462.2 91.1 464.1 92.4 C466.1 93.8 468.1 95.1 470.0 96.6 C471.9 98.0 473.8 99.4 475.6 100.9 C477.5 102.4 479.3 103.9 481.1 105.4 C483.0 107.0 484.7 108.5 486.5 110.0 C488.3 111.6 490.1 113.1 491.9 114.7 C493.7 116.2 496.4 118.6 497.3 119.3" fill="none" stroke="rgb(42,42,42)" stroke-width="2.8" opacity="0.55"/>
<path d="M361.2 80.1 C362.0 79.4 364.2 77.3 365.6 76.0 C367.1 74.6 368.6 73.2 370.0 72.0 C371.5 70.7 372.9 69.5 374.5 68.5 C376.1 67.4 377.8 66.5 379.6 65.8 C381.4 65.0 383.3 64.3 385.3 63.8 C387.2 63.3 389.3 63.0 391.5 62.8 C393.6 62.6 395.8 62.7 398.0 62.8 C400.3 62.9 402.5 63.2 404.7 63.6 C407.0 64.0 409.2 64.6 411.5 65.1 C413.7 65.7 415.9 66.4 418.1 67.1 C420.4 67.8 422.6 68.6 424.8 69.4 C426.9 70.3 429.1 71.2 431.2 72.2 C433.4 73.2 435.5 74.2 437.6 75.4 C439.7 76.5 441.7 77.6 443.8 78.8 C445.8 80.0 447.8 81.3 449.9 82.5 C451.9 83.8 453.9 85.1 455.9 86.3 C457.9 87.6 460.0 88.9 461.9 90.2 C463.9 91.6 465.9 92.9 467.8 94.4 C469.7 95.8 471.6 97.2 473.4 98.7 C475.3 100.2 477.1 101.7 478.9 103.2 C480.8 104.8 482.5 106.3 484.3 107.8 C486.1 109.4 487.9 110.9 489.7 112.5 C491.5 114.0 494.2 116.4 495.1 117.1" fill="none" stroke="rgb(114,114,114)" stroke-width="2.0"/>
<path d="M363.7 93.0 C364.3 92.1 366.3 89.6 367.6 87.9 C368.8 86.3 370.1 84.6 371.4 83.1 C372.7 81.5 373.9 79.9 375.4 78.5 C376.9 77.2 378.5 75.9 380.2 74.8 C381.9 73.7 383.8 72.6 385.7 71.8 C387.7 71.0 389.8 70.4 391.9 69.9 C394.1 69.5 396.4 69.3 398.6 69.2 C400.9 69.1 403.2 69.2 405.5 69.4 C407.8 69.6 410.1 70.0 412.4 70.5 C414.7 70.9 416.9 71.5 419.2 72.1 C421.5 72.7 423.8 73.3 426.0 74.0 C428.2 74.8 430.5 75.6 432.6 76.5 C434.8 77.4 437.0 78.4 439.1 79.4 C441.3 80.4 443.4 81.5 445.5 82.7 C447.6 83.8 449.6 85.0 451.7 86.2 C453.8 87.4 455.8 88.7 457.8 90.0 C459.9 91.2 461.9 92.5 463.9 93.8 C465.9 95.2 467.9 96.5 469.8 97.9 C471.8 99.3 473.7 100.7 475.6 102.2 C477.5 103.6 479.4 105.1 481.2 106.5 C483.1 108.0 485.0 109.5 486.8 111.0 C488.7 112.5 490.5 114.0 492.4 115.5 C494.2 117.0 497.0 119.2 497.9 119.9" fill="none" stroke="rgb(47,47,47)" stroke-width="1.9" opacity="0.55"/>
<path d="M361.5 90.8 C362.1 89.9 364.1 87.4 365.4 85.7 C366.6 84.1 367.9 82.4 369.2 80.9 C370.5 79.3 371.7 77.7 373.2 76.3 C374.7 75.0 376.3 73.7 378.0 72.6 C379.7 71.5 381.6 70.4 383.5 69.6 C385.5 68.8 387.6 68.2 389.7 67.7 C391.9 67.3 394.2 67.1 396.4 67.0 C398.7 66.9 401.0 67.0 403.3 67.2 C405.6 67.4 407.9 67.8 410.2 68.3 C412.5 68.7 414.7 69.3 417.0 69.9 C419.3 70.5 421.6 71.1 423.8 71.8 C426.0 72.6 428.3 73.4 430.4 74.3 C432.6 75.2 434.8 76.2 436.9 77.2 C439.1 78.2 441.2 79.3 443.3 80.5 C445.4 81.6 447.4 82.8 449.5 84.0 C451.6 85.2 453.6 86.5 455.6 87.8 C457.7 89.0 459.7 90.3 461.7 91.6 C463.7 93.0 465.7 94.3 467.6 95.7 C469.6 97.1 471.5 98.5 473.4 100.0 C475.3 101.4 477.2 102.9 479.0 104.3 C480.9 105.8 482.8 107.3 484.6 108.8 C486.5 110.3 488.3 111.8 490.2 113.3 C492.0 114.8 494.8 117.0 495.7 117.7" fill="none" stroke="rgb(203,203,203)" stroke-width="3.2"/>
<path d="M363.9 103.6 C364.5 102.6 366.2 99.7 367.3 97.7 C368.4 95.8 369.5 93.8 370.6 92.0 C371.7 90.1 372.8 88.1 374.1 86.4 C375.4 84.7 377.0 83.1 378.6 81.6 C380.3 80.2 382.1 78.8 384.0 77.6 C385.9 76.5 388.1 75.6 390.2 74.9 C392.4 74.2 394.7 73.7 397.0 73.4 C399.3 73.1 401.7 73.0 404.0 73.0 C406.4 73.0 408.7 73.3 411.1 73.6 C413.4 73.9 415.8 74.3 418.1 74.8 C420.4 75.3 422.7 75.8 425.0 76.4 C427.3 77.1 429.6 77.8 431.9 78.6 C434.1 79.4 436.3 80.3 438.5 81.3 C440.7 82.2 442.9 83.2 445.0 84.3 C447.1 85.4 449.3 86.5 451.3 87.7 C453.4 88.9 455.5 90.1 457.5 91.4 C459.6 92.7 461.6 93.9 463.6 95.2 C465.7 96.6 467.7 97.9 469.6 99.3 C471.6 100.6 473.6 102.0 475.5 103.4 C477.5 104.8 479.4 106.2 481.3 107.6 C483.3 109.0 485.2 110.5 487.1 111.9 C489.0 113.4 490.9 114.8 492.8 116.3 C494.7 117.7 497.6 119.9 498.6 120.6" fill="none" stroke="rgb(55,55,55)" stroke-width="2.6" opacity="0.55"/>
<path d="M361.8 101.4 C362.3 100.4 364.0 97.5 365.1 95.5 C366.2 93.6 367.3 91.6 368.4 89.8 C369.5 87.9 370.6 85.9 371.9 84.2 C373.2 82.5 374.8 80.9 376.4 79.4 C378.1 78.0 379.9 76.6 381.8 75.4 C383.7 74.3 385.9 73.4 388.0 72.7 C390.2 72.0 392.5 71.5 394.8 71.2 C397.1 70.9 399.5 70.8 401.8 70.8 C404.2 70.8 406.5 71.1 408.9 71.4 C411.2 71.7 413.6 72.1 415.9 72.6 C418.2 73.1 420.5 73.6 422.8 74.2 C425.1 74.9 427.4 75.6 429.7 76.4 C431.9 77.2 434.1 78.1 436.3 79.1 C438.5 80.0 440.7 81.0 442.8 82.1 C444.9 83.2 447.1 84.3 449.1 85.5 C451.2 86.7 453.3 87.9 455.3 89.2 C457.4 90.5 459.4 91.7 461.4 93.0 C463.5 94.4 465.5 95.7 467.4 97.1 C469.4 98.4 471.4 99.8 473.3 101.2 C475.3 102.6 477.2 104.0 479.1 105.4 C481.1 106.8 483.0 108.3 484.9 109.7 C486.8 111.2 488.7 112.6 490.6 114.1 C492.5 115.5 495.4 117.7 496.4 118.4" fill="none" stroke="rgb(153,153,153)" stroke-width="2.5"/>
<path d="M364.2 114.2 C364.7 113.1 366.0 109.7 367.0 107.5 C367.9 105.3 368.8 103.1 369.8 100.9 C370.8 98.7 371.6 96.4 372.8 94.3 C374.0 92.2 375.5 90.2 377.1 88.4 C378.6 86.6 380.4 84.9 382.3 83.5 C384.2 82.0 386.3 80.8 388.5 79.8 C390.7 78.9 393.1 78.2 395.4 77.6 C397.7 77.1 400.2 76.8 402.6 76.6 C404.9 76.5 407.4 76.6 409.8 76.7 C412.2 76.9 414.6 77.2 417.0 77.5 C419.4 77.9 421.7 78.3 424.1 78.8 C426.4 79.3 428.8 80.0 431.1 80.7 C433.4 81.4 435.6 82.2 437.9 83.1 C440.1 84.0 442.4 84.9 444.5 86.0 C446.7 87.0 448.9 88.1 451.0 89.2 C453.1 90.4 455.2 91.6 457.3 92.8 C459.3 94.1 461.4 95.4 463.4 96.7 C465.4 98.0 467.4 99.3 469.5 100.6 C471.5 101.9 473.5 103.3 475.5 104.6 C477.5 106.0 479.5 107.3 481.4 108.7 C483.4 110.1 485.4 111.5 487.4 112.9 C489.3 114.3 491.3 115.6 493.3 117.0 C495.3 118.4 498.2 120.5 499.2 121.2" fill="none" stroke="rgb(36,36,36)" stroke-width="3.2" opacity="0.55"/>
<path d="M362.0 112.0 C362.5 110.9 363.8 107.5 364.8 105.3 C365.7 103.1 366.6 100.9 367.6 98.7 C368.6 96.5 369.4 94.2 370.6 92.1 C371.8 90.0 373.3 88.0 374.9 86.2 C376.4 84.4 378.2 82.7 380.1 81.3 C382.0 79.8 384.1 78.6 386.3 77.6 C388.5 76.7 390.9 76.0 393.2 75.4 C395.5 74.9 398.0 74.6 400.4 74.4 C402.7 74.3 405.2 74.4 407.6 74.5 C410.0 74.7 412.4 75.0 414.8 75.3 C417.2 75.7 419.5 76.1 421.9 76.6 C424.2 77.1 426.6 77.8 428.9 78.5 C431.2 79.2 433.4 80.0 435.7 80.9 C437.9 81.8 440.2 82.7 442.3 83.8 C444.5 84.8 446.7 85.9 448.8 87.0 C450.9 88.2 453.0 89.4 455.1 90.6 C457.1 91.9 459.2 93.2 461.2 94.5 C463.2 95.8 465.2 97.1 467.3 98.4 C469.3 99.7 471.3 101.1 473.3 102.4 C475.3 103.8 477.3 105.1 479.2 106.5 C481.2 107.9 483.2 109.3 485.2 110.7 C487.1 112.1 489.1 113.4 491.1 114.8 C493.1 116.2 496.0 118.3 497.0 119.0" fill="none" stroke="rgb(178,178,178)" stroke-width="2.4"/>
<path d="M372.4 117.5 C372.9 116.4 374.1 113.2 374.9 111.1 C375.7 109.0 376.5 106.9 377.4 104.8 C378.3 102.7 379.0 100.6 380.1 98.6 C381.2 96.7 382.6 94.8 384.0 93.1 C385.5 91.4 387.1 89.7 388.9 88.4 C390.7 87.1 392.8 85.9 394.8 85.0 C396.9 84.1 399.1 83.5 401.3 82.9 C403.5 82.4 405.7 82.1 408.0 81.9 C410.2 81.8 412.5 81.8 414.8 81.9 C417.0 82.0 419.3 82.3 421.5 82.5 C423.8 82.8 426.0 83.2 428.2 83.6 C430.4 84.1 432.6 84.7 434.8 85.3 C437.0 85.9 439.1 86.7 441.2 87.4 C443.3 88.2 445.4 89.1 447.5 90.0 C449.6 90.9 451.6 91.9 453.6 92.9 C455.6 94.0 457.6 95.0 459.6 96.2 C461.6 97.3 463.5 98.4 465.4 99.6 C467.4 100.8 469.3 102.0 471.2 103.2 C473.1 104.4 475.0 105.6 476.9 106.8 C478.8 108.1 480.7 109.3 482.6 110.6 C484.5 111.8 486.3 113.1 488.2 114.4 C490.1 115.6 492.0 116.9 493.8 118.2 C495.7 119.4 498.5 121.3 499.4 121.9" fill="none" stroke="rgb(47,47,47)" stroke-width="2.3" opacity="0.55"/>
<path d="M370.2 115.2 C370.7 114.2 371.9 111.0 372.7 108.9 C373.5 106.8 374.3 104.7 375.2 102.6 C376.1 100.5 376.8 98.4 377.9 96.4 C379.0 94.5 380.4 92.6 381.8 90.9 C383.3 89.2 384.9 87.5 386.7 86.2 C388.5 84.9 390.6 83.7 392.6 82.8 C394.7 81.9 396.9 81.3 399.1 80.7 C401.3 80.2 403.5 79.9 405.8 79.7 C408.0 79.6 410.3 79.6 412.6 79.7 C414.8 79.8 417.1 80.1 419.3 80.3 C421.6 80.6 423.8 81.0 426.0 81.4 C428.2 81.9 430.4 82.5 432.6 83.1 C434.8 83.7 436.9 84.5 439.0 85.2 C441.1 86.0 443.2 86.9 445.3 87.8 C447.4 88.7 449.4 89.7 451.4 90.7 C453.4 91.8 455.4 92.8 457.4 94.0 C459.4 95.1 461.3 96.2 463.2 97.4 C465.2 98.6 467.1 99.8 469.0 101.0 C470.9 102.2 472.8 103.4 474.7 104.6 C476.6 105.9 478.5 107.1 480.4 108.4 C482.3 109.6 484.1 110.9 486.0 112.2 C487.9 113.4 489.8 114.7 491.6 116.0 C493.5 117.2 496.3 119.1 497.2 119.7" fill="none" stroke="rgb(174,174,174)" stroke-width="2.2"/>
<path d="M380.7 120.7 C381.1 119.7 382.1 116.7 382.8 114.7 C383.6 112.7 384.2 110.7 385.0 108.8 C385.8 106.8 386.5 104.8 387.5 102.9 C388.5 101.1 389.7 99.3 391.0 97.7 C392.4 96.1 393.9 94.6 395.6 93.4 C397.3 92.1 399.2 91.1 401.1 90.2 C403.0 89.4 405.1 88.8 407.1 88.3 C409.2 87.8 411.3 87.4 413.4 87.2 C415.5 87.0 417.6 87.1 419.7 87.1 C421.8 87.2 423.9 87.3 426.0 87.6 C428.1 87.8 430.2 88.1 432.3 88.5 C434.4 88.9 436.5 89.3 438.5 89.9 C440.5 90.5 442.6 91.1 444.6 91.8 C446.5 92.5 448.5 93.2 450.5 94.0 C452.4 94.8 454.4 95.7 456.3 96.6 C458.2 97.5 460.0 98.5 461.9 99.5 C463.8 100.5 465.6 101.5 467.5 102.5 C469.3 103.6 471.1 104.7 472.9 105.7 C474.7 106.8 476.5 107.9 478.3 109.0 C480.1 110.1 481.9 111.3 483.7 112.4 C485.5 113.5 487.3 114.7 489.0 115.8 C490.8 117.0 492.6 118.1 494.4 119.3 C496.1 120.4 498.8 122.1 499.7 122.7" fill="none" stroke="rgb(55,55,55)" stroke-width="1.8" opacity="0.55"/>
<path d="M378.5 118.5 C378.9 117.5 379.9 114.5 380.6 112.5 C381.4 110.5 382.0 108.5 382.8 106.6 C383.6 104.6 384.3 102.6 385.3 100.7 C386.3 98.9 387.5 97.1 388.8 95.5 C390.2 93.9 391.7 92.4 393.4 91.2 C395.1 89.9 397.0 88.9 398.9 88.0 C400.8 87.2 402.9 86.6 404.9 86.1 C407.0 85.6 409.1 85.2 411.2 85.0 C413.3 84.8 415.4 84.9 417.5 84.9 C419.6 85.0 421.7 85.1 423.8 85.4 C425.9 85.6 428.0 85.9 430.1 86.3 C432.2 86.7 434.3 87.1 436.3 87.7 C438.3 88.3 440.4 88.9 442.4 89.6 C444.3 90.3 446.3 91.0 448.3 91.8 C450.2 92.6 452.2 93.5 454.1 94.4 C456.0 95.3 457.8 96.3 459.7 97.3 C461.6 98.3 463.4 99.3 465.3 100.3 C467.1 101.4 468.9 102.5 470.7 103.5 C472.5 104.6 474.3 105.7 476.1 106.8 C477.9 107.9 479.7 109.1 481.5 110.2 C483.3 111.3 485.1 112.5 486.8 113.6 C488.6 114.8 490.4 115.9 492.2 117.1 C493.9 118.2 496.6 119.9 497.5 120.5" fill="none" stroke="rgb(114,114,114)" stroke-width="2.0"/>
<path d="M388.9 124.0 C389.3 123.0 390.2 120.2 390.8 118.3 C391.4 116.5 391.9 114.6 392.6 112.7 C393.3 110.9 393.9 109.0 394.8 107.3 C395.7 105.5 396.7 103.8 398.0 102.3 C399.2 100.8 400.7 99.5 402.3 98.3 C403.8 97.2 405.6 96.2 407.4 95.5 C409.2 94.7 411.1 94.0 413.0 93.6 C414.9 93.1 416.9 92.8 418.8 92.5 C420.8 92.3 422.7 92.3 424.7 92.3 C426.7 92.3 428.6 92.4 430.6 92.6 C432.5 92.8 434.5 93.0 436.4 93.3 C438.4 93.6 440.3 94.0 442.2 94.5 C444.1 95.0 446.0 95.5 447.9 96.1 C449.8 96.7 451.6 97.4 453.4 98.1 C455.3 98.8 457.1 99.5 458.9 100.3 C460.7 101.1 462.5 102.0 464.2 102.8 C466.0 103.7 467.7 104.6 469.5 105.5 C471.2 106.4 472.9 107.3 474.7 108.3 C476.4 109.3 478.1 110.2 479.8 111.2 C481.5 112.2 483.2 113.2 484.8 114.2 C486.5 115.3 488.2 116.3 489.9 117.3 C491.6 118.3 493.2 119.4 494.9 120.4 C496.6 121.4 499.1 122.9 499.9 123.4" fill="none" stroke="rgb(50,50,50)" stroke-width="2.3" opacity="0.55"/>
<path d="M386.8 121.8 C387.1 120.8 388.0 118.0 388.6 116.1 C389.2 114.3 389.7 112.4 390.4 110.5 C391.1 108.7 391.7 106.8 392.6 105.1 C393.5 103.3 394.5 101.6 395.8 100.1 C397.0 98.6 398.5 97.3 400.1 96.1 C401.6 95.0 403.4 94.0 405.2 93.3 C407.0 92.5 408.9 91.8 410.8 91.4 C412.7 90.9 414.7 90.6 416.6 90.3 C418.6 90.1 420.5 90.1 422.5 90.1 C424.5 90.1 426.4 90.2 428.4 90.4 C430.3 90.6 432.3 90.8 434.2 91.1 C436.2 91.4 438.1 91.8 440.0 92.3 C441.9 92.8 443.8 93.3 445.7 93.9 C447.6 94.5 449.4 95.2 451.2 95.9 C453.1 96.6 454.9 97.3 456.7 98.1 C458.5 98.9 460.3 99.8 462.0 100.6 C463.8 101.5 465.5 102.4 467.3 103.3 C469.0 104.2 470.7 105.1 472.5 106.1 C474.2 107.1 475.9 108.0 477.6 109.0 C479.3 110.0 481.0 111.0 482.6 112.0 C484.3 113.1 486.0 114.1 487.7 115.1 C489.4 116.1 491.0 117.2 492.7 118.2 C494.4 119.2 496.9 120.7 497.7 121.2" fill="none" stroke="rgb(117,117,117)" stroke-width="1.9"/>
<path d="M397.2 127.2 C398.1 123.9 399.9 111.9 402.9 107.2 C405.9 102.5 410.6 100.9 415.2 99.2 C419.8 97.5 424.8 96.9 430.5 96.9 C436.2 96.9 442.2 97.3 449.2 99.2 C456.1 101.1 463.7 104.0 472.2 108.2 C480.7 112.4 495.5 121.5 500.2 124.2" fill="none" stroke="rgb(40,40,40)" stroke-width="2.9" opacity="0.55"/>
<path d="M395.0 125.0 C395.9 121.7 397.7 109.7 400.7 105.0 C403.7 100.3 408.4 98.7 413.0 97.0 C417.6 95.3 422.6 94.7 428.3 94.7 C434.0 94.7 440.1 95.1 447.0 97.0 C453.9 98.9 461.5 101.8 470.0 106.0 C478.5 110.2 493.3 119.3 498.0 122.0" fill="none" stroke="rgb(148,148,148)" stroke-width="1.7"/>
<path d="M400.2 142.2 C400.6 141.2 401.8 138.1 402.7 136.1 C403.5 134.1 404.4 132.0 405.3 130.0 C406.2 128.1 407.3 126.1 408.3 124.2 C409.4 122.2 410.4 120.3 411.7 118.5 C413.0 116.7 414.4 115.0 416.1 113.6 C417.7 112.2 419.6 111.0 421.6 110.0 C423.5 109.0 425.7 108.4 427.8 107.8 C429.9 107.2 432.0 106.7 434.2 106.3 C436.4 106.0 438.6 105.7 440.8 105.6 C442.9 105.5 445.2 105.5 447.3 105.6 C449.5 105.7 451.7 105.9 453.9 106.2 C456.1 106.6 458.3 107.0 460.4 107.5 C462.5 108.0 464.6 108.6 466.7 109.3 C468.8 109.9 470.9 110.7 472.9 111.6 C474.9 112.4 476.9 113.4 478.9 114.3 C480.9 115.3 482.8 116.3 484.8 117.3 C486.7 118.4 488.6 119.5 490.5 120.6 C492.4 121.7 494.3 122.9 496.1 124.0 C498.0 125.2 499.8 126.4 501.6 127.7 C503.5 128.9 505.2 130.2 507.0 131.5 C508.7 132.9 510.5 134.3 512.1 135.7 C513.8 137.1 515.5 138.5 517.2 139.9 C518.8 141.4 521.4 143.5 522.2 144.2" fill="none" stroke="rgb(35,35,35)" stroke-width="2.1" opacity="0.55"/>
<path d="M398.0 140.0 C398.4 139.0 399.6 135.9 400.5 133.9 C401.3 131.9 402.2 129.8 403.1 127.8 C404.0 125.9 405.1 123.9 406.1 122.0 C407.2 120.0 408.2 118.1 409.5 116.3 C410.8 114.5 412.2 112.8 413.9 111.4 C415.5 110.0 417.4 108.8 419.4 107.8 C421.3 106.8 423.5 106.2 425.6 105.6 C427.7 105.0 429.8 104.5 432.0 104.1 C434.2 103.8 436.4 103.5 438.6 103.4 C440.7 103.3 443.0 103.3 445.1 103.4 C447.3 103.5 449.5 103.7 451.7 104.0 C453.9 104.4 456.1 104.8 458.2 105.3 C460.3 105.8 462.4 106.4 464.5 107.1 C466.6 107.7 468.7 108.5 470.7 109.4 C472.7 110.2 474.7 111.2 476.7 112.1 C478.7 113.1 480.6 114.1 482.6 115.1 C484.5 116.2 486.4 117.3 488.3 118.4 C490.2 119.5 492.1 120.7 493.9 121.8 C495.8 123.0 497.6 124.2 499.4 125.5 C501.3 126.7 503.0 128.0 504.8 129.3 C506.5 130.7 508.3 132.1 509.9 133.5 C511.6 134.9 513.3 136.3 515.0 137.7 C516.6 139.2 519.2 141.3 520.0 142.0" fill="none" stroke="rgb(130,130,130)" stroke-width="1.6"/>
<path d="M406.7 145.9 C407.1 144.9 408.2 141.9 409.0 139.9 C409.8 137.9 410.6 135.8 411.5 133.9 C412.5 131.9 413.5 130.0 414.7 128.2 C415.8 126.3 416.9 124.5 418.3 122.8 C419.7 121.2 421.2 119.6 422.9 118.4 C424.7 117.1 426.6 116.1 428.6 115.3 C430.6 114.5 432.7 113.9 434.8 113.4 C436.9 112.9 439.0 112.5 441.2 112.2 C443.3 111.9 445.5 111.7 447.6 111.6 C449.8 111.6 452.0 111.6 454.2 111.7 C456.3 111.8 458.5 112.1 460.6 112.4 C462.8 112.7 464.9 113.1 467.0 113.6 C469.1 114.1 471.2 114.6 473.3 115.3 C475.4 115.9 477.4 116.7 479.4 117.5 C481.5 118.3 483.4 119.1 485.4 120.1 C487.4 121.0 489.3 121.9 491.2 123.0 C493.2 124.0 495.1 125.0 496.9 126.1 C498.8 127.2 500.7 128.3 502.5 129.4 C504.4 130.6 506.2 131.7 508.0 132.9 C509.8 134.1 511.6 135.4 513.4 136.7 C515.1 137.9 516.8 139.3 518.5 140.6 C520.2 141.9 521.9 143.3 523.6 144.6 C525.3 146.0 527.9 148.0 528.7 148.7" fill="none" stroke="rgb(35,35,35)" stroke-width="2.8" opacity="0.55"/>
<path d="M404.5 143.8 C404.9 142.7 406.0 139.7 406.8 137.7 C407.6 135.7 408.4 133.6 409.3 131.7 C410.3 129.7 411.3 127.8 412.5 126.0 C413.6 124.1 414.7 122.3 416.1 120.6 C417.5 119.0 419.0 117.4 420.7 116.2 C422.5 114.9 424.4 113.9 426.4 113.1 C428.4 112.3 430.5 111.7 432.6 111.2 C434.7 110.7 436.8 110.3 439.0 110.0 C441.1 109.7 443.3 109.5 445.4 109.4 C447.6 109.4 449.8 109.4 452.0 109.5 C454.1 109.6 456.3 109.9 458.4 110.2 C460.6 110.5 462.7 110.9 464.8 111.4 C466.9 111.9 469.0 112.4 471.1 113.1 C473.2 113.7 475.2 114.5 477.2 115.3 C479.3 116.1 481.2 116.9 483.2 117.9 C485.2 118.8 487.1 119.7 489.0 120.8 C491.0 121.8 492.9 122.8 494.7 123.9 C496.6 125.0 498.5 126.1 500.3 127.2 C502.2 128.4 504.0 129.5 505.8 130.7 C507.6 131.9 509.4 133.2 511.2 134.5 C512.9 135.7 514.6 137.1 516.3 138.4 C518.0 139.7 519.7 141.1 521.4 142.4 C523.1 143.8 525.7 145.8 526.5 146.5" fill="none" stroke="rgb(114,114,114)" stroke-width="1.4"/>
<path d="M413.2 149.7 C413.6 148.7 414.6 145.7 415.4 143.7 C416.1 141.7 416.8 139.6 417.8 137.7 C418.7 135.8 419.8 133.9 421.0 132.2 C422.2 130.4 423.5 128.7 424.9 127.2 C426.4 125.7 428.0 124.3 429.8 123.2 C431.6 122.1 433.6 121.3 435.6 120.6 C437.6 119.9 439.7 119.5 441.8 119.0 C443.9 118.6 446.0 118.3 448.1 118.1 C450.3 117.8 452.4 117.7 454.5 117.7 C456.7 117.7 458.8 117.7 461.0 117.9 C463.1 118.0 465.2 118.2 467.3 118.5 C469.5 118.8 471.6 119.2 473.7 119.7 C475.8 120.1 477.8 120.7 479.9 121.3 C481.9 121.9 484.0 122.6 486.0 123.4 C488.0 124.1 489.9 124.9 491.9 125.8 C493.9 126.7 495.8 127.6 497.7 128.6 C499.6 129.5 501.5 130.5 503.4 131.6 C505.2 132.6 507.1 133.7 508.9 134.8 C510.8 135.9 512.6 137.0 514.4 138.2 C516.2 139.4 518.0 140.6 519.7 141.8 C521.5 143.0 523.2 144.3 524.9 145.5 C526.6 146.8 528.3 148.1 530.1 149.4 C531.8 150.6 534.3 152.6 535.2 153.2" fill="none" stroke="rgb(44,44,44)" stroke-width="2.6" opacity="0.55"/>
<path d="M411.0 147.5 C411.4 146.5 412.4 143.5 413.2 141.5 C413.9 139.5 414.6 137.4 415.6 135.5 C416.5 133.6 417.6 131.7 418.8 130.0 C420.0 128.2 421.3 126.5 422.7 125.0 C424.2 123.5 425.8 122.1 427.6 121.0 C429.4 119.9 431.4 119.1 433.4 118.4 C435.4 117.7 437.5 117.3 439.6 116.8 C441.7 116.4 443.8 116.1 445.9 115.9 C448.1 115.6 450.2 115.5 452.3 115.5 C454.5 115.5 456.6 115.5 458.8 115.7 C460.9 115.8 463.0 116.0 465.1 116.3 C467.3 116.6 469.4 117.0 471.5 117.5 C473.6 117.9 475.6 118.5 477.7 119.1 C479.7 119.7 481.8 120.4 483.8 121.2 C485.8 121.9 487.7 122.7 489.7 123.6 C491.7 124.5 493.6 125.4 495.5 126.4 C497.4 127.3 499.3 128.3 501.2 129.4 C503.0 130.4 504.9 131.5 506.7 132.6 C508.6 133.7 510.4 134.8 512.2 136.0 C514.0 137.2 515.8 138.4 517.5 139.6 C519.3 140.8 521.0 142.1 522.7 143.3 C524.4 144.6 526.1 145.9 527.9 147.2 C529.6 148.4 532.1 150.4 533.0 151.0" fill="none" stroke="rgb(209,209,209)" stroke-width="2.7"/>
<path d="M419.7 153.4 C420.0 152.4 421.0 149.4 421.7 147.4 C422.4 145.5 423.1 143.4 424.0 141.5 C425.0 139.7 426.1 137.8 427.3 136.2 C428.6 134.5 430.0 132.9 431.6 131.5 C433.1 130.2 434.9 128.9 436.7 128.0 C438.6 127.0 440.6 126.4 442.6 125.9 C444.6 125.3 446.7 125.0 448.8 124.7 C450.9 124.3 453.0 124.1 455.1 123.9 C457.2 123.8 459.3 123.7 461.4 123.7 C463.5 123.8 465.7 123.9 467.8 124.0 C469.9 124.2 472.0 124.4 474.1 124.7 C476.2 125.0 478.2 125.3 480.3 125.8 C482.4 126.2 484.4 126.7 486.5 127.3 C488.5 127.9 490.5 128.5 492.5 129.2 C494.5 129.9 496.5 130.7 498.4 131.5 C500.3 132.4 502.3 133.2 504.2 134.2 C506.1 135.1 507.9 136.1 509.8 137.1 C511.7 138.1 513.5 139.1 515.3 140.2 C517.2 141.2 519.0 142.3 520.8 143.4 C522.5 144.6 524.3 145.7 526.1 146.9 C527.8 148.1 529.6 149.3 531.3 150.5 C533.0 151.7 534.8 152.9 536.5 154.1 C538.2 155.3 540.8 157.1 541.7 157.7" fill="none" stroke="rgb(44,44,44)" stroke-width="2.1" opacity="0.55"/>
<path d="M417.5 151.2 C417.8 150.2 418.8 147.2 419.5 145.2 C420.2 143.3 420.9 141.2 421.8 139.3 C422.8 137.5 423.9 135.6 425.1 134.0 C426.4 132.3 427.8 130.7 429.4 129.3 C430.9 128.0 432.7 126.7 434.5 125.8 C436.4 124.8 438.4 124.2 440.4 123.7 C442.4 123.1 444.5 122.8 446.6 122.5 C448.7 122.1 450.8 121.9 452.9 121.7 C455.0 121.6 457.1 121.5 459.2 121.5 C461.3 121.6 463.5 121.7 465.6 121.8 C467.7 122.0 469.8 122.2 471.9 122.5 C474.0 122.8 476.0 123.1 478.1 123.6 C480.2 124.0 482.2 124.5 484.3 125.1 C486.3 125.7 488.3 126.3 490.3 127.0 C492.3 127.7 494.3 128.5 496.2 129.3 C498.1 130.2 500.1 131.0 502.0 132.0 C503.9 132.9 505.7 133.9 507.6 134.9 C509.5 135.9 511.3 136.9 513.1 138.0 C515.0 139.0 516.8 140.1 518.6 141.2 C520.3 142.4 522.1 143.5 523.9 144.7 C525.6 145.9 527.4 147.1 529.1 148.3 C530.8 149.5 532.6 150.7 534.3 151.9 C536.0 153.1 538.6 154.9 539.5 155.5" fill="none" stroke="rgb(175,175,175)" stroke-width="2.4"/>
<path d="M426.2 157.2 C426.5 156.2 427.4 153.2 428.0 151.2 C428.7 149.3 429.3 147.2 430.3 145.4 C431.2 143.5 432.3 141.7 433.7 140.2 C435.0 138.6 436.5 137.1 438.2 135.9 C439.9 134.6 441.7 133.5 443.6 132.7 C445.5 132.0 447.6 131.6 449.6 131.2 C451.7 130.8 453.8 130.5 455.8 130.3 C457.9 130.1 460.0 129.9 462.1 129.8 C464.2 129.7 466.2 129.7 468.3 129.8 C470.4 129.9 472.5 130.0 474.6 130.2 C476.6 130.3 478.7 130.5 480.8 130.8 C482.9 131.1 484.9 131.4 487.0 131.9 C489.0 132.3 491.0 132.8 493.0 133.3 C495.1 133.8 497.1 134.4 499.0 135.1 C501.0 135.8 503.0 136.5 504.9 137.3 C506.8 138.1 508.7 138.9 510.6 139.8 C512.5 140.7 514.4 141.6 516.2 142.5 C518.1 143.5 519.9 144.5 521.7 145.5 C523.5 146.6 525.3 147.6 527.1 148.7 C528.9 149.8 530.7 150.9 532.4 152.0 C534.2 153.1 535.9 154.3 537.7 155.4 C539.4 156.5 541.2 157.7 542.9 158.8 C544.7 159.9 547.3 161.6 548.2 162.2" fill="none" stroke="rgb(48,48,48)" stroke-width="3.2" opacity="0.55"/>
<path d="M424.0 155.0 C424.3 154.0 425.2 151.0 425.8 149.0 C426.5 147.1 427.1 145.0 428.1 143.2 C429.0 141.3 430.1 139.5 431.5 138.0 C432.8 136.4 434.3 134.9 436.0 133.7 C437.7 132.4 439.5 131.3 441.4 130.5 C443.3 129.8 445.4 129.4 447.4 129.0 C449.5 128.6 451.6 128.3 453.6 128.1 C455.7 127.9 457.8 127.7 459.9 127.6 C462.0 127.5 464.0 127.5 466.1 127.6 C468.2 127.7 470.3 127.8 472.4 128.0 C474.4 128.1 476.5 128.3 478.6 128.6 C480.7 128.9 482.7 129.2 484.8 129.7 C486.8 130.1 488.8 130.6 490.8 131.1 C492.9 131.6 494.9 132.2 496.8 132.9 C498.8 133.6 500.8 134.3 502.7 135.1 C504.6 135.9 506.5 136.7 508.4 137.6 C510.3 138.5 512.2 139.4 514.0 140.3 C515.9 141.3 517.7 142.3 519.5 143.3 C521.3 144.4 523.1 145.4 524.9 146.5 C526.7 147.6 528.5 148.7 530.2 149.8 C532.0 150.9 533.7 152.1 535.5 153.2 C537.2 154.3 539.0 155.5 540.7 156.6 C542.5 157.7 545.1 159.4 546.0 160.0" fill="none" stroke="rgb(143,143,143)" stroke-width="2.4"/>
<path d="M429.4 176.2 C429.7 175.2 430.4 172.0 431.0 169.9 C431.6 167.9 432.1 165.7 432.9 163.8 C433.7 161.8 434.7 159.9 435.8 158.1 C436.9 156.3 438.2 154.7 439.6 153.2 C441.0 151.7 442.5 150.4 444.2 149.2 C445.8 148.1 447.6 147.3 449.3 146.5 C451.1 145.7 452.9 145.1 454.7 144.4 C456.5 143.7 458.3 143.1 460.2 142.6 C462.0 142.1 463.9 141.6 465.8 141.2 C467.7 140.9 469.6 140.5 471.6 140.3 C473.5 140.0 475.5 139.8 477.5 139.6 C479.5 139.5 481.5 139.4 483.5 139.5 C485.6 139.5 487.6 139.7 489.7 139.9 C491.8 140.1 493.8 140.4 495.9 140.8 C497.9 141.2 500.0 141.7 502.0 142.3 C504.1 142.8 506.1 143.5 508.1 144.2 C510.1 144.8 512.1 145.6 514.1 146.4 C516.1 147.2 518.0 148.1 520.0 149.0 C521.9 149.9 523.8 150.8 525.7 151.8 C527.7 152.8 529.5 153.8 531.4 154.8 C533.3 155.9 535.2 156.9 537.0 158.0 C538.9 159.1 540.8 160.2 542.6 161.3 C544.5 162.4 547.3 164.0 548.2 164.6" fill="none" stroke="rgb(46,46,46)" stroke-width="3.2" opacity="0.55"/>
<path d="M427.2 174.0 C427.5 173.0 428.2 169.8 428.8 167.7 C429.4 165.7 429.9 163.5 430.7 161.6 C431.5 159.6 432.5 157.7 433.6 155.9 C434.7 154.1 436.0 152.5 437.4 151.0 C438.8 149.5 440.3 148.2 442.0 147.0 C443.6 145.9 445.4 145.1 447.1 144.3 C448.9 143.5 450.7 142.9 452.5 142.2 C454.3 141.5 456.1 140.9 458.0 140.4 C459.8 139.9 461.7 139.4 463.6 139.0 C465.5 138.7 467.4 138.3 469.4 138.1 C471.3 137.8 473.3 137.6 475.3 137.4 C477.3 137.3 479.3 137.2 481.3 137.3 C483.4 137.3 485.4 137.5 487.5 137.7 C489.6 137.9 491.6 138.2 493.7 138.6 C495.7 139.0 497.8 139.5 499.8 140.1 C501.9 140.6 503.9 141.3 505.9 142.0 C507.9 142.6 509.9 143.4 511.9 144.2 C513.9 145.0 515.8 145.9 517.8 146.8 C519.7 147.7 521.6 148.6 523.5 149.6 C525.5 150.6 527.3 151.6 529.2 152.6 C531.1 153.7 533.0 154.7 534.8 155.8 C536.7 156.9 538.6 158.0 540.4 159.1 C542.3 160.2 545.1 161.8 546.0 162.4" fill="none" stroke="rgb(122,122,122)" stroke-width="1.8"/>
<path d="M432.6 195.2 C432.8 194.1 433.5 190.8 434.0 188.6 C434.4 186.5 434.9 184.3 435.5 182.2 C436.2 180.1 437.0 178.0 437.9 176.1 C438.8 174.1 439.8 172.3 441.0 170.5 C442.1 168.8 443.4 167.2 444.7 165.7 C446.1 164.3 447.6 163.1 449.0 161.9 C450.5 160.7 452.0 159.6 453.6 158.5 C455.1 157.4 456.7 156.4 458.3 155.4 C459.9 154.4 461.6 153.5 463.3 152.7 C465.0 151.9 466.8 151.1 468.6 150.4 C470.4 149.7 472.3 149.0 474.2 148.4 C476.1 147.9 478.1 147.4 480.1 147.1 C482.1 146.8 484.3 146.6 486.4 146.5 C488.5 146.4 490.6 146.4 492.8 146.6 C494.9 146.7 497.1 147.0 499.2 147.3 C501.3 147.6 503.5 148.0 505.6 148.5 C507.7 149.0 509.8 149.6 511.9 150.3 C514.0 150.9 516.1 151.7 518.2 152.4 C520.3 153.2 522.3 154.1 524.4 154.9 C526.4 155.8 528.4 156.7 530.4 157.6 C532.4 158.6 534.4 159.6 536.4 160.6 C538.4 161.6 540.3 162.7 542.3 163.8 C544.3 164.9 547.2 166.5 548.2 167.0" fill="none" stroke="rgb(54,54,54)" stroke-width="2.2" opacity="0.55"/>
<path d="M430.4 193.0 C430.6 191.9 431.3 188.6 431.8 186.4 C432.2 184.3 432.7 182.1 433.3 180.0 C434.0 177.9 434.8 175.8 435.7 173.9 C436.6 171.9 437.6 170.1 438.8 168.3 C439.9 166.6 441.2 165.0 442.5 163.5 C443.9 162.1 445.4 160.9 446.8 159.7 C448.3 158.5 449.8 157.4 451.4 156.3 C452.9 155.2 454.5 154.2 456.1 153.2 C457.7 152.2 459.4 151.3 461.1 150.5 C462.8 149.7 464.6 148.9 466.4 148.2 C468.2 147.5 470.1 146.8 472.0 146.2 C473.9 145.7 475.9 145.2 477.9 144.9 C479.9 144.6 482.1 144.4 484.2 144.3 C486.3 144.2 488.4 144.2 490.6 144.4 C492.7 144.5 494.9 144.8 497.0 145.1 C499.1 145.4 501.3 145.8 503.4 146.3 C505.5 146.8 507.6 147.4 509.7 148.1 C511.8 148.7 513.9 149.5 516.0 150.2 C518.1 151.0 520.1 151.9 522.2 152.7 C524.2 153.6 526.2 154.5 528.2 155.4 C530.2 156.4 532.2 157.4 534.2 158.4 C536.2 159.4 538.1 160.5 540.1 161.6 C542.1 162.7 545.0 164.3 546.0 164.8" fill="none" stroke="rgb(178,178,178)" stroke-width="1.9"/>
<path d="M435.8 214.2 C436.0 213.1 436.5 209.6 436.9 207.4 C437.3 205.1 437.7 202.8 438.2 200.6 C438.7 198.3 439.3 196.1 440.0 194.0 C440.7 191.9 441.5 189.8 442.4 187.9 C443.3 185.9 444.2 184.0 445.3 182.2 C446.4 180.5 447.5 178.9 448.7 177.2 C449.9 175.6 451.1 174.1 452.4 172.6 C453.7 171.1 455.0 169.6 456.4 168.2 C457.8 166.8 459.3 165.4 460.8 164.1 C462.3 162.8 463.9 161.6 465.6 160.5 C467.3 159.3 469.0 158.2 470.9 157.2 C472.7 156.3 474.7 155.4 476.7 154.7 C478.7 154.0 480.9 153.5 483.0 153.1 C485.2 152.7 487.4 152.5 489.6 152.3 C491.8 152.2 494.1 152.2 496.3 152.3 C498.6 152.4 500.8 152.6 503.1 152.9 C505.3 153.2 507.6 153.6 509.8 154.1 C512.0 154.6 514.2 155.3 516.4 155.9 C518.6 156.6 520.8 157.3 523.0 158.0 C525.1 158.8 527.3 159.6 529.4 160.4 C531.5 161.3 533.7 162.2 535.8 163.2 C537.9 164.2 539.9 165.3 542.0 166.3 C544.1 167.3 547.2 168.9 548.2 169.4" fill="none" stroke="rgb(44,44,44)" stroke-width="2.0" opacity="0.55"/>
<path d="M433.6 212.0 C433.8 210.9 434.3 207.4 434.7 205.2 C435.1 202.9 435.5 200.6 436.0 198.4 C436.5 196.1 437.1 193.9 437.8 191.8 C438.5 189.7 439.3 187.6 440.2 185.7 C441.1 183.7 442.0 181.8 443.1 180.0 C444.2 178.3 445.3 176.7 446.5 175.0 C447.7 173.4 448.9 171.9 450.2 170.4 C451.5 168.9 452.8 167.4 454.2 166.0 C455.6 164.6 457.1 163.2 458.6 161.9 C460.1 160.6 461.7 159.4 463.4 158.3 C465.1 157.1 466.8 156.0 468.7 155.0 C470.5 154.1 472.5 153.2 474.5 152.5 C476.5 151.8 478.7 151.3 480.8 150.9 C483.0 150.5 485.2 150.3 487.4 150.1 C489.6 150.0 491.9 150.0 494.1 150.1 C496.4 150.2 498.6 150.4 500.9 150.7 C503.1 151.0 505.4 151.4 507.6 151.9 C509.8 152.4 512.0 153.1 514.2 153.7 C516.4 154.4 518.6 155.1 520.8 155.8 C522.9 156.6 525.1 157.4 527.2 158.2 C529.3 159.1 531.5 160.0 533.6 161.0 C535.7 162.0 537.7 163.1 539.8 164.1 C541.9 165.1 545.0 166.7 546.0 167.2" fill="none" stroke="rgb(119,119,119)" stroke-width="1.9"/>
<path d="M439.0 233.2 C439.1 232.0 439.6 228.4 439.9 226.1 C440.2 223.7 440.5 221.3 440.8 219.0 C441.2 216.6 441.6 214.3 442.1 212.0 C442.6 209.7 443.1 207.4 443.8 205.2 C444.4 203.0 445.1 200.8 445.9 198.7 C446.7 196.6 447.5 194.6 448.4 192.6 C449.3 190.6 450.2 188.6 451.3 186.7 C452.3 184.8 453.4 182.8 454.5 181.0 C455.7 179.1 456.9 177.3 458.3 175.6 C459.6 173.8 461.1 172.2 462.6 170.6 C464.2 169.0 465.8 167.4 467.6 166.0 C469.3 164.7 471.3 163.4 473.3 162.3 C475.3 161.3 477.5 160.4 479.7 159.7 C481.9 159.0 484.2 158.5 486.5 158.1 C488.8 157.7 491.1 157.4 493.5 157.3 C495.8 157.2 498.2 157.2 500.6 157.3 C502.9 157.4 505.3 157.7 507.6 158.0 C510.0 158.3 512.3 158.8 514.6 159.4 C517.0 159.9 519.3 160.5 521.6 161.1 C523.9 161.8 526.2 162.5 528.4 163.3 C530.7 164.0 532.9 164.9 535.1 165.8 C537.3 166.7 539.5 167.8 541.7 168.8 C543.9 169.8 547.1 171.3 548.2 171.8" fill="none" stroke="rgb(47,47,47)" stroke-width="3.3" opacity="0.55"/>
<path d="M436.8 231.0 C436.9 229.8 437.4 226.2 437.7 223.9 C438.0 221.5 438.3 219.1 438.6 216.8 C439.0 214.4 439.4 212.1 439.9 209.8 C440.4 207.5 440.9 205.2 441.6 203.0 C442.2 200.8 442.9 198.6 443.7 196.5 C444.5 194.4 445.3 192.4 446.2 190.4 C447.1 188.4 448.0 186.4 449.1 184.5 C450.1 182.6 451.2 180.6 452.3 178.8 C453.5 176.9 454.7 175.1 456.1 173.4 C457.4 171.6 458.9 170.0 460.4 168.4 C462.0 166.8 463.6 165.2 465.4 163.8 C467.1 162.5 469.1 161.2 471.1 160.1 C473.1 159.1 475.3 158.2 477.5 157.5 C479.7 156.8 482.0 156.3 484.3 155.9 C486.6 155.5 488.9 155.2 491.3 155.1 C493.6 155.0 496.0 155.0 498.4 155.1 C500.7 155.2 503.1 155.5 505.4 155.8 C507.8 156.1 510.1 156.6 512.4 157.2 C514.8 157.7 517.1 158.3 519.4 158.9 C521.7 159.6 524.0 160.3 526.2 161.1 C528.5 161.8 530.7 162.7 532.9 163.6 C535.1 164.5 537.3 165.6 539.5 166.6 C541.7 167.6 544.9 169.1 546.0 169.6" fill="none" stroke="rgb(201,201,201)" stroke-width="2.7"/>
<path d="M442.2 252.2 C442.7 246.4 443.2 228.0 445.2 217.2 C447.2 206.4 450.0 195.5 454.2 187.2 C458.4 178.9 463.0 171.7 470.2 167.2 C477.4 162.7 487.7 160.5 497.2 160.2 C506.7 159.9 518.7 162.9 527.2 165.2 C535.7 167.5 544.7 172.7 548.2 174.2" fill="none" stroke="rgb(33,33,33)" stroke-width="2.6" opacity="0.41"/>
<path d="M440.0 250.0 C440.5 244.2 441.0 225.8 443.0 215.0 C445.0 204.2 447.8 193.3 452.0 185.0 C456.2 176.7 460.8 169.5 468.0 165.0 C475.2 160.5 485.5 158.3 495.0 158.0 C504.5 157.7 516.5 160.7 525.0 163.0 C533.5 165.3 542.5 170.5 546.0 172.0" fill="none" stroke="rgb(186,186,186)" stroke-width="3.2"/>
<path d="M444.2 252.2 C444.4 251.0 444.8 247.5 445.2 245.2 C445.5 242.8 445.8 240.5 446.1 238.2 C446.4 235.8 446.7 233.5 447.1 231.1 C447.5 228.8 447.9 226.5 448.3 224.2 C448.8 221.8 449.3 219.5 449.8 217.2 C450.4 214.9 451.0 212.6 451.6 210.4 C452.3 208.1 453.0 205.8 453.8 203.6 C454.6 201.4 455.4 199.1 456.4 197.0 C457.3 194.8 458.4 192.7 459.5 190.6 C460.7 188.5 461.9 186.5 463.3 184.6 C464.6 182.6 466.1 180.7 467.7 179.0 C469.3 177.3 471.1 175.7 473.1 174.4 C475.0 173.1 477.1 172.0 479.3 171.1 C481.5 170.2 483.8 169.6 486.1 169.1 C488.4 168.5 490.8 168.3 493.1 168.1 C495.4 167.8 497.8 167.8 500.2 167.8 C502.5 167.8 504.9 168.0 507.3 168.2 C509.6 168.4 512.0 168.8 514.3 169.2 C516.6 169.6 519.0 170.1 521.3 170.6 C523.6 171.2 525.9 171.7 528.1 172.4 C530.4 173.0 532.7 173.8 534.9 174.5 C537.2 175.3 539.4 176.2 541.6 177.0 C543.8 177.8 547.1 179.1 548.2 179.5" fill="none" stroke="rgb(54,54,54)" stroke-width="2.8" opacity="0.41"/>
<path d="M442.0 250.0 C442.2 248.8 442.6 245.3 443.0 243.0 C443.3 240.6 443.6 238.3 443.9 236.0 C444.2 233.6 444.5 231.3 444.9 228.9 C445.3 226.6 445.7 224.3 446.1 222.0 C446.6 219.6 447.1 217.3 447.6 215.0 C448.2 212.7 448.8 210.4 449.4 208.2 C450.1 205.9 450.8 203.6 451.6 201.4 C452.4 199.2 453.2 196.9 454.2 194.8 C455.1 192.6 456.2 190.5 457.3 188.4 C458.5 186.3 459.7 184.3 461.1 182.4 C462.4 180.4 463.9 178.5 465.5 176.8 C467.1 175.1 468.9 173.5 470.9 172.2 C472.8 170.9 474.9 169.8 477.1 168.9 C479.3 168.0 481.6 167.4 483.9 166.9 C486.2 166.3 488.6 166.1 490.9 165.9 C493.2 165.6 495.6 165.6 498.0 165.6 C500.3 165.6 502.7 165.8 505.1 166.0 C507.4 166.2 509.8 166.6 512.1 167.0 C514.4 167.4 516.8 167.9 519.1 168.4 C521.4 169.0 523.7 169.5 525.9 170.2 C528.2 170.8 530.5 171.6 532.7 172.3 C535.0 173.1 537.2 174.0 539.4 174.8 C541.6 175.6 544.9 176.9 546.0 177.3" fill="none" stroke="rgb(156,156,156)" stroke-width="1.8"/>
<path d="M446.2 252.2 C446.4 251.1 447.1 247.8 447.5 245.6 C447.9 243.4 448.3 241.2 448.8 239.0 C449.2 236.7 449.6 234.5 450.1 232.3 C450.5 230.1 451.0 227.9 451.5 225.7 C452.1 223.6 452.6 221.4 453.2 219.2 C453.8 217.0 454.5 214.9 455.2 212.7 C455.9 210.6 456.6 208.5 457.5 206.4 C458.3 204.3 459.2 202.2 460.1 200.2 C461.1 198.1 462.1 196.1 463.3 194.2 C464.4 192.2 465.6 190.3 466.9 188.5 C468.2 186.7 469.6 184.8 471.2 183.2 C472.7 181.6 474.4 180.1 476.3 178.8 C478.1 177.6 480.2 176.6 482.3 175.9 C484.4 175.1 486.7 174.7 488.9 174.3 C491.1 174.0 493.3 173.9 495.6 173.8 C497.8 173.7 500.1 173.8 502.3 173.9 C504.6 174.1 506.8 174.3 509.0 174.6 C511.3 174.8 513.5 175.2 515.7 175.6 C517.9 176.0 520.1 176.5 522.3 177.0 C524.5 177.5 526.7 178.1 528.9 178.7 C531.1 179.3 533.2 180.0 535.4 180.6 C537.5 181.3 539.7 182.0 541.8 182.7 C543.9 183.4 547.1 184.5 548.2 184.9" fill="none" stroke="rgb(42,42,42)" stroke-width="3.4" opacity="0.41"/>
<path d="M444.0 250.0 C444.2 248.9 444.9 245.6 445.3 243.4 C445.7 241.2 446.1 239.0 446.6 236.8 C447.0 234.5 447.4 232.3 447.9 230.1 C448.3 227.9 448.8 225.7 449.3 223.5 C449.9 221.4 450.4 219.2 451.0 217.0 C451.6 214.8 452.3 212.7 453.0 210.5 C453.7 208.4 454.4 206.3 455.3 204.2 C456.1 202.1 457.0 200.0 457.9 198.0 C458.9 195.9 459.9 193.9 461.1 192.0 C462.2 190.0 463.4 188.1 464.7 186.3 C466.0 184.5 467.4 182.6 469.0 181.0 C470.5 179.4 472.2 177.9 474.1 176.6 C475.9 175.4 478.0 174.4 480.1 173.7 C482.2 172.9 484.5 172.5 486.7 172.1 C488.9 171.8 491.1 171.7 493.4 171.6 C495.6 171.5 497.9 171.6 500.1 171.7 C502.4 171.9 504.6 172.1 506.8 172.4 C509.1 172.6 511.3 173.0 513.5 173.4 C515.7 173.8 517.9 174.3 520.1 174.8 C522.3 175.3 524.5 175.9 526.7 176.5 C528.9 177.1 531.0 177.8 533.2 178.4 C535.3 179.1 537.5 179.8 539.6 180.5 C541.7 181.2 544.9 182.3 546.0 182.7" fill="none" stroke="rgb(146,146,146)" stroke-width="1.7"/>
<path d="M448.2 252.2 C448.5 251.2 449.3 248.1 449.8 246.0 C450.3 243.9 450.9 241.8 451.4 239.8 C451.9 237.7 452.4 235.6 453.0 233.5 C453.6 231.5 454.1 229.4 454.7 227.3 C455.3 225.3 455.9 223.2 456.6 221.2 C457.3 219.2 458.0 217.1 458.7 215.1 C459.5 213.1 460.3 211.1 461.1 209.2 C462.0 207.2 462.9 205.3 463.9 203.4 C464.8 201.5 465.9 199.6 467.0 197.8 C468.1 195.9 469.3 194.1 470.6 192.4 C471.8 190.7 473.1 189.0 474.6 187.4 C476.1 185.9 477.7 184.4 479.5 183.3 C481.2 182.1 483.3 181.3 485.3 180.7 C487.3 180.1 489.5 179.8 491.6 179.6 C493.7 179.4 495.9 179.4 498.0 179.5 C500.2 179.6 502.3 179.8 504.4 180.0 C506.6 180.3 508.7 180.6 510.8 180.9 C512.9 181.2 515.0 181.6 517.1 182.0 C519.2 182.5 521.3 182.9 523.4 183.4 C525.5 183.9 527.6 184.5 529.6 185.0 C531.7 185.6 533.8 186.2 535.8 186.8 C537.9 187.3 539.9 187.9 542.0 188.5 C544.1 189.1 547.2 189.9 548.2 190.2" fill="none" stroke="rgb(45,45,45)" stroke-width="2.0" opacity="0.39"/>
<path d="M446.0 250.0 C446.3 249.0 447.1 245.9 447.6 243.8 C448.1 241.7 448.7 239.6 449.2 237.6 C449.7 235.5 450.2 233.4 450.8 231.3 C451.4 229.3 451.9 227.2 452.5 225.1 C453.1 223.1 453.7 221.0 454.4 219.0 C455.1 217.0 455.8 214.9 456.5 212.9 C457.3 210.9 458.1 208.9 458.9 207.0 C459.8 205.0 460.7 203.1 461.7 201.2 C462.6 199.3 463.7 197.4 464.8 195.6 C465.9 193.7 467.1 191.9 468.4 190.2 C469.6 188.5 470.9 186.8 472.4 185.2 C473.9 183.7 475.5 182.2 477.3 181.1 C479.0 179.9 481.1 179.1 483.1 178.5 C485.1 177.9 487.3 177.6 489.4 177.4 C491.5 177.2 493.7 177.2 495.8 177.3 C498.0 177.4 500.1 177.6 502.2 177.8 C504.4 178.1 506.5 178.4 508.6 178.7 C510.7 179.0 512.8 179.4 514.9 179.8 C517.0 180.3 519.1 180.7 521.2 181.2 C523.3 181.7 525.4 182.3 527.4 182.8 C529.5 183.4 531.6 184.0 533.6 184.6 C535.7 185.1 537.7 185.7 539.8 186.3 C541.9 186.9 545.0 187.7 546.0 188.0" fill="none" stroke="rgb(130,130,130)" stroke-width="2.3"/>
<path d="M456.1 252.2 C456.3 251.3 457.1 248.4 457.6 246.5 C458.1 244.6 458.6 242.7 459.1 240.8 C459.6 238.9 460.1 237.0 460.6 235.1 C461.1 233.2 461.6 231.3 462.2 229.5 C462.7 227.6 463.3 225.7 463.9 223.8 C464.6 222.0 465.2 220.1 465.9 218.3 C466.6 216.5 467.4 214.6 468.1 212.9 C468.9 211.1 469.8 209.3 470.7 207.6 C471.6 205.8 472.6 204.1 473.6 202.5 C474.7 200.8 475.8 199.2 476.9 197.6 C478.1 196.0 479.3 194.5 480.7 193.1 C482.1 191.7 483.5 190.3 485.2 189.3 C486.8 188.3 488.7 187.6 490.6 187.0 C492.4 186.5 494.4 186.2 496.4 186.0 C498.3 185.9 500.3 185.9 502.3 186.0 C504.2 186.1 506.2 186.3 508.1 186.5 C510.1 186.7 512.0 187.0 513.9 187.3 C515.9 187.6 517.8 188.0 519.7 188.4 C521.7 188.8 523.6 189.2 525.5 189.7 C527.4 190.1 529.3 190.6 531.2 191.2 C533.1 191.7 535.0 192.2 536.9 192.7 C538.7 193.3 540.6 193.8 542.5 194.3 C544.4 194.8 547.3 195.6 548.2 195.9" fill="none" stroke="rgb(57,57,57)" stroke-width="3.0" opacity="0.39"/>
<path d="M453.9 250.0 C454.1 249.1 454.9 246.2 455.4 244.3 C455.9 242.4 456.4 240.5 456.9 238.6 C457.4 236.7 457.9 234.8 458.4 232.9 C458.9 231.0 459.4 229.1 460.0 227.3 C460.5 225.4 461.1 223.5 461.7 221.6 C462.4 219.8 463.0 217.9 463.7 216.1 C464.4 214.3 465.2 212.4 465.9 210.7 C466.7 208.9 467.6 207.1 468.5 205.4 C469.4 203.6 470.4 201.9 471.4 200.3 C472.5 198.6 473.6 197.0 474.7 195.4 C475.9 193.8 477.1 192.3 478.5 190.9 C479.9 189.5 481.3 188.1 483.0 187.1 C484.6 186.1 486.5 185.4 488.4 184.8 C490.2 184.3 492.2 184.0 494.2 183.8 C496.1 183.7 498.1 183.7 500.1 183.8 C502.0 183.9 504.0 184.1 505.9 184.3 C507.9 184.5 509.8 184.8 511.7 185.1 C513.7 185.4 515.6 185.8 517.5 186.2 C519.5 186.6 521.4 187.0 523.3 187.5 C525.2 187.9 527.1 188.4 529.0 189.0 C530.9 189.5 532.8 190.0 534.7 190.5 C536.5 191.1 538.4 191.6 540.3 192.1 C542.2 192.6 545.1 193.4 546.0 193.7" fill="none" stroke="rgb(147,147,147)" stroke-width="2.1"/>
<path d="M463.9 252.2 C464.2 251.3 464.9 248.8 465.3 247.0 C465.8 245.3 466.3 243.6 466.7 241.9 C467.2 240.2 467.7 238.4 468.1 236.7 C468.6 235.0 469.1 233.3 469.6 231.6 C470.1 229.9 470.7 228.2 471.3 226.5 C471.8 224.8 472.5 223.1 473.1 221.5 C473.8 219.8 474.4 218.2 475.2 216.5 C475.9 214.9 476.7 213.3 477.5 211.7 C478.4 210.2 479.3 208.6 480.3 207.1 C481.2 205.6 482.2 204.2 483.3 202.8 C484.4 201.4 485.5 200.0 486.8 198.7 C488.1 197.5 489.4 196.3 490.9 195.4 C492.4 194.5 494.1 193.9 495.8 193.4 C497.5 192.9 499.3 192.6 501.1 192.5 C502.9 192.3 504.7 192.4 506.5 192.5 C508.2 192.6 510.0 192.8 511.8 193.0 C513.6 193.2 515.3 193.4 517.1 193.7 C518.8 194.0 520.6 194.4 522.3 194.7 C524.1 195.1 525.8 195.5 527.6 195.9 C529.3 196.3 531.0 196.8 532.7 197.3 C534.5 197.7 536.2 198.2 537.9 198.7 C539.6 199.2 541.3 199.7 543.0 200.1 C544.8 200.6 547.3 201.3 548.2 201.6" fill="none" stroke="rgb(53,53,53)" stroke-width="2.8" opacity="0.39"/>
<path d="M461.8 250.0 C462.0 249.1 462.7 246.6 463.1 244.8 C463.6 243.1 464.1 241.4 464.5 239.7 C465.0 238.0 465.5 236.2 465.9 234.5 C466.4 232.8 466.9 231.1 467.4 229.4 C467.9 227.7 468.5 226.0 469.1 224.3 C469.6 222.6 470.3 220.9 470.9 219.3 C471.6 217.6 472.2 216.0 473.0 214.3 C473.7 212.7 474.5 211.1 475.3 209.5 C476.2 208.0 477.1 206.4 478.1 204.9 C479.0 203.4 480.0 202.0 481.1 200.6 C482.2 199.2 483.3 197.8 484.6 196.5 C485.9 195.3 487.2 194.1 488.7 193.2 C490.2 192.3 491.9 191.7 493.6 191.2 C495.3 190.7 497.1 190.4 498.9 190.3 C500.7 190.1 502.5 190.2 504.3 190.3 C506.0 190.4 507.8 190.6 509.6 190.8 C511.4 191.0 513.1 191.2 514.9 191.5 C516.6 191.8 518.4 192.2 520.1 192.5 C521.9 192.9 523.6 193.3 525.4 193.7 C527.1 194.1 528.8 194.6 530.5 195.1 C532.3 195.5 534.0 196.0 535.7 196.5 C537.4 197.0 539.1 197.5 540.8 197.9 C542.6 198.4 545.1 199.1 546.0 199.4" fill="none" stroke="rgb(186,186,186)" stroke-width="2.6"/>
<path d="M471.8 252.2 C472.0 251.4 472.7 249.1 473.1 247.6 C473.6 246.0 474.0 244.5 474.4 242.9 C474.9 241.4 475.3 239.8 475.7 238.3 C476.2 236.8 476.6 235.2 477.1 233.7 C477.6 232.2 478.1 230.6 478.6 229.1 C479.1 227.6 479.7 226.1 480.3 224.6 C480.9 223.1 481.5 221.7 482.2 220.2 C482.9 218.8 483.6 217.3 484.4 215.9 C485.2 214.5 486.0 213.2 486.9 211.8 C487.8 210.5 488.7 209.2 489.7 208.0 C490.7 206.7 491.7 205.5 492.9 204.4 C494.1 203.3 495.3 202.3 496.7 201.5 C498.0 200.7 499.6 200.1 501.1 199.7 C502.6 199.3 504.3 199.1 505.8 199.0 C507.4 198.8 509.1 198.9 510.7 199.0 C512.3 199.1 513.9 199.2 515.5 199.4 C517.0 199.6 518.6 199.8 520.2 200.1 C521.8 200.4 523.4 200.7 524.9 201.1 C526.5 201.4 528.1 201.7 529.6 202.1 C531.2 202.5 532.7 202.9 534.3 203.4 C535.8 203.8 537.4 204.2 538.9 204.7 C540.5 205.1 542.0 205.5 543.6 206.0 C545.1 206.4 547.4 207.0 548.2 207.3" fill="none" stroke="rgb(44,44,44)" stroke-width="1.9" opacity="0.39"/>
<path d="M469.6 250.0 C469.8 249.2 470.5 246.9 470.9 245.4 C471.4 243.8 471.8 242.3 472.2 240.7 C472.7 239.2 473.1 237.6 473.5 236.1 C474.0 234.6 474.4 233.0 474.9 231.5 C475.4 230.0 475.9 228.4 476.4 226.9 C476.9 225.4 477.5 223.9 478.1 222.4 C478.7 220.9 479.3 219.5 480.0 218.0 C480.7 216.6 481.4 215.1 482.2 213.7 C483.0 212.3 483.8 211.0 484.7 209.6 C485.6 208.3 486.5 207.0 487.5 205.8 C488.5 204.5 489.5 203.3 490.7 202.2 C491.9 201.1 493.1 200.1 494.5 199.3 C495.8 198.5 497.4 197.9 498.9 197.5 C500.4 197.1 502.1 196.9 503.6 196.8 C505.2 196.6 506.9 196.7 508.5 196.8 C510.1 196.9 511.7 197.0 513.3 197.2 C514.8 197.4 516.4 197.6 518.0 197.9 C519.6 198.2 521.2 198.5 522.7 198.9 C524.3 199.2 525.9 199.5 527.4 199.9 C529.0 200.3 530.5 200.7 532.1 201.2 C533.6 201.6 535.2 202.0 536.7 202.5 C538.3 202.9 539.8 203.3 541.4 203.8 C542.9 204.2 545.2 204.8 546.0 205.1" fill="none" stroke="rgb(128,128,128)" stroke-width="1.6"/>
<path d="M479.7 252.2 C479.9 251.5 480.5 249.5 480.9 248.1 C481.3 246.7 481.7 245.4 482.1 244.0 C482.5 242.6 482.9 241.3 483.3 239.9 C483.7 238.5 484.1 237.2 484.5 235.8 C485.0 234.4 485.4 233.1 485.9 231.8 C486.4 230.4 486.9 229.1 487.5 227.8 C488.0 226.5 488.6 225.2 489.2 223.9 C489.9 222.6 490.5 221.4 491.2 220.1 C492.0 218.9 492.7 217.7 493.5 216.5 C494.3 215.4 495.2 214.2 496.1 213.1 C497.0 212.1 497.9 211.0 499.0 210.0 C500.0 209.1 501.2 208.2 502.4 207.6 C503.6 206.9 505.0 206.4 506.4 206.0 C507.7 205.7 509.2 205.5 510.6 205.4 C512.0 205.3 513.4 205.4 514.9 205.5 C516.3 205.5 517.7 205.7 519.1 205.9 C520.5 206.1 521.9 206.3 523.4 206.5 C524.8 206.8 526.1 207.1 527.5 207.4 C528.9 207.7 530.3 208.0 531.7 208.4 C533.1 208.7 534.5 209.1 535.8 209.5 C537.2 209.9 538.6 210.2 540.0 210.6 C541.3 211.0 542.7 211.4 544.1 211.8 C545.5 212.2 547.5 212.8 548.2 212.9" fill="none" stroke="rgb(39,39,39)" stroke-width="2.2" opacity="0.39"/>
<path d="M477.5 250.0 C477.7 249.3 478.3 247.3 478.7 245.9 C479.1 244.5 479.5 243.2 479.9 241.8 C480.3 240.4 480.7 239.1 481.1 237.7 C481.5 236.3 481.9 235.0 482.3 233.6 C482.8 232.2 483.2 230.9 483.7 229.6 C484.2 228.2 484.7 226.9 485.3 225.6 C485.8 224.3 486.4 223.0 487.0 221.7 C487.7 220.4 488.3 219.2 489.0 217.9 C489.8 216.7 490.5 215.5 491.3 214.3 C492.1 213.2 493.0 212.0 493.9 210.9 C494.8 209.9 495.7 208.8 496.8 207.8 C497.8 206.9 499.0 206.0 500.2 205.4 C501.4 204.7 502.8 204.2 504.2 203.8 C505.5 203.5 507.0 203.3 508.4 203.2 C509.8 203.1 511.2 203.2 512.7 203.3 C514.1 203.3 515.5 203.5 516.9 203.7 C518.3 203.9 519.7 204.1 521.2 204.3 C522.6 204.6 523.9 204.9 525.3 205.2 C526.7 205.5 528.1 205.8 529.5 206.2 C530.9 206.5 532.3 206.9 533.6 207.3 C535.0 207.7 536.4 208.0 537.8 208.4 C539.1 208.8 540.5 209.2 541.9 209.6 C543.3 210.0 545.3 210.6 546.0 210.7" fill="none" stroke="rgb(153,153,153)" stroke-width="2.4"/>
<path d="M487.6 252.2 C487.8 251.6 488.3 249.8 488.7 248.6 C489.0 247.4 489.4 246.2 489.8 245.1 C490.1 243.9 490.5 242.7 490.9 241.5 C491.2 240.3 491.6 239.1 492.0 237.9 C492.4 236.7 492.8 235.6 493.3 234.4 C493.7 233.2 494.2 232.1 494.7 230.9 C495.2 229.8 495.7 228.7 496.3 227.6 C496.8 226.5 497.4 225.4 498.1 224.3 C498.7 223.3 499.4 222.2 500.1 221.2 C500.9 220.2 501.6 219.2 502.5 218.3 C503.3 217.4 504.1 216.5 505.1 215.7 C506.0 214.9 507.0 214.2 508.1 213.6 C509.2 213.1 510.4 212.7 511.6 212.4 C512.8 212.1 514.1 212.0 515.3 211.9 C516.6 211.8 517.8 211.9 519.1 211.9 C520.3 212.0 521.6 212.2 522.8 212.3 C524.0 212.5 525.3 212.7 526.5 212.9 C527.7 213.2 528.9 213.4 530.1 213.7 C531.4 214.0 532.6 214.3 533.8 214.6 C535.0 214.9 536.2 215.3 537.4 215.6 C538.6 215.9 539.8 216.3 541.0 216.6 C542.2 216.9 543.4 217.3 544.6 217.6 C545.8 218.0 547.6 218.5 548.2 218.6" fill="none" stroke="rgb(46,46,46)" stroke-width="3.1" opacity="0.39"/>
<path d="M485.4 250.0 C485.6 249.4 486.1 247.6 486.5 246.4 C486.8 245.2 487.2 244.0 487.6 242.9 C487.9 241.7 488.3 240.5 488.7 239.3 C489.0 238.1 489.4 236.9 489.8 235.7 C490.2 234.5 490.6 233.4 491.1 232.2 C491.5 231.0 492.0 229.9 492.5 228.7 C493.0 227.6 493.5 226.5 494.1 225.4 C494.6 224.3 495.2 223.2 495.9 222.1 C496.5 221.1 497.2 220.0 497.9 219.0 C498.7 218.0 499.4 217.0 500.3 216.1 C501.1 215.2 501.9 214.3 502.9 213.5 C503.8 212.7 504.8 212.0 505.9 211.4 C507.0 210.9 508.2 210.5 509.4 210.2 C510.6 209.9 511.9 209.8 513.1 209.7 C514.4 209.6 515.6 209.7 516.9 209.7 C518.1 209.8 519.4 210.0 520.6 210.1 C521.8 210.3 523.1 210.5 524.3 210.7 C525.5 211.0 526.7 211.2 527.9 211.5 C529.2 211.8 530.4 212.1 531.6 212.4 C532.8 212.7 534.0 213.1 535.2 213.4 C536.4 213.7 537.6 214.1 538.8 214.4 C540.0 214.7 541.2 215.1 542.4 215.4 C543.6 215.8 545.4 216.3 546.0 216.4" fill="none" stroke="rgb(184,184,184)" stroke-width="2.5"/>
<path d="M495.4 252.2 C495.6 251.7 496.1 250.2 496.4 249.2 C496.8 248.1 497.1 247.1 497.4 246.1 C497.8 245.1 498.1 244.1 498.4 243.1 C498.8 242.1 499.1 241.0 499.5 240.0 C499.8 239.0 500.2 238.0 500.6 237.0 C501.0 236.0 501.4 235.1 501.9 234.1 C502.3 233.1 502.8 232.2 503.3 231.3 C503.8 230.3 504.4 229.4 504.9 228.5 C505.5 227.6 506.1 226.8 506.8 225.9 C507.4 225.1 508.1 224.3 508.8 223.5 C509.6 222.7 510.3 222.0 511.2 221.3 C512.0 220.7 512.9 220.1 513.9 219.7 C514.8 219.3 515.9 218.9 516.9 218.7 C517.9 218.5 519.0 218.4 520.1 218.3 C521.1 218.3 522.2 218.3 523.3 218.4 C524.3 218.5 525.4 218.6 526.5 218.8 C527.5 218.9 528.6 219.1 529.6 219.3 C530.7 219.6 531.7 219.8 532.7 220.1 C533.8 220.3 534.8 220.6 535.8 220.8 C536.9 221.1 537.9 221.4 538.9 221.7 C540.0 222.0 541.0 222.3 542.0 222.6 C543.1 222.9 544.1 223.2 545.1 223.4 C546.1 223.7 547.7 224.2 548.2 224.3" fill="none" stroke="rgb(52,52,52)" stroke-width="3.3" opacity="0.39"/>
<path d="M493.2 250.0 C493.4 249.5 493.9 248.0 494.2 247.0 C494.6 245.9 494.9 244.9 495.2 243.9 C495.6 242.9 495.9 241.9 496.2 240.9 C496.6 239.9 496.9 238.8 497.3 237.8 C497.6 236.8 498.0 235.8 498.4 234.8 C498.8 233.8 499.2 232.9 499.7 231.9 C500.1 230.9 500.6 230.0 501.1 229.1 C501.6 228.1 502.2 227.2 502.7 226.3 C503.3 225.4 503.9 224.6 504.6 223.7 C505.2 222.9 505.9 222.1 506.6 221.3 C507.4 220.5 508.1 219.8 509.0 219.1 C509.8 218.5 510.7 217.9 511.7 217.5 C512.6 217.1 513.7 216.7 514.7 216.5 C515.7 216.3 516.8 216.2 517.9 216.1 C518.9 216.1 520.0 216.1 521.1 216.2 C522.1 216.3 523.2 216.4 524.3 216.6 C525.3 216.7 526.4 216.9 527.4 217.1 C528.5 217.4 529.5 217.6 530.5 217.9 C531.6 218.1 532.6 218.4 533.6 218.6 C534.7 218.9 535.7 219.2 536.7 219.5 C537.8 219.8 538.8 220.1 539.8 220.4 C540.9 220.7 541.9 221.0 542.9 221.2 C543.9 221.5 545.5 222.0 546.0 222.1" fill="none" stroke="rgb(131,131,131)" stroke-width="1.6"/>
<path d="M503.3 252.2 C503.5 251.8 503.9 250.5 504.2 249.7 C504.5 248.8 504.8 248.0 505.1 247.2 C505.4 246.3 505.7 245.5 506.0 244.7 C506.3 243.8 506.6 243.0 506.9 242.2 C507.2 241.3 507.6 240.5 507.9 239.7 C508.3 238.9 508.6 238.1 509.0 237.3 C509.4 236.5 509.9 235.7 510.3 234.9 C510.8 234.2 511.3 233.4 511.8 232.7 C512.3 232.0 512.8 231.3 513.4 230.6 C514.0 229.9 514.6 229.3 515.2 228.7 C515.9 228.1 516.5 227.5 517.3 227.0 C518.0 226.5 518.8 226.1 519.6 225.8 C520.4 225.4 521.3 225.2 522.2 225.1 C523.0 224.9 523.9 224.8 524.8 224.8 C525.7 224.8 526.6 224.8 527.5 224.9 C528.4 225.0 529.3 225.1 530.1 225.2 C531.0 225.4 531.9 225.6 532.8 225.7 C533.6 225.9 534.5 226.2 535.3 226.4 C536.2 226.6 537.1 226.8 537.9 227.1 C538.8 227.3 539.6 227.6 540.5 227.8 C541.4 228.0 542.2 228.3 543.1 228.5 C543.9 228.8 544.8 229.0 545.6 229.3 C546.5 229.5 547.8 229.9 548.2 230.0" fill="none" stroke="rgb(43,43,43)" stroke-width="2.9" opacity="0.39"/>
<path d="M501.1 250.0 C501.3 249.6 501.7 248.3 502.0 247.5 C502.3 246.6 502.6 245.8 502.9 245.0 C503.2 244.1 503.5 243.3 503.8 242.5 C504.1 241.6 504.4 240.8 504.7 240.0 C505.0 239.1 505.4 238.3 505.7 237.5 C506.1 236.7 506.4 235.9 506.8 235.1 C507.2 234.3 507.7 233.5 508.1 232.7 C508.6 232.0 509.1 231.2 509.6 230.5 C510.1 229.8 510.6 229.1 511.2 228.4 C511.8 227.7 512.4 227.1 513.0 226.5 C513.7 225.9 514.3 225.3 515.1 224.8 C515.8 224.3 516.6 223.9 517.4 223.6 C518.2 223.2 519.1 223.0 520.0 222.9 C520.8 222.7 521.7 222.6 522.6 222.6 C523.5 222.6 524.4 222.6 525.3 222.7 C526.2 222.8 527.1 222.9 527.9 223.0 C528.8 223.2 529.7 223.4 530.6 223.5 C531.4 223.7 532.3 224.0 533.1 224.2 C534.0 224.4 534.9 224.6 535.7 224.9 C536.6 225.1 537.4 225.4 538.3 225.6 C539.2 225.8 540.0 226.1 540.9 226.3 C541.7 226.6 542.6 226.8 543.4 227.1 C544.3 227.3 545.6 227.7 546.0 227.8" fill="none" stroke="rgb(137,137,137)" stroke-width="2.4"/>
<path d="M511.2 252.2 C511.3 251.9 511.7 250.9 512.0 250.2 C512.3 249.6 512.5 248.9 512.8 248.2 C513.1 247.6 513.3 246.9 513.6 246.3 C513.8 245.6 514.1 244.9 514.4 244.3 C514.7 243.6 514.9 243.0 515.2 242.3 C515.6 241.7 515.9 241.0 516.2 240.4 C516.6 239.8 517.0 239.2 517.4 238.6 C517.8 238.0 518.2 237.4 518.6 236.9 C519.1 236.3 519.5 235.8 520.0 235.3 C520.5 234.8 521.1 234.3 521.6 233.8 C522.2 233.4 522.7 233.0 523.4 232.6 C524.0 232.3 524.7 232.0 525.3 231.8 C526.0 231.6 526.7 231.5 527.4 231.4 C528.1 231.3 528.8 231.3 529.6 231.3 C530.3 231.3 531.0 231.3 531.7 231.4 C532.4 231.5 533.1 231.6 533.8 231.7 C534.5 231.8 535.2 232.0 535.9 232.2 C536.6 232.3 537.3 232.5 537.9 232.7 C538.6 232.9 539.3 233.1 540.0 233.3 C540.7 233.5 541.4 233.7 542.0 233.9 C542.7 234.1 543.4 234.3 544.1 234.5 C544.8 234.7 545.5 234.9 546.1 235.1 C546.8 235.3 547.9 235.6 548.2 235.7" fill="none" stroke="rgb(56,56,56)" stroke-width="2.8" opacity="0.39"/>
<path d="M509.0 250.0 C509.1 249.7 509.5 248.7 509.8 248.0 C510.1 247.4 510.3 246.7 510.6 246.0 C510.9 245.4 511.1 244.7 511.4 244.1 C511.6 243.4 511.9 242.7 512.2 242.1 C512.5 241.4 512.7 240.8 513.0 240.1 C513.4 239.5 513.7 238.8 514.0 238.2 C514.4 237.6 514.8 237.0 515.2 236.4 C515.6 235.8 516.0 235.2 516.4 234.7 C516.9 234.1 517.3 233.6 517.8 233.1 C518.3 232.6 518.9 232.1 519.4 231.6 C520.0 231.2 520.5 230.8 521.2 230.4 C521.8 230.1 522.5 229.8 523.1 229.6 C523.8 229.4 524.5 229.3 525.2 229.2 C525.9 229.1 526.6 229.1 527.4 229.1 C528.1 229.1 528.8 229.1 529.5 229.2 C530.2 229.3 530.9 229.4 531.6 229.5 C532.3 229.6 533.0 229.8 533.7 230.0 C534.4 230.1 535.1 230.3 535.7 230.5 C536.4 230.7 537.1 230.9 537.8 231.1 C538.5 231.3 539.2 231.5 539.8 231.7 C540.5 231.9 541.2 232.1 541.9 232.3 C542.6 232.5 543.3 232.7 543.9 232.9 C544.6 233.1 545.7 233.4 546.0 233.5" fill="none" stroke="rgb(154,154,154)" stroke-width="2.3"/>
</g>
<rect x="367" y="25" width="176" height="221" filter="url(#ngray)" style="mix-blend-mode:overlay" opacity="0.3"/>
</g>
<path d="M390.0 18.0 C392.3 18.9 399.5 21.2 404.0 23.5 C408.5 25.8 412.3 28.5 417.0 31.5 C421.7 34.5 427.2 38.2 432.0 41.5 C436.8 44.8 440.8 47.0 446.0 51.0 C451.2 55.0 457.3 61.2 463.0 65.4 C468.7 69.6 473.7 69.8 480.1 76.0 C486.5 82.2 496.1 95.9 501.2 102.3 C506.2 108.7 507.6 110.3 510.4 114.3 C513.2 118.2 515.5 122.7 518.0 126.0 C520.5 129.3 521.8 130.1 525.7 134.0 C529.6 137.9 537.3 145.6 541.2 149.7 C545.1 153.8 547.7 157.1 549.0 158.6" fill="none" stroke="#bababa" stroke-width="13" filter="url(#blur4)"/>
<path d="M384.0 25.0 L398.0 30.5 L411.0 38.5 L426.0 48.5 L440.0 58.0 L457.0 72.4 L474.1 83.0 L495.2 109.3 L504.4 121.3 L512.0 133.0 L519.7 141.0 L535.2 156.7 L543.0 165.6" fill="none" stroke="#1a1a1a" stroke-width="1.5"/>
<path d="M381.6 27.2 L395.6 32.7 L408.6 40.7 L423.6 50.7 L437.6 60.2 L454.6 74.6 L471.7 85.2 L492.8 111.5 L502.0 123.5 L509.6 135.2 L517.3 143.2 L532.8 158.9 L540.6 167.8" fill="none" stroke="#1a1a1a" stroke-width="1.3"/>
<clipPath id="clipC11"><path d="M367.0 170.0 L380.0 179.8 L395.3 192.0 L410.6 205.8 L422.9 221.2 L430.6 235.0 L433.6 246.0 L433.6 250 L365 250 L365 170Z"/></clipPath>
<g clip-path="url(#clipC11)">
<rect x="365" y="165" width="72" height="85" fill="#8e8e8e"/>
<path d="M361.0 174.0 C363.2 175.6 369.3 180.1 374.0 183.8 C378.7 187.5 384.2 191.7 389.3 196.0 C394.4 200.3 400.0 204.9 404.6 209.8 C409.2 214.7 413.6 220.3 416.9 225.2 C420.2 230.1 422.8 234.9 424.6 239.0 C426.4 243.1 427.1 248.2 427.6 250.0" fill="none" stroke="#a8a8a8" stroke-width="16" filter="url(#blur4)"/>
<path d="M362 204 L376 199 L388 204 L396 216 L401 232 L404 250 L362 250Z" fill="#5c5c5c" filter="url(#blur3)"/>
<ellipse cx="402" cy="244" rx="20" ry="8" fill="#747474" filter="url(#blur4)"/>
<rect x="365" y="165" width="72" height="85" filter="url(#grainK)" opacity="0.35"/>
<rect x="365" y="165" width="72" height="85" filter="url(#grainW)" opacity="0.25"/>
</g>
<rect x="367" y="25.5" width="175" height="221" filter="url(#ngray)" style="mix-blend-mode:overlay" opacity="0.25"/>
</g>
<rect x="7" y="24" width="54.5" height="23" fill="#fff"/>
<text x="16.5" y="39" font-size="15" fill="#111" stroke="#111" stroke-width="0.25">5 mm</text>
<rect x="11" y="42.8" width="47.5" height="1.9" fill="#111"/>
<rect x="7" y="229.5" width="20" height="16" fill="#fff"/>
<text x="8.5" y="241" font-size="15" fill="#111" stroke="#111" stroke-width="0.25">(a)</text>
<rect x="187" y="229.5" width="19.5" height="16" fill="#fff"/>
<text x="188.5" y="241" font-size="15" fill="#111" stroke="#111" stroke-width="0.25">(b)</text>
<rect x="522.5" y="229.5" width="19.5" height="16" fill="#fff"/>
<text x="523.5" y="241" font-size="15" fill="#111" stroke="#111" stroke-width="0.25">(c)</text>
<g font-size="15" font-weight="bold">
<text x="73" y="47" fill="#111">6061</text>
<text x="35" y="70" fill="#111">no</text>
<text x="14" y="82.5" fill="#111">cracking</text>
<text x="109.5" y="150" fill="#fff" text-anchor="middle">weld metal A</text>
<text x="109.5" y="163" fill="#fff" text-anchor="middle">(filler 4043)</text>
<text x="147.3" y="237.7" fill="#fff">6061</text>
<text x="257.3" y="42" fill="#fff">6061</text>
<text x="189.5" y="74.5" fill="#fff">liquation</text>
<text x="189.5" y="87.2" fill="#fff">cracking</text>
<text x="271" y="159" fill="#fff" text-anchor="middle">weld metal B</text>
<text x="271" y="172" fill="#fff" text-anchor="middle">(filler 5356)</text>
<text x="324.8" y="219.5" fill="#fff">6061</text>
<text x="480" y="42" fill="#fff">6061</text>
<text x="478" y="69.3" fill="#fff">liquation</text>
<text x="478" y="82" fill="#fff">cracking</text>
<text x="454.5" y="159" fill="#fff" text-anchor="middle">weld metal C</text>
<text x="454.5" y="172" fill="#fff" text-anchor="middle">(filler 1100)</text>
<text x="375.2" y="235.9" fill="#fff">1100</text>
</g>
<path d="M206.5 93.4 L210.9 89.4 L219.3 97.4 L223.3 93.7 L232 113.7 L211.6 105.7 L214.5 102.1Z" fill="#fff" stroke="#000" stroke-width="1.2" stroke-linejoin="miter"/>
<path d="M493.4 109.1 L502.5 89.5 L506.5 93.5 L514.8 85.5 L518.5 89.1 L510.8 97.5 L514.5 101.5Z" fill="#fff" stroke="#000" stroke-width="1.2" stroke-linejoin="miter"/>
<text x="51.5" y="21" font-size="15" fill="#111" stroke="#111" stroke-width="0.25">Effect of filler metal on susceptibility of 6061 Al to liquation cracking</text>
<rect x="6" y="4.7" width="537" height="1.3" fill="#6e6e6e"/>
<rect x="6" y="4.7" width="1.2" height="511" fill="#1e1e1e"/>
<rect x="541.6" y="4.7" width="1.2" height="511" fill="#1e1e1e"/>
<rect x="6" y="513.6" width="536.8" height="1.9" fill="#262626"/>
<g fill="none" stroke="#111" stroke-width="1.35">
<path d="M64.4 327.40H532.4M64.4 356.70H532.4M64.4 386.00H532.4M64.4 415.40H532.4M64.4 444.50H532.4"/>
<path d="M157.80 298.8V473.7M251.60 298.8V473.7M345.50 298.8V473.7M438.60 298.8V473.7"/>
<rect x="64.4" y="298.8" width="468.0" height="174.9" stroke-width="1.9"/>
</g>
<g font-size="15" fill="#111" stroke="#111" stroke-width="0.3" text-anchor="end">
<text x="59.3" y="304.0">600</text>
<text x="59.3" y="332.6">590</text>
<text x="59.3" y="361.9">580</text>
<text x="59.3" y="391.2">570</text>
<text x="59.3" y="420.6">560</text>
<text x="59.3" y="449.7">550</text>
<text x="59.3" y="477.5">540</text>
</g>
<g font-size="15" fill="#111" stroke="#111" stroke-width="0.3" text-anchor="middle">
<text x="62.3" y="488.7">0.75</text>
<text x="159" y="488.7">0.80</text>
<text x="252" y="488.7">085</text>
<text x="345" y="488.7">0.90</text>
<text x="435.5" y="488.7">0.95</text>
<text x="531.5" y="488.7">1</text>
</g>
<text x="226" y="508.5" font-size="15" fill="#111" stroke="#111" stroke-width="0.3">Fraction solid, f<tspan font-size="10.5" dy="3">S</tspan></text>
<text x="508" y="506.3" font-size="15" fill="#111" stroke="#111" stroke-width="0.3">(d)</text>
<text transform="translate(26.3,428.6) rotate(-90)" font-size="15" fill="#111" stroke="#111" stroke-width="0.3">Temperature, <tspan font-size="10.5" dy="-6">o</tspan><tspan dy="6">C</tspan></text>
<rect x="92.5" y="253.5" width="148" height="37" fill="#fff" stroke="#222" stroke-width="1.5"/>
<text x="98.5" y="270" font-size="15" fill="#111" stroke="#111" stroke-width="0.3">WM <tspan font-style="italic">f</tspan><tspan font-style="italic" font-size="10.5" dy="2.5">S</tspan><tspan dy="-2.5"> &lt; PMZ </tspan><tspan font-style="italic">f</tspan><tspan font-style="italic" font-size="10.5" dy="2.5">S</tspan></text>
<text x="136.5" y="285.5" font-size="15" fill="#111" stroke="#111" stroke-width="0.3">not susceptible</text>
<path d="M98.8 280.5H112.0V275.2L130.6 282L112.0 288.8V283.6H98.8Z" fill="#000"/>
<rect x="329" y="253.8" width="124" height="38" fill="#fff" stroke="#222" stroke-width="1.5"/>
<text x="340.6" y="270" font-size="15" fill="#111" stroke="#111" stroke-width="0.3">WM <tspan font-style="italic">f</tspan><tspan font-style="italic" font-size="10.5" dy="2.5">S</tspan><tspan dy="-2.5"> &gt; PMZ </tspan><tspan font-style="italic">f</tspan><tspan font-style="italic" font-size="10.5" dy="2.5">S</tspan></text>
<text x="373.5" y="285.5" font-size="15" fill="#111" stroke="#111" stroke-width="0.3">susceptible</text>
<path d="M332.7 280.5H347.7V275.2L366.3 282L347.7 288.8V283.6H332.7Z" fill="#000"/>
<path d="M104.5 298.6 L130.0 310.0 L157.5 321.9 L172.2 329.4 L191.8 340.3 L213.6 353.4 L235.5 367.9 L245.0 376.0 L252.0 383.0 L259.0 388.0 L269.0 396.2 L276.4 404.2 L281.5 408.1 L291.0 409.8 L305.5 412.2 L319.3 415.1 L345.6 420.4 L360.9 425.0 L375.5 429.1 L389.3 434.9 L399.5 438.9 L414.1 442.1 L428.6 443.6 L438.8 445.0 L450.5 446.9 L464.3 449.8 L482.6 454.3 L492.0 460.0 L500.1 468.7 L504.5 473.5" fill="none" stroke="#008a00" stroke-width="2.2" stroke-dasharray="2.7 1.8"/>
<path d="M355.3 298.7 L369.1 310.4 L379.3 320.5 L385.1 327.8 L392.4 338.0 L402.5 349.9 L408.4 357.7 L416.8 369.9 L425.2 376.0 L438.3 386.0 L448.2 396.0 L459.0 409.8 L466.6 423.6 L469.5 427.3 L473.9 438.9 L477.5 450.5 L484.1 454.2 L491.1 458.6 L498.6 462.9 L503.0 468.0 L507.5 473.5" fill="none" stroke="#000" stroke-width="2" stroke-linejoin="round"/>
<path d="M239.0 299.0 L259.8 308.6" fill="none" stroke="#0000c8" stroke-width="2"/>
<path d="M271.2 314.4 L290.8 326.4" fill="none" stroke="#0000c8" stroke-width="2"/>
<path d="M301.5 333.5 L324.1 334.3" fill="none" stroke="#0000c8" stroke-width="2"/>
<path d="M337.2 334.8 L359.7 336.0" fill="none" stroke="#0000c8" stroke-width="2"/>
<path d="M373.5 337.3 L393.1 339.2" fill="none" stroke="#0000c8" stroke-width="2"/>
<path d="M409.1 340.6 L431.4 344.4" fill="none" stroke="#0000c8" stroke-width="2"/>
<path d="M443.0 346.9 L464.8 355.6" fill="none" stroke="#0000c8" stroke-width="2"/>
<path d="M476.4 363.6 L483.0 370.5 L490.4 380.0" fill="none" stroke="#0000c8" stroke-width="2"/>
<path d="M496.3 392.2 L504.0 413.3" fill="none" stroke="#0000c8" stroke-width="2"/>
<path d="M505.9 425.8 L508.7 448.8" fill="none" stroke="#0000c8" stroke-width="2"/>
<path d="M511.6 462.2 L512.4 473.3" fill="none" stroke="#0000c8" stroke-width="2"/>
<path d="M490.0 299.1 L492.2 309.1" fill="none" stroke="#e41414" stroke-width="1.8"/>
<path d="M493.6 315.5 L495.5 325.5" fill="none" stroke="#e41414" stroke-width="1.8"/>
<path d="M496.4 332.7 L498.2 341.8" fill="none" stroke="#e41414" stroke-width="1.8"/>
<path d="M499.1 348.2 L500.9 358.2" fill="none" stroke="#e41414" stroke-width="1.8"/>
<path d="M501.8 364.5 L503.5 374.0" fill="none" stroke="#e41414" stroke-width="1.8"/>
<path d="M504.2 379.5 L505.2 385.0" fill="none" stroke="#e41414" stroke-width="1.8"/>
<path d="M505.9 387.5 L506.8 397.0" fill="none" stroke="#e41414" stroke-width="1.8"/>
<path d="M507.8 403.7 L508.7 415.2" fill="none" stroke="#e41414" stroke-width="1.8"/>
<path d="M509.1 422.0 L509.7 432.5" fill="none" stroke="#e41414" stroke-width="1.8"/>
<path d="M510.3 438.2 L511.0 448.8" fill="none" stroke="#e41414" stroke-width="1.8"/>
<path d="M513.5 456.4 L518.3 466.0" fill="none" stroke="#e41414" stroke-width="1.8"/>
<path d="M219.1 339 L211.1 304.5" stroke="#008a00" stroke-width="1.4" fill="none"/>
<path d="M207.1 291.3 L205.9 305.7 L215.1 303.4Z" fill="#008a00"/>
<path d="M412.7 323.5 L400.4 304.5" stroke="#0000c8" stroke-width="1.4" fill="none"/>
<path d="M392.4 292.2 L394.5 305.3 L404 300.9Z" fill="#0000c8"/>
<path d="M502.7 307.3 L496 279.6 L467 276.5" stroke="#e41414" stroke-width="1.4" fill="none"/>
<path d="M454 273.7 L467.6 271.3 L466.8 280Z" fill="#e41414"/>
<text transform="translate(191.5,332) rotate(33)" font-size="15" font-weight="bold" fill="#008a00">weld metal A</text>
<text transform="translate(404.5,335.5) rotate(14)" font-size="15" font-weight="bold" fill="#0000c8">weld metal B</text>
<text transform="translate(499.5,309.5) rotate(81.5)" font-size="15" font-weight="bold" fill="#e41414">weld metal C</text>
<text transform="translate(394,366) rotate(47)" font-size="14.5" font-weight="bold" fill="#111">6061 (PMZ)</text>
<g fill="#1789c8">
<circle cx="24.5" cy="485.6" r="5.6"/><circle cx="15.9" cy="503.6" r="5.2"/><circle cx="33.7" cy="503.6" r="5.2"/>
<path d="M24.5 487 L16.5 503.2 L33.2 503.2Z" stroke="#1789c8" stroke-width="10.5" stroke-linejoin="round"/>
</g>
<text x="18.2" y="507.7" font-family="Liberation Serif,serif" font-weight="bold" font-size="24.5" fill="#fff">P</text>
</svg>
</body></html>
